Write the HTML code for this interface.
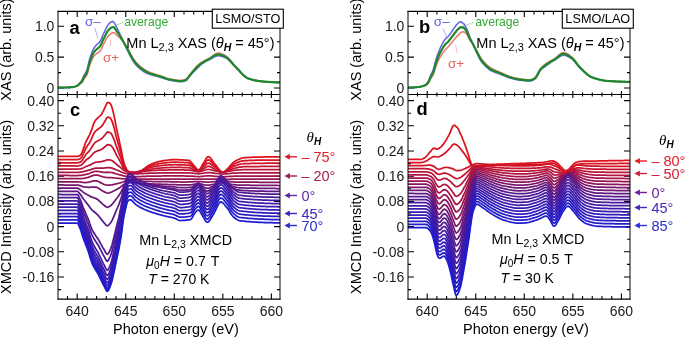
<!DOCTYPE html><html><head><meta charset="utf-8"><style>html,body{margin:0;padding:0;background:#fff;}svg{display:block;}</style></head><body>
<svg xmlns="http://www.w3.org/2000/svg" width="685" height="338" viewBox="0 0 685 338" style="will-change:transform">
<defs>
<clipPath id="clipA0"><rect x="58.0" y="11.5" width="222.0" height="83.0"/></clipPath>
<clipPath id="clipC0"><rect x="58.0" y="94.5" width="222.0" height="204.5"/></clipPath>
<clipPath id="clipA350"><rect x="408.0" y="11.5" width="222.0" height="83.0"/></clipPath>
<clipPath id="clipC350"><rect x="408.0" y="94.5" width="222.0" height="204.5"/></clipPath>
</defs>
<rect width="685" height="338" fill="#fff"/>
<g stroke="#000" stroke-width="1.1" fill="none">
<path d="M67.49 11.50v3.00M67.49 94.50v-2.00M67.49 94.50v2.00M67.49 299.00v-3.00M77.20 11.50v5.50M77.20 94.50v-3.40M77.20 94.50v3.40M77.20 299.00v-5.50M86.91 11.50v3.00M86.91 94.50v-2.00M86.91 94.50v2.00M86.91 299.00v-3.00M96.62 11.50v3.00M96.62 94.50v-2.00M96.62 94.50v2.00M96.62 299.00v-3.00M106.33 11.50v3.00M106.33 94.50v-2.00M106.33 94.50v2.00M106.33 299.00v-3.00M116.04 11.50v3.00M116.04 94.50v-2.00M116.04 94.50v2.00M116.04 299.00v-3.00M125.75 11.50v5.50M125.75 94.50v-3.40M125.75 94.50v3.40M125.75 299.00v-5.50M135.46 11.50v3.00M135.46 94.50v-2.00M135.46 94.50v2.00M135.46 299.00v-3.00M145.17 11.50v3.00M145.17 94.50v-2.00M145.17 94.50v2.00M145.17 299.00v-3.00M154.88 11.50v3.00M154.88 94.50v-2.00M154.88 94.50v2.00M154.88 299.00v-3.00M164.59 11.50v3.00M164.59 94.50v-2.00M164.59 94.50v2.00M164.59 299.00v-3.00M174.30 11.50v5.50M174.30 94.50v-3.40M174.30 94.50v3.40M174.30 299.00v-5.50M184.01 11.50v3.00M184.01 94.50v-2.00M184.01 94.50v2.00M184.01 299.00v-3.00M193.72 11.50v3.00M193.72 94.50v-2.00M193.72 94.50v2.00M193.72 299.00v-3.00M203.43 11.50v3.00M203.43 94.50v-2.00M203.43 94.50v2.00M203.43 299.00v-3.00M213.14 11.50v3.00M213.14 94.50v-2.00M213.14 94.50v2.00M213.14 299.00v-3.00M222.85 11.50v5.50M222.85 94.50v-3.40M222.85 94.50v3.40M222.85 299.00v-5.50M232.56 11.50v3.00M232.56 94.50v-2.00M232.56 94.50v2.00M232.56 299.00v-3.00M242.27 11.50v3.00M242.27 94.50v-2.00M242.27 94.50v2.00M242.27 299.00v-3.00M251.98 11.50v3.00M251.98 94.50v-2.00M251.98 94.50v2.00M251.98 299.00v-3.00M261.69 11.50v3.00M261.69 94.50v-2.00M261.69 94.50v2.00M261.69 299.00v-3.00M271.40 11.50v5.50M271.40 94.50v-3.40M271.40 94.50v3.40M271.40 299.00v-5.50M58.00 88.00h6.00M280.00 88.00h-6.00M58.00 72.58h3.00M280.00 72.58h-3.00M58.00 57.15h6.00M280.00 57.15h-6.00M58.00 41.72h3.00M280.00 41.72h-3.00M58.00 26.30h6.00M280.00 26.30h-6.00M58.00 289.60h3.00M280.00 289.60h-3.00M58.00 277.00h6.00M280.00 277.00h-6.00M58.00 264.40h3.00M280.00 264.40h-3.00M58.00 251.80h6.00M280.00 251.80h-6.00M58.00 239.20h3.00M280.00 239.20h-3.00M58.00 226.60h6.00M280.00 226.60h-6.00M58.00 214.00h3.00M280.00 214.00h-3.00M58.00 201.40h6.00M280.00 201.40h-6.00M58.00 188.80h3.00M280.00 188.80h-3.00M58.00 176.20h6.00M280.00 176.20h-6.00M58.00 163.60h3.00M280.00 163.60h-3.00M58.00 151.00h6.00M280.00 151.00h-6.00M58.00 138.40h3.00M280.00 138.40h-3.00M58.00 125.80h6.00M280.00 125.80h-6.00M58.00 113.20h3.00M280.00 113.20h-3.00M58.00 100.60h6.00M280.00 100.60h-6.00"/>
</g>
<g font-family='"Liberation Sans", sans-serif' font-size="14" fill="#1a1a1a" text-anchor="end">
<text x="54.40" y="93.00">0</text>
<text x="54.40" y="62.15">0.5</text>
<text x="54.40" y="31.30">1.0</text>
<text x="54.40" y="282.00">-0.16</text>
<text x="54.40" y="256.80">-0.08</text>
<text x="54.40" y="231.60">0</text>
<text x="54.40" y="206.40">0.08</text>
<text x="54.40" y="181.20">0.16</text>
<text x="54.40" y="156.00">0.24</text>
<text x="54.40" y="130.80">0.32</text>
<text x="54.40" y="105.60">0.40</text>
</g>
<g font-family='"Liberation Sans", sans-serif' font-size="14" fill="#1a1a1a" text-anchor="middle">
<text x="77.20" y="315.8">640</text>
<text x="125.75" y="315.8">645</text>
<text x="174.30" y="315.8">650</text>
<text x="222.85" y="315.8">655</text>
<text x="271.40" y="315.8">660</text>
</g>
<g stroke="#000" stroke-width="1.1" fill="none">
<path d="M417.49 11.50v3.00M417.49 94.50v-2.00M417.49 94.50v2.00M417.49 299.00v-3.00M427.20 11.50v5.50M427.20 94.50v-3.40M427.20 94.50v3.40M427.20 299.00v-5.50M436.91 11.50v3.00M436.91 94.50v-2.00M436.91 94.50v2.00M436.91 299.00v-3.00M446.62 11.50v3.00M446.62 94.50v-2.00M446.62 94.50v2.00M446.62 299.00v-3.00M456.33 11.50v3.00M456.33 94.50v-2.00M456.33 94.50v2.00M456.33 299.00v-3.00M466.04 11.50v3.00M466.04 94.50v-2.00M466.04 94.50v2.00M466.04 299.00v-3.00M475.75 11.50v5.50M475.75 94.50v-3.40M475.75 94.50v3.40M475.75 299.00v-5.50M485.46 11.50v3.00M485.46 94.50v-2.00M485.46 94.50v2.00M485.46 299.00v-3.00M495.17 11.50v3.00M495.17 94.50v-2.00M495.17 94.50v2.00M495.17 299.00v-3.00M504.88 11.50v3.00M504.88 94.50v-2.00M504.88 94.50v2.00M504.88 299.00v-3.00M514.59 11.50v3.00M514.59 94.50v-2.00M514.59 94.50v2.00M514.59 299.00v-3.00M524.30 11.50v5.50M524.30 94.50v-3.40M524.30 94.50v3.40M524.30 299.00v-5.50M534.01 11.50v3.00M534.01 94.50v-2.00M534.01 94.50v2.00M534.01 299.00v-3.00M543.72 11.50v3.00M543.72 94.50v-2.00M543.72 94.50v2.00M543.72 299.00v-3.00M553.43 11.50v3.00M553.43 94.50v-2.00M553.43 94.50v2.00M553.43 299.00v-3.00M563.14 11.50v3.00M563.14 94.50v-2.00M563.14 94.50v2.00M563.14 299.00v-3.00M572.85 11.50v5.50M572.85 94.50v-3.40M572.85 94.50v3.40M572.85 299.00v-5.50M582.56 11.50v3.00M582.56 94.50v-2.00M582.56 94.50v2.00M582.56 299.00v-3.00M592.27 11.50v3.00M592.27 94.50v-2.00M592.27 94.50v2.00M592.27 299.00v-3.00M601.98 11.50v3.00M601.98 94.50v-2.00M601.98 94.50v2.00M601.98 299.00v-3.00M611.69 11.50v3.00M611.69 94.50v-2.00M611.69 94.50v2.00M611.69 299.00v-3.00M621.40 11.50v5.50M621.40 94.50v-3.40M621.40 94.50v3.40M621.40 299.00v-5.50M408.00 88.00h6.00M630.00 88.00h-6.00M408.00 72.58h3.00M630.00 72.58h-3.00M408.00 57.15h6.00M630.00 57.15h-6.00M408.00 41.72h3.00M630.00 41.72h-3.00M408.00 26.30h6.00M630.00 26.30h-6.00M408.00 289.60h3.00M630.00 289.60h-3.00M408.00 277.00h6.00M630.00 277.00h-6.00M408.00 264.40h3.00M630.00 264.40h-3.00M408.00 251.80h6.00M630.00 251.80h-6.00M408.00 239.20h3.00M630.00 239.20h-3.00M408.00 226.60h6.00M630.00 226.60h-6.00M408.00 214.00h3.00M630.00 214.00h-3.00M408.00 201.40h6.00M630.00 201.40h-6.00M408.00 188.80h3.00M630.00 188.80h-3.00M408.00 176.20h6.00M630.00 176.20h-6.00M408.00 163.60h3.00M630.00 163.60h-3.00M408.00 151.00h6.00M630.00 151.00h-6.00M408.00 138.40h3.00M630.00 138.40h-3.00M408.00 125.80h6.00M630.00 125.80h-6.00M408.00 113.20h3.00M630.00 113.20h-3.00M408.00 100.60h6.00M630.00 100.60h-6.00"/>
</g>
<g font-family='"Liberation Sans", sans-serif' font-size="14" fill="#1a1a1a" text-anchor="end">
<text x="404.40" y="93.00">0</text>
<text x="404.40" y="62.15">0.5</text>
<text x="404.40" y="31.30">1.0</text>
<text x="404.40" y="282.00">-0.16</text>
<text x="404.40" y="256.80">-0.08</text>
<text x="404.40" y="231.60">0</text>
<text x="404.40" y="206.40">0.08</text>
<text x="404.40" y="181.20">0.16</text>
<text x="404.40" y="156.00">0.24</text>
<text x="404.40" y="130.80">0.32</text>
<text x="404.40" y="105.60">0.40</text>
</g>
<g font-family='"Liberation Sans", sans-serif' font-size="14" fill="#1a1a1a" text-anchor="middle">
<text x="427.20" y="315.8">640</text>
<text x="475.75" y="315.8">645</text>
<text x="524.30" y="315.8">650</text>
<text x="572.85" y="315.8">655</text>
<text x="621.40" y="315.8">660</text>
</g>
<g fill="none" stroke-linejoin="round" clip-path="url(#clipA0)">
<path d="M57.8 87.6 58.8 87.6 59.7 87.6 60.7 87.6 61.7 87.6 62.6 87.6 63.6 87.6 64.6 87.5 65.5 87.5 66.5 87.5 67.5 87.4 68.5 87.4 69.4 87.4 70.4 87.3 71.4 87.2 72.3 87.2 73.3 87.0 74.3 86.8 75.3 86.5 76.2 86.1 77.2 85.7 78.2 85.2 79.1 84.5 80.1 83.9 81.1 83.2 82.1 82.4 83.0 80.8 84.0 78.7 85.0 77.7 85.9 76.6 86.9 75.1 87.9 71.8 88.9 67.9 89.8 64.8 90.8 62.3 91.8 60.2 92.7 58.2 93.7 56.4 94.7 55.3 95.6 54.5 96.6 53.7 97.6 53.0 98.6 52.4 99.5 51.6 100.5 50.5 101.5 48.6 102.4 46.3 103.4 44.4 104.4 42.5 105.4 40.7 106.3 38.9 107.3 37.2 108.3 36.1 109.2 35.1 110.2 34.2 111.2 33.5 112.2 32.9 113.1 32.5 114.1 32.7 115.1 33.4 116.0 34.4 117.0 35.3 118.0 36.0 119.0 36.9 119.9 37.9 120.9 39.0 121.9 40.1 122.8 41.3 123.8 42.5 124.8 43.9 125.8 45.4 126.7 47.0 127.7 48.6 128.7 50.3 129.6 52.1 130.6 53.9 131.6 55.6 132.5 57.3 133.5 58.9 134.5 60.3 135.5 61.6 136.4 62.7 137.4 63.6 138.4 64.6 139.3 65.5 140.3 66.4 141.3 67.1 142.3 67.9 143.2 68.6 144.2 69.3 145.2 69.9 146.1 70.5 147.1 71.0 148.1 71.5 149.1 71.9 150.0 72.4 151.0 72.8 152.0 73.1 152.9 73.5 153.9 73.8 154.9 74.1 155.9 74.4 156.8 74.7 157.8 75.0 158.8 75.2 159.7 75.5 160.7 75.9 161.7 76.2 162.6 76.6 163.6 76.9 164.6 77.3 165.6 77.7 166.5 78.0 167.5 78.3 168.5 78.6 169.4 78.9 170.4 79.1 171.4 79.2 172.4 79.4 173.3 79.6 174.3 79.8 175.3 79.9 176.2 80.1 177.2 80.2 178.2 80.3 179.2 80.4 180.1 80.4 181.1 80.4 182.1 80.3 183.0 80.2 184.0 79.9 185.0 79.6 186.0 79.2 186.9 78.5 187.9 77.3 188.9 76.0 189.8 74.6 190.8 73.4 191.8 72.2 192.7 70.9 193.7 69.7 194.7 68.5 195.7 67.4 196.6 66.4 197.6 65.4 198.6 64.5 199.5 63.7 200.5 63.0 201.5 62.4 202.5 61.8 203.4 61.3 204.4 60.8 205.4 60.3 206.3 59.8 207.3 59.3 208.3 58.8 209.3 58.2 210.2 57.6 211.2 56.9 212.2 56.1 213.1 55.4 214.1 54.7 215.1 54.1 216.1 53.6 217.0 53.3 218.0 53.1 219.0 53.1 219.9 53.3 220.9 53.6 221.9 54.0 222.9 54.4 223.8 54.9 224.8 55.4 225.8 56.0 226.7 56.6 227.7 57.4 228.7 58.4 229.6 59.4 230.6 60.5 231.6 61.7 232.6 62.9 233.5 64.1 234.5 65.3 235.5 66.4 236.4 67.4 237.4 68.4 238.4 69.5 239.4 70.6 240.3 71.7 241.3 72.8 242.3 73.8 243.2 74.8 244.2 75.7 245.2 76.5 246.2 77.2 247.1 77.8 248.1 78.2 249.1 78.6 250.0 78.9 251.0 79.2 252.0 79.5 253.0 79.7 253.9 80.0 254.9 80.2 255.9 80.4 256.8 80.6 257.8 80.8 258.8 80.9 259.7 81.1 260.7 81.2 261.7 81.3 262.7 81.4 263.6 81.5 264.6 81.6 265.6 81.7 266.5 81.8 267.5 81.8 268.5 81.9 269.5 82.0 270.4 82.1 271.4 82.1 272.4 82.2 273.3 82.2 274.3 82.3 275.3 82.3 276.3 82.4 277.2 82.4 278.2 82.4 279.2 82.4 280.1 82.4" stroke="#ec7a76" stroke-width="1.6"/>
<path d="M57.8 87.6 58.8 87.6 59.7 87.6 60.7 87.6 61.7 87.6 62.6 87.6 63.6 87.6 64.6 87.5 65.5 87.5 66.5 87.5 67.5 87.4 68.5 87.4 69.4 87.4 70.4 87.3 71.4 87.2 72.3 87.2 73.3 87.0 74.3 86.8 75.3 86.5 76.2 86.1 77.2 85.7 78.2 85.0 79.1 83.9 80.1 82.6 81.1 81.3 82.1 79.9 83.0 77.8 84.0 75.3 85.0 73.7 85.9 72.2 86.9 70.2 87.9 66.4 88.9 62.0 89.8 58.5 90.8 55.6 91.8 53.0 92.7 50.6 93.7 48.5 94.7 47.0 95.6 45.9 96.6 44.8 97.6 43.9 98.6 43.0 99.5 42.1 100.5 40.8 101.5 38.7 102.4 36.2 103.4 34.0 104.4 31.9 105.4 29.8 106.3 27.8 107.3 26.0 108.3 24.6 109.2 23.5 110.2 22.5 111.2 21.8 112.2 21.4 113.1 21.6 114.1 22.6 115.1 24.2 116.0 26.1 117.0 28.1 118.0 30.1 119.0 32.1 119.9 34.1 120.9 36.2 121.9 38.3 122.8 40.4 123.8 42.5 124.8 44.6 125.8 46.7 126.7 48.7 127.7 50.7 128.7 52.7 129.6 54.7 130.6 56.6 131.6 58.3 132.5 60.0 133.5 61.6 134.5 63.0 135.5 64.3 136.4 65.4 137.4 66.4 138.4 67.3 139.3 68.2 140.3 69.1 141.3 69.9 142.3 70.6 143.2 71.2 144.2 71.8 145.2 72.4 146.1 72.9 147.1 73.3 148.1 73.7 149.1 74.1 150.0 74.4 151.0 74.7 152.0 75.0 152.9 75.3 153.9 75.6 154.9 75.8 155.9 76.1 156.8 76.3 157.8 76.6 158.8 76.8 159.7 77.1 160.7 77.4 161.7 77.7 162.6 78.0 163.6 78.3 164.6 78.7 165.6 79.0 166.5 79.3 167.5 79.6 168.5 79.9 169.4 80.1 170.4 80.3 171.4 80.5 172.4 80.7 173.3 80.8 174.3 81.0 175.3 81.2 176.2 81.3 177.2 81.4 178.2 81.5 179.2 81.6 180.1 81.6 181.1 81.6 182.1 81.6 183.0 81.4 184.0 81.2 185.0 80.8 186.0 80.5 186.9 79.8 187.9 78.6 188.9 77.2 189.8 75.9 190.8 74.9 191.8 73.8 192.7 72.8 193.7 71.7 194.7 70.8 195.7 69.8 196.6 68.9 197.6 67.9 198.6 66.9 199.5 65.9 200.5 65.0 201.5 64.2 202.5 63.5 203.4 62.8 204.4 62.2 205.4 61.6 206.3 61.1 207.3 60.6 208.3 60.1 209.3 59.7 210.2 59.2 211.2 58.7 212.2 58.1 213.1 57.6 214.1 57.0 215.1 56.6 216.1 56.2 217.0 55.9 218.0 55.8 219.0 55.8 219.9 55.9 220.9 56.1 221.9 56.4 222.9 56.7 223.8 57.1 224.8 57.5 225.8 57.9 226.7 58.5 227.7 59.1 228.7 60.0 229.6 60.9 230.6 61.9 231.6 63.0 232.6 64.1 233.5 65.2 234.5 66.2 235.5 67.2 236.4 68.1 237.4 69.1 238.4 70.1 239.4 71.1 240.3 72.1 241.3 73.2 242.3 74.2 243.2 75.1 244.2 76.0 245.2 76.8 246.2 77.5 247.1 78.1 248.1 78.5 249.1 78.8 250.0 79.1 251.0 79.4 252.0 79.7 253.0 79.9 253.9 80.2 254.9 80.4 255.9 80.6 256.8 80.8 257.8 80.9 258.8 81.1 259.7 81.2 260.7 81.3 261.7 81.4 262.7 81.5 263.6 81.6 264.6 81.7 265.6 81.7 266.5 81.8 267.5 81.9 268.5 82.0 269.5 82.0 270.4 82.1 271.4 82.1 272.4 82.2 273.3 82.2 274.3 82.3 275.3 82.3 276.3 82.4 277.2 82.4 278.2 82.4 279.2 82.4 280.1 82.4" stroke="#6a6ae6" stroke-width="1.6"/>
<path d="M57.8 87.6 58.8 87.6 59.7 87.6 60.7 87.6 61.7 87.6 62.6 87.6 63.6 87.6 64.6 87.5 65.5 87.5 66.5 87.5 67.5 87.4 68.5 87.4 69.4 87.4 70.4 87.3 71.4 87.2 72.3 87.2 73.3 87.0 74.3 86.8 75.3 86.5 76.2 86.1 77.2 85.7 78.2 85.1 79.1 84.2 80.1 83.2 81.1 82.3 82.1 81.1 83.0 79.3 84.0 77.0 85.0 75.7 85.9 74.4 86.9 72.7 87.9 69.1 88.9 65.0 89.8 61.7 90.8 59.0 91.8 56.6 92.7 54.4 93.7 52.4 94.7 51.2 95.6 50.2 96.6 49.3 97.6 48.5 98.6 47.7 99.5 46.8 100.5 45.6 101.5 43.6 102.4 41.3 103.4 39.2 104.4 37.2 105.4 35.3 106.3 33.4 107.3 31.6 108.3 30.4 109.2 29.3 110.2 28.4 111.2 27.6 112.2 27.2 113.1 27.1 114.1 27.6 115.1 28.8 116.0 30.2 117.0 31.7 118.0 33.0 119.0 34.5 119.9 36.0 120.9 37.6 121.9 39.2 122.8 40.8 123.8 42.5 124.8 44.3 125.8 46.1 126.7 47.8 127.7 49.7 128.7 51.5 129.6 53.4 130.6 55.2 131.6 57.0 132.5 58.6 133.5 60.2 134.5 61.7 135.5 62.9 136.4 64.0 137.4 65.0 138.4 66.0 139.3 66.9 140.3 67.7 141.3 68.5 142.3 69.2 143.2 69.9 144.2 70.5 145.2 71.1 146.1 71.7 147.1 72.2 148.1 72.6 149.1 73.0 150.0 73.4 151.0 73.8 152.0 74.1 152.9 74.4 153.9 74.7 154.9 75.0 155.9 75.2 156.8 75.5 157.8 75.8 158.8 76.0 159.7 76.3 160.7 76.6 161.7 76.9 162.6 77.3 163.6 77.6 164.6 78.0 165.6 78.3 166.5 78.7 167.5 79.0 168.5 79.3 169.4 79.5 170.4 79.7 171.4 79.9 172.4 80.0 173.3 80.2 174.3 80.4 175.3 80.5 176.2 80.7 177.2 80.8 178.2 80.9 179.2 81.0 180.1 81.0 181.1 81.0 182.1 81.0 183.0 80.8 184.0 80.5 185.0 80.2 186.0 79.9 186.9 79.1 187.9 77.9 188.9 76.6 189.8 75.3 190.8 74.1 191.8 73.0 192.7 71.8 193.7 70.7 194.7 69.6 195.7 68.6 196.6 67.6 197.6 66.6 198.6 65.7 199.5 64.8 200.5 64.0 201.5 63.3 202.5 62.7 203.4 62.1 204.4 61.5 205.4 61.0 206.3 60.4 207.3 59.9 208.3 59.4 209.3 58.9 210.2 58.4 211.2 57.8 212.2 57.1 213.1 56.5 214.1 55.9 215.1 55.3 216.1 54.9 217.0 54.6 218.0 54.4 219.0 54.5 219.9 54.6 220.9 54.9 221.9 55.2 222.9 55.6 223.8 56.0 224.8 56.5 225.8 57.0 226.7 57.5 227.7 58.3 228.7 59.2 229.6 60.2 230.6 61.2 231.6 62.4 232.6 63.5 233.5 64.7 234.5 65.8 235.5 66.8 236.4 67.7 237.4 68.7 238.4 69.8 239.4 70.8 240.3 71.9 241.3 73.0 242.3 74.0 243.2 75.0 244.2 75.9 245.2 76.7 246.2 77.4 247.1 78.0 248.1 78.4 249.1 78.7 250.0 79.0 251.0 79.3 252.0 79.6 253.0 79.8 253.9 80.1 254.9 80.3 255.9 80.5 256.8 80.7 257.8 80.8 258.8 81.0 259.7 81.1 260.7 81.3 261.7 81.4 262.7 81.5 263.6 81.5 264.6 81.6 265.6 81.7 266.5 81.8 267.5 81.9 268.5 81.9 269.5 82.0 270.4 82.1 271.4 82.1 272.4 82.2 273.3 82.2 274.3 82.3 275.3 82.3 276.3 82.4 277.2 82.4 278.2 82.4 279.2 82.4 280.1 82.4" stroke="#1c8a28" stroke-width="2.2"/>
</g>
<g fill="none" stroke-linejoin="round" clip-path="url(#clipA350)">
<path d="M407.8 87.6 408.8 87.6 409.7 87.6 410.7 87.6 411.7 87.5 412.6 87.5 413.6 87.4 414.6 87.4 415.5 87.3 416.5 87.2 417.5 87.1 418.5 87.0 419.4 86.9 420.4 86.7 421.4 86.5 422.3 86.3 423.3 86.0 424.3 85.7 425.3 85.4 426.2 85.0 427.2 84.3 428.2 83.4 429.1 82.0 430.1 79.8 431.1 78.0 432.1 76.8 433.0 75.3 434.0 72.8 435.0 69.5 435.9 66.5 436.9 63.8 437.9 61.4 438.9 59.3 439.8 57.5 440.8 56.0 441.8 54.5 442.7 53.0 443.7 51.6 444.7 50.4 445.6 49.3 446.6 48.4 447.6 47.5 448.6 46.4 449.5 45.2 450.5 44.0 451.5 42.9 452.4 41.7 453.4 40.6 454.4 39.4 455.4 38.2 456.3 37.1 457.3 36.0 458.3 35.1 459.2 34.1 460.2 32.9 461.2 32.3 462.2 32.0 463.1 31.9 464.1 32.0 465.1 32.6 466.0 33.6 467.0 34.8 468.0 36.4 469.0 38.4 469.9 40.2 470.9 41.5 471.9 42.6 472.8 43.8 473.8 45.4 474.8 47.1 475.8 49.0 476.7 50.7 477.7 52.4 478.7 54.1 479.6 56.0 480.6 57.7 481.6 59.1 482.5 60.3 483.5 61.4 484.5 62.5 485.5 63.5 486.4 64.5 487.4 65.4 488.4 66.2 489.3 67.0 490.3 67.7 491.3 68.3 492.3 68.8 493.2 69.3 494.2 69.8 495.2 70.2 496.1 70.6 497.1 71.1 498.1 71.5 499.1 71.9 500.0 72.3 501.0 72.7 502.0 73.1 502.9 73.6 503.9 74.0 504.9 74.5 505.9 74.9 506.8 75.3 507.8 75.7 508.8 76.1 509.7 76.4 510.7 76.7 511.7 77.0 512.6 77.3 513.6 77.6 514.6 77.8 515.6 78.1 516.5 78.3 517.5 78.5 518.5 78.7 519.4 78.8 520.4 79.0 521.4 79.1 522.4 79.2 523.3 79.3 524.3 79.5 525.3 79.6 526.2 79.6 527.2 79.7 528.2 79.8 529.2 79.8 530.1 79.8 531.1 79.6 532.1 79.3 533.0 78.8 534.0 78.2 535.0 77.6 536.0 76.6 536.9 75.1 537.9 73.3 538.9 71.5 539.8 69.8 540.8 68.4 541.8 67.3 542.7 66.3 543.7 65.4 544.7 64.6 545.7 63.9 546.6 63.2 547.6 62.6 548.6 62.1 549.5 61.5 550.5 61.0 551.5 60.5 552.5 60.0 553.4 59.5 554.4 58.9 555.4 58.2 556.3 57.5 557.3 56.6 558.3 55.7 559.3 54.8 560.2 54.0 561.2 53.3 562.2 52.7 563.1 52.5 564.1 52.5 565.1 52.7 566.1 53.1 567.0 53.6 568.0 54.2 569.0 54.9 569.9 55.6 570.9 56.3 571.9 57.1 572.9 58.0 573.8 59.0 574.8 60.3 575.8 61.6 576.7 63.0 577.7 64.3 578.7 65.6 579.6 66.7 580.6 67.7 581.6 68.7 582.6 69.7 583.5 70.7 584.5 71.7 585.5 72.6 586.4 73.5 587.4 74.3 588.4 75.1 589.4 75.8 590.3 76.4 591.3 76.9 592.3 77.3 593.2 77.6 594.2 77.9 595.2 78.3 596.2 78.6 597.1 78.9 598.1 79.1 599.1 79.4 600.0 79.7 601.0 79.9 602.0 80.1 603.0 80.3 603.9 80.5 604.9 80.6 605.9 80.7 606.8 80.8 607.8 80.9 608.8 81.0 609.7 81.1 610.7 81.1 611.7 81.2 612.7 81.3 613.6 81.3 614.6 81.4 615.6 81.4 616.5 81.5 617.5 81.5 618.5 81.5 619.5 81.6 620.4 81.6 621.4 81.7 622.4 81.7 623.3 81.7 624.3 81.7 625.3 81.8 626.3 81.8 627.2 81.8 628.2 81.8 629.2 81.8 630.1 81.8" stroke="#ec7a76" stroke-width="1.6"/>
<path d="M407.8 87.6 408.8 87.6 409.7 87.6 410.7 87.6 411.7 87.5 412.6 87.5 413.6 87.4 414.6 87.4 415.5 87.3 416.5 87.2 417.5 87.1 418.5 87.0 419.4 86.9 420.4 86.7 421.4 86.5 422.3 86.3 423.3 86.0 424.3 85.5 425.3 85.0 426.2 84.1 427.2 82.9 428.2 81.5 429.1 79.5 430.1 76.8 431.1 74.4 432.1 72.5 433.0 70.3 434.0 67.3 435.0 63.4 435.9 59.9 436.9 56.7 437.9 53.8 438.9 51.3 439.8 49.0 440.8 46.9 441.8 44.9 442.7 43.0 443.7 41.3 444.7 39.9 445.6 38.8 446.6 37.9 447.6 37.0 448.6 36.0 449.5 34.8 450.5 33.4 451.5 32.0 452.4 30.5 453.4 29.0 454.4 27.7 455.4 26.3 456.3 25.1 457.3 24.0 458.3 23.0 459.2 22.2 460.2 21.7 461.2 21.9 462.2 22.5 463.1 23.3 464.1 24.1 465.1 25.6 466.0 27.4 467.0 29.4 468.0 31.8 469.0 34.7 469.9 37.4 470.9 39.7 471.9 41.7 472.8 43.8 473.8 46.1 474.8 48.4 475.8 50.6 476.7 52.7 477.7 54.7 478.7 56.6 479.6 58.6 480.6 60.4 481.6 61.8 482.5 63.0 483.5 64.1 484.5 65.2 485.5 66.1 486.4 67.1 487.4 67.9 488.4 68.8 489.3 69.5 490.3 70.2 491.3 70.7 492.3 71.2 493.2 71.6 494.2 72.0 495.2 72.4 496.1 72.8 497.1 73.1 498.1 73.5 499.1 73.8 500.0 74.1 501.0 74.5 502.0 74.9 502.9 75.3 503.9 75.7 504.9 76.1 505.9 76.5 506.8 76.9 507.8 77.3 508.8 77.6 509.7 77.9 510.7 78.2 511.7 78.4 512.6 78.7 513.6 78.9 514.6 79.2 515.6 79.4 516.5 79.6 517.5 79.8 518.5 80.0 519.4 80.1 520.4 80.2 521.4 80.4 522.4 80.5 523.3 80.6 524.3 80.7 525.3 80.8 526.2 80.9 527.2 80.9 528.2 81.0 529.2 81.0 530.1 81.0 531.1 80.8 532.1 80.5 533.0 80.0 534.0 79.5 535.0 78.9 536.0 77.9 536.9 76.3 537.9 74.6 538.9 72.7 539.8 71.1 540.8 69.8 541.8 69.0 542.7 68.2 543.7 67.5 544.7 66.8 545.7 66.1 546.6 65.4 547.6 64.7 548.6 64.0 549.5 63.3 550.5 62.6 551.5 61.9 552.5 61.3 553.4 60.7 554.4 60.2 555.4 59.6 556.3 59.0 557.3 58.4 558.3 57.7 559.3 57.0 560.2 56.4 561.2 55.8 562.2 55.4 563.1 55.2 564.1 55.2 565.1 55.4 566.1 55.6 567.0 56.0 568.0 56.5 569.0 57.1 569.9 57.7 570.9 58.3 571.9 58.9 572.9 59.7 573.8 60.7 574.8 61.8 575.8 63.0 576.7 64.3 577.7 65.5 578.7 66.6 579.6 67.6 580.6 68.5 581.6 69.4 582.6 70.4 583.5 71.3 584.5 72.2 585.5 73.1 586.4 73.9 587.4 74.7 588.4 75.4 589.4 76.1 590.3 76.7 591.3 77.2 592.3 77.5 593.2 77.9 594.2 78.2 595.2 78.5 596.2 78.8 597.1 79.1 598.1 79.4 599.1 79.6 600.0 79.8 601.0 80.1 602.0 80.2 603.0 80.4 603.9 80.6 604.9 80.7 605.9 80.9 606.8 81.0 607.8 81.0 608.8 81.1 609.7 81.2 610.7 81.2 611.7 81.3 612.7 81.3 613.6 81.4 614.6 81.4 615.6 81.5 616.5 81.5 617.5 81.5 618.5 81.6 619.5 81.6 620.4 81.6 621.4 81.7 622.4 81.7 623.3 81.7 624.3 81.8 625.3 81.8 626.3 81.8 627.2 81.8 628.2 81.8 629.2 81.8 630.1 81.8" stroke="#6a6ae6" stroke-width="1.6"/>
<path d="M407.8 87.6 408.8 87.6 409.7 87.6 410.7 87.6 411.7 87.5 412.6 87.5 413.6 87.4 414.6 87.4 415.5 87.3 416.5 87.2 417.5 87.1 418.5 87.0 419.4 86.9 420.4 86.7 421.4 86.5 422.3 86.3 423.3 86.0 424.3 85.6 425.3 85.2 426.2 84.5 427.2 83.6 428.2 82.5 429.1 80.8 430.1 78.3 431.1 76.2 432.1 74.6 433.0 72.8 434.0 70.0 435.0 66.4 435.9 63.2 436.9 60.2 437.9 57.6 438.9 55.3 439.8 53.2 440.8 51.4 441.8 49.7 442.7 48.0 443.7 46.5 444.7 45.1 445.6 44.0 446.6 43.2 447.6 42.3 448.6 41.2 449.5 40.0 450.5 38.7 451.5 37.5 452.4 36.1 453.4 34.8 454.4 33.5 455.4 32.3 456.3 31.1 457.3 30.0 458.3 29.0 459.2 28.1 460.2 27.3 461.2 27.1 462.2 27.3 463.1 27.6 464.1 28.1 465.1 29.1 466.0 30.5 467.0 32.1 468.0 34.1 469.0 36.5 469.9 38.8 470.9 40.6 471.9 42.2 472.8 43.8 473.8 45.7 474.8 47.8 475.8 49.8 476.7 51.7 477.7 53.5 478.7 55.4 479.6 57.3 480.6 59.1 481.6 60.5 482.5 61.7 483.5 62.8 484.5 63.8 485.5 64.8 486.4 65.8 487.4 66.7 488.4 67.5 489.3 68.3 490.3 68.9 491.3 69.5 492.3 70.0 493.2 70.5 494.2 70.9 495.2 71.3 496.1 71.7 497.1 72.1 498.1 72.5 499.1 72.8 500.0 73.2 501.0 73.6 502.0 74.0 502.9 74.4 503.9 74.9 504.9 75.3 505.9 75.7 506.8 76.1 507.8 76.5 508.8 76.9 509.7 77.2 510.7 77.5 511.7 77.7 512.6 78.0 513.6 78.3 514.6 78.5 515.6 78.7 516.5 78.9 517.5 79.1 518.5 79.3 519.4 79.5 520.4 79.6 521.4 79.7 522.4 79.8 523.3 80.0 524.3 80.1 525.3 80.2 526.2 80.3 527.2 80.3 528.2 80.4 529.2 80.4 530.1 80.4 531.1 80.2 532.1 79.9 533.0 79.4 534.0 78.9 535.0 78.2 536.0 77.2 536.9 75.7 537.9 73.9 538.9 72.1 539.8 70.4 540.8 69.1 541.8 68.1 542.7 67.3 543.7 66.5 544.7 65.7 545.7 65.0 546.6 64.3 547.6 63.7 548.6 63.0 549.5 62.4 550.5 61.8 551.5 61.2 552.5 60.7 553.4 60.1 554.4 59.5 555.4 58.9 556.3 58.3 557.3 57.5 558.3 56.7 559.3 55.9 560.2 55.2 561.2 54.5 562.2 54.1 563.1 53.8 564.1 53.8 565.1 54.0 566.1 54.4 567.0 54.8 568.0 55.3 569.0 56.0 569.9 56.6 570.9 57.3 571.9 58.0 572.9 58.8 573.8 59.9 574.8 61.0 575.8 62.3 576.7 63.6 577.7 64.9 578.7 66.1 579.6 67.1 580.6 68.1 581.6 69.1 582.6 70.0 583.5 71.0 584.5 71.9 585.5 72.8 586.4 73.7 587.4 74.5 588.4 75.3 589.4 75.9 590.3 76.5 591.3 77.0 592.3 77.4 593.2 77.7 594.2 78.1 595.2 78.4 596.2 78.7 597.1 79.0 598.1 79.3 599.1 79.5 600.0 79.7 601.0 80.0 602.0 80.2 603.0 80.4 603.9 80.5 604.9 80.7 605.9 80.8 606.8 80.9 607.8 81.0 608.8 81.1 609.7 81.1 610.7 81.2 611.7 81.2 612.7 81.3 613.6 81.3 614.6 81.4 615.6 81.4 616.5 81.5 617.5 81.5 618.5 81.6 619.5 81.6 620.4 81.6 621.4 81.7 622.4 81.7 623.3 81.7 624.3 81.7 625.3 81.8 626.3 81.8 627.2 81.8 628.2 81.8 629.2 81.8 630.1 81.8" stroke="#1c8a28" stroke-width="2.2"/>
</g>
<g fill="none" stroke-width="1.75" stroke-linejoin="round" clip-path="url(#clipC0)">
<path d="M57.8 156.4 58.8 156.4 59.7 156.4 60.7 156.4 61.7 156.4 62.6 156.4 63.6 156.4 64.6 156.4 65.5 156.4 66.5 156.4 67.5 156.4 68.5 156.4 69.4 156.4 70.4 156.4 71.4 156.4 72.3 156.4 73.3 156.4 74.3 156.4 75.3 156.4 76.2 156.4 77.2 156.4 78.2 156.3 79.1 155.9 80.1 155.4 81.1 154.3 82.1 152.4 83.0 149.9 84.0 147.1 85.0 144.4 85.9 141.8 86.9 139.8 87.9 138.0 88.9 136.2 89.8 134.3 90.8 131.9 91.8 129.2 92.7 126.4 93.7 123.7 94.7 121.6 95.6 120.1 96.6 119.0 97.6 118.1 98.6 117.1 99.5 116.3 100.5 115.4 101.5 114.3 102.4 112.7 103.4 110.8 104.4 108.7 105.4 106.7 106.3 104.5 107.3 102.6 108.3 102.5 109.2 102.8 110.2 103.5 111.2 105.2 112.2 108.2 113.1 111.6 114.1 115.9 115.1 120.9 116.0 126.0 117.0 130.6 118.0 135.1 119.0 139.5 119.9 143.9 120.9 148.5 121.9 153.6 122.8 158.4 123.8 162.4 124.8 165.3 125.8 167.7 126.7 169.7 127.7 171.0 128.7 171.8 129.6 172.4 130.6 173.0 131.6 173.3 132.5 173.5 133.5 173.4 134.5 173.2 135.5 173.0 136.4 172.6 137.4 172.3 138.4 171.8 139.3 171.4 140.3 171.0 141.3 170.5 142.3 169.9 143.2 169.3 144.2 168.6 145.2 167.9 146.1 167.1 147.1 166.4 148.1 165.8 149.1 165.2 150.0 164.7 151.0 164.3 152.0 163.8 152.9 163.4 153.9 163.1 154.9 162.7 155.9 162.4 156.8 162.1 157.8 161.8 158.8 161.6 159.7 161.4 160.7 161.2 161.7 161.1 162.6 160.9 163.6 160.7 164.6 160.6 165.6 160.4 166.5 160.3 167.5 160.2 168.5 160.0 169.4 159.9 170.4 159.9 171.4 159.8 172.4 159.7 173.3 159.7 174.3 159.7 175.3 159.7 176.2 159.7 177.2 159.7 178.2 159.7 179.2 159.8 180.1 159.8 181.1 159.8 182.1 159.9 183.0 159.9 184.0 160.0 185.0 160.1 186.0 160.1 186.9 160.2 187.9 160.3 188.9 160.4 189.8 160.8 190.8 161.8 191.8 162.9 192.7 164.2 193.7 165.3 194.7 166.4 195.7 167.7 196.6 168.9 197.6 169.7 198.6 170.1 199.5 169.6 200.5 168.3 201.5 166.6 202.5 164.7 203.4 163.2 204.4 161.6 205.4 159.9 206.3 158.3 207.3 157.1 208.3 156.7 209.3 157.0 210.2 157.7 211.2 158.9 212.2 160.2 213.1 161.7 214.1 163.1 215.1 164.3 216.1 165.4 217.0 166.7 218.0 168.0 219.0 169.3 219.9 170.5 220.9 171.5 221.9 172.1 222.9 172.3 223.8 172.1 224.8 171.5 225.8 170.6 226.7 169.6 227.7 168.5 228.7 167.5 229.6 166.5 230.6 165.4 231.6 164.3 232.6 163.2 233.5 162.3 234.5 161.6 235.5 161.0 236.4 160.5 237.4 160.0 238.4 159.5 239.4 159.1 240.3 158.7 241.3 158.3 242.3 158.0 243.2 157.8 244.2 157.6 245.2 157.5 246.2 157.5 247.1 157.5 248.1 157.4 249.1 157.4 250.0 157.3 251.0 157.3 252.0 157.3 253.0 157.2 253.9 157.2 254.9 157.2 255.9 157.1 256.8 157.1 257.8 157.1 258.8 157.0 259.7 157.0 260.7 157.0 261.7 157.0 262.7 157.0 263.6 156.9 264.6 156.9 265.6 156.9 266.5 156.9 267.5 156.9 268.5 156.9 269.5 156.9 270.4 156.8 271.4 156.8 272.4 156.8 273.3 156.8 274.3 156.8 275.3 156.8 276.3 156.8 277.2 156.8 278.2 156.8 279.2 156.8 280.1 156.8" stroke="#de121c"/>
<path d="M57.8 159.6 58.8 159.6 59.7 159.6 60.7 159.6 61.7 159.6 62.6 159.6 63.6 159.6 64.6 159.6 65.5 159.6 66.5 159.6 67.5 159.6 68.5 159.6 69.4 159.6 70.4 159.6 71.4 159.6 72.3 159.6 73.3 159.6 74.3 159.6 75.3 159.6 76.2 159.6 77.2 159.6 78.2 159.5 79.1 159.2 80.1 158.8 81.1 157.9 82.1 156.4 83.0 154.5 84.0 152.3 85.0 150.1 85.9 148.2 86.9 146.5 87.9 145.1 88.9 143.7 89.8 142.2 90.8 140.3 91.8 138.2 92.7 136.0 93.7 133.9 94.7 132.2 95.6 131.1 96.6 130.2 97.6 129.5 98.6 128.7 99.5 128.1 100.5 127.4 101.5 126.5 102.4 125.3 103.4 123.8 104.4 122.1 105.4 120.6 106.3 118.8 107.3 117.3 108.3 117.2 109.2 117.5 110.2 118.0 111.2 119.4 112.2 121.7 113.1 124.4 114.1 127.8 115.1 131.7 116.0 135.7 117.0 139.4 118.0 142.9 119.0 146.3 119.9 149.8 120.9 153.4 121.9 157.4 122.8 161.2 123.8 164.3 124.8 166.6 125.8 168.5 126.7 170.1 127.7 171.1 128.7 171.7 129.6 172.2 130.6 172.6 131.6 172.9 132.5 173.0 133.5 173.0 134.5 172.8 135.5 172.6 136.4 172.4 137.4 172.1 138.4 171.7 139.3 171.4 140.3 171.1 141.3 170.7 142.3 170.3 143.2 169.7 144.2 169.2 145.2 168.6 146.1 168.0 147.1 167.5 148.1 167.0 149.1 166.5 150.0 166.1 151.0 165.8 152.0 165.5 152.9 165.2 153.9 164.9 154.9 164.6 155.9 164.3 156.8 164.1 157.8 163.9 158.8 163.7 159.7 163.5 160.7 163.4 161.7 163.3 162.6 163.1 163.6 163.0 164.6 162.9 165.6 162.8 166.5 162.7 167.5 162.6 168.5 162.5 169.4 162.4 170.4 162.3 171.4 162.3 172.4 162.2 173.3 162.2 174.3 162.2 175.3 162.2 176.2 162.2 177.2 162.2 178.2 162.3 179.2 162.3 180.1 162.3 181.1 162.3 182.1 162.4 183.0 162.4 184.0 162.5 185.0 162.5 186.0 162.6 186.9 162.6 187.9 162.7 188.9 162.8 189.8 163.1 190.8 163.8 191.8 164.8 192.7 165.8 193.7 166.6 194.7 167.5 195.7 168.5 196.6 169.4 197.6 170.1 198.6 170.4 199.5 170.0 200.5 169.0 201.5 167.6 202.5 166.2 203.4 165.0 204.4 163.7 205.4 162.4 206.3 161.1 207.3 160.2 208.3 159.9 209.3 160.1 210.2 160.7 211.2 161.6 212.2 162.7 213.1 163.8 214.1 164.9 215.1 165.8 216.1 166.7 217.0 167.7 218.0 168.8 219.0 169.8 219.9 170.7 220.9 171.5 221.9 172.0 222.9 172.2 223.8 172.0 224.8 171.5 225.8 170.8 226.7 170.0 227.7 169.2 228.7 168.4 229.6 167.6 230.6 166.8 231.6 165.9 232.6 165.0 233.5 164.3 234.5 163.7 235.5 163.3 236.4 162.9 237.4 162.5 238.4 162.1 239.4 161.8 240.3 161.4 241.3 161.2 242.3 160.9 243.2 160.8 244.2 160.6 245.2 160.6 246.2 160.5 247.1 160.5 248.1 160.5 249.1 160.4 250.0 160.4 251.0 160.4 252.0 160.3 253.0 160.3 253.9 160.3 254.9 160.3 255.9 160.2 256.8 160.2 257.8 160.2 258.8 160.2 259.7 160.2 260.7 160.1 261.7 160.1 262.7 160.1 263.6 160.1 264.6 160.1 265.6 160.1 266.5 160.1 267.5 160.1 268.5 160.0 269.5 160.0 270.4 160.0 271.4 160.0 272.4 160.0 273.3 160.0 274.3 160.0 275.3 160.0 276.3 160.0 277.2 160.0 278.2 160.0 279.2 160.0 280.1 160.0" stroke="#d81221"/>
<path d="M57.8 162.7 58.8 162.7 59.7 162.7 60.7 162.7 61.7 162.7 62.6 162.8 63.6 162.8 64.6 162.8 65.5 162.8 66.5 162.8 67.5 162.8 68.5 162.8 69.4 162.8 70.4 162.8 71.4 162.8 72.3 162.8 73.3 162.8 74.3 162.8 75.3 162.8 76.2 162.8 77.2 162.8 78.2 162.7 79.1 162.5 80.1 162.2 81.1 161.6 82.1 160.5 83.0 159.1 84.0 157.5 85.0 155.9 85.9 154.5 86.9 153.3 87.9 152.3 88.9 151.3 89.8 150.2 90.8 148.8 91.8 147.3 92.7 145.7 93.7 144.2 94.7 143.0 95.6 142.1 96.6 141.5 97.6 141.0 98.6 140.4 99.5 140.0 100.5 139.4 101.5 138.8 102.4 137.9 103.4 136.8 104.4 135.6 105.4 134.5 106.3 133.2 107.3 132.2 108.3 132.1 109.2 132.3 110.2 132.7 111.2 133.6 112.2 135.3 113.1 137.3 114.1 139.7 115.1 142.6 116.0 145.5 117.0 148.1 118.0 150.7 119.0 153.2 119.9 155.7 120.9 158.3 121.9 161.2 122.8 164.0 123.8 166.2 124.8 167.9 125.8 169.3 126.7 170.4 127.7 171.1 128.7 171.6 129.6 171.9 130.6 172.3 131.6 172.5 132.5 172.5 133.5 172.5 134.5 172.4 135.5 172.3 136.4 172.1 137.4 171.9 138.4 171.6 139.3 171.4 140.3 171.1 141.3 170.9 142.3 170.5 143.2 170.2 144.2 169.8 145.2 169.4 146.1 168.9 147.1 168.5 148.1 168.2 149.1 167.8 150.0 167.5 151.0 167.3 152.0 167.1 152.9 166.9 153.9 166.6 154.9 166.4 155.9 166.3 156.8 166.1 157.8 165.9 158.8 165.8 159.7 165.7 160.7 165.6 161.7 165.5 162.6 165.4 163.6 165.3 164.6 165.2 165.6 165.1 166.5 165.1 167.5 165.0 168.5 164.9 169.4 164.9 170.4 164.8 171.4 164.8 172.4 164.8 173.3 164.7 174.3 164.7 175.3 164.7 176.2 164.7 177.2 164.8 178.2 164.8 179.2 164.8 180.1 164.8 181.1 164.8 182.1 164.9 183.0 164.9 184.0 164.9 185.0 165.0 186.0 165.0 186.9 165.1 187.9 165.1 188.9 165.2 189.8 165.4 190.8 165.9 191.8 166.6 192.7 167.3 193.7 167.9 194.7 168.6 195.7 169.3 196.6 170.0 197.6 170.5 198.6 170.7 199.5 170.4 200.5 169.7 201.5 168.7 202.5 167.6 203.4 166.7 204.4 165.9 205.4 164.9 206.3 164.0 207.3 163.3 208.3 163.1 209.3 163.2 210.2 163.7 211.2 164.3 212.2 165.1 213.1 165.9 214.1 166.7 215.1 167.4 216.1 168.0 217.0 168.8 218.0 169.5 219.0 170.3 219.9 170.9 220.9 171.5 221.9 171.8 222.9 172.0 223.8 171.9 224.8 171.5 225.8 171.0 226.7 170.4 227.7 169.8 228.7 169.3 229.6 168.7 230.6 168.1 231.6 167.4 232.6 166.8 233.5 166.3 234.5 165.9 235.5 165.6 236.4 165.3 237.4 165.0 238.4 164.7 239.4 164.4 240.3 164.2 241.3 164.0 242.3 163.9 243.2 163.7 244.2 163.6 245.2 163.6 246.2 163.6 247.1 163.5 248.1 163.5 249.1 163.5 250.0 163.5 251.0 163.4 252.0 163.4 253.0 163.4 253.9 163.4 254.9 163.4 255.9 163.4 256.8 163.3 257.8 163.3 258.8 163.3 259.7 163.3 260.7 163.3 261.7 163.3 262.7 163.3 263.6 163.3 264.6 163.3 265.6 163.2 266.5 163.2 267.5 163.2 268.5 163.2 269.5 163.2 270.4 163.2 271.4 163.2 272.4 163.2 273.3 163.2 274.3 163.2 275.3 163.2 276.3 163.2 277.2 163.2 278.2 163.2 279.2 163.2 280.1 163.2" stroke="#cf1328"/>
<path d="M57.8 165.9 58.8 165.9 59.7 165.9 60.7 165.9 61.7 165.9 62.6 165.9 63.6 165.9 64.6 165.9 65.5 165.9 66.5 165.9 67.5 165.9 68.5 165.9 69.4 165.9 70.4 165.9 71.4 165.9 72.3 165.9 73.3 165.9 74.3 165.9 75.3 165.9 76.2 166.0 77.2 166.0 78.2 165.9 79.1 165.7 80.1 165.5 81.1 165.1 82.1 164.4 83.0 163.4 84.0 162.3 85.0 161.2 85.9 160.2 86.9 159.4 87.9 158.7 88.9 158.0 89.8 157.2 90.8 156.3 91.8 155.2 92.7 154.1 93.7 153.1 94.7 152.3 95.6 151.7 96.6 151.3 97.6 150.9 98.6 150.5 99.5 150.2 100.5 149.8 101.5 149.4 102.4 148.8 103.4 148.0 104.4 147.2 105.4 146.4 106.3 145.5 107.3 144.8 108.3 144.7 109.2 144.9 110.2 145.2 111.2 145.8 112.2 147.0 113.1 148.3 114.1 150.0 115.1 152.0 116.0 154.0 117.0 155.9 118.0 157.6 119.0 159.3 119.9 161.1 120.9 162.9 121.9 164.9 122.8 166.8 123.8 168.4 124.8 169.5 125.8 170.5 126.7 171.3 127.7 171.8 128.7 172.1 129.6 172.3 130.6 172.5 131.6 172.7 132.5 172.7 133.5 172.7 134.5 172.7 135.5 172.6 136.4 172.4 137.4 172.3 138.4 172.1 139.3 171.9 140.3 171.8 141.3 171.6 142.3 171.4 143.2 171.1 144.2 170.8 145.2 170.6 146.1 170.3 147.1 170.0 148.1 169.7 149.1 169.5 150.0 169.3 151.0 169.1 152.0 169.0 152.9 168.8 153.9 168.7 154.9 168.5 155.9 168.4 156.8 168.3 157.8 168.2 158.8 168.1 159.7 168.0 160.7 168.0 161.7 167.9 162.6 167.8 163.6 167.8 164.6 167.7 165.6 167.7 166.5 167.6 167.5 167.6 168.5 167.5 169.4 167.5 170.4 167.4 171.4 167.4 172.4 167.4 173.3 167.4 174.3 167.4 175.3 167.4 176.2 167.4 177.2 167.4 178.2 167.4 179.2 167.4 180.1 167.4 181.1 167.4 182.1 167.5 183.0 167.5 184.0 167.5 185.0 167.5 186.0 167.6 186.9 167.6 187.9 167.6 188.9 167.7 189.8 167.9 190.8 168.2 191.8 168.7 192.7 169.2 193.7 169.6 194.7 170.1 195.7 170.6 196.6 171.0 197.6 171.4 198.6 171.5 199.5 171.3 200.5 170.8 201.5 170.1 202.5 169.4 203.4 168.8 204.4 168.2 205.4 167.5 206.3 166.9 207.3 166.4 208.3 166.2 209.3 166.4 210.2 166.7 211.2 167.1 212.2 167.7 213.1 168.2 214.1 168.8 215.1 169.2 216.1 169.7 217.0 170.2 218.0 170.7 219.0 171.2 219.9 171.7 220.9 172.1 221.9 172.3 222.9 172.4 223.8 172.3 224.8 172.1 225.8 171.7 226.7 171.3 227.7 170.9 228.7 170.5 229.6 170.2 230.6 169.7 231.6 169.3 232.6 168.9 233.5 168.5 234.5 168.2 235.5 168.0 236.4 167.8 237.4 167.6 238.4 167.4 239.4 167.2 240.3 167.1 241.3 166.9 242.3 166.8 243.2 166.7 244.2 166.7 245.2 166.6 246.2 166.6 247.1 166.6 248.1 166.6 249.1 166.6 250.0 166.6 251.0 166.5 252.0 166.5 253.0 166.5 253.9 166.5 254.9 166.5 255.9 166.5 256.8 166.5 257.8 166.5 258.8 166.5 259.7 166.5 260.7 166.4 261.7 166.4 262.7 166.4 263.6 166.4 264.6 166.4 265.6 166.4 266.5 166.4 267.5 166.4 268.5 166.4 269.5 166.4 270.4 166.4 271.4 166.4 272.4 166.4 273.3 166.4 274.3 166.4 275.3 166.4 276.3 166.4 277.2 166.4 278.2 166.4 279.2 166.4 280.1 166.4" stroke="#c51330"/>
<path d="M57.8 169.1 58.8 169.1 59.7 169.1 60.7 169.1 61.7 169.1 62.6 169.1 63.6 169.1 64.6 169.1 65.5 169.1 66.5 169.1 67.5 169.1 68.5 169.1 69.4 169.1 70.4 169.1 71.4 169.1 72.3 169.1 73.3 169.1 74.3 169.1 75.3 169.1 76.2 169.1 77.2 169.1 78.2 169.1 79.1 169.0 80.1 168.9 81.1 168.8 82.1 168.4 83.0 168.0 84.0 167.5 85.0 167.0 85.9 166.5 86.9 166.2 87.9 165.8 88.9 165.4 89.8 165.1 90.8 164.6 91.8 164.1 92.7 163.5 93.7 163.0 94.7 162.6 95.6 162.3 96.6 162.2 97.6 162.0 98.6 161.9 99.5 161.8 100.5 161.7 101.5 161.6 102.4 161.4 103.4 161.1 104.4 160.8 105.4 160.5 106.3 160.1 107.3 159.8 108.3 159.8 109.2 159.9 110.2 160.0 111.2 160.3 112.2 160.8 113.1 161.4 114.1 162.2 115.1 163.0 116.0 163.9 117.0 164.7 118.0 165.5 119.0 166.3 119.9 167.0 120.9 167.8 121.9 168.7 122.8 169.6 123.8 170.3 124.8 170.8 125.8 171.2 126.7 171.5 127.7 171.8 128.7 171.9 129.6 172.0 130.6 172.1 131.6 172.2 132.5 172.2 133.5 172.2 134.5 172.2 135.5 172.1 136.4 172.1 137.4 172.0 138.4 171.9 139.3 171.9 140.3 171.8 141.3 171.7 142.3 171.6 143.2 171.5 144.2 171.4 145.2 171.2 146.1 171.1 147.1 171.0 148.1 170.9 149.1 170.8 150.0 170.7 151.0 170.6 152.0 170.6 152.9 170.5 153.9 170.4 154.9 170.4 155.9 170.3 156.8 170.3 157.8 170.2 158.8 170.2 159.7 170.2 160.7 170.1 161.7 170.1 162.6 170.1 163.6 170.0 164.6 170.0 165.6 170.0 166.5 170.0 167.5 170.0 168.5 169.9 169.4 169.9 170.4 169.9 171.4 169.9 172.4 169.9 173.3 169.9 174.3 169.9 175.3 169.9 176.2 169.9 177.2 169.9 178.2 169.9 179.2 169.9 180.1 169.9 181.1 169.9 182.1 169.9 183.0 169.9 184.0 170.0 185.0 170.0 186.0 170.0 186.9 170.0 187.9 170.0 188.9 170.0 189.8 170.1 190.8 170.3 191.8 170.5 192.7 170.7 193.7 170.9 194.7 171.1 195.7 171.3 196.6 171.5 197.6 171.7 198.6 171.7 199.5 171.7 200.5 171.4 201.5 171.1 202.5 170.8 203.4 170.5 204.4 170.3 205.4 170.0 206.3 169.7 207.3 169.5 208.3 169.4 209.3 169.5 210.2 169.6 211.2 169.8 212.2 170.1 213.1 170.3 214.1 170.6 215.1 170.8 216.1 171.0 217.0 171.2 218.0 171.4 219.0 171.7 219.9 171.9 220.9 172.0 221.9 172.1 222.9 172.2 223.8 172.1 224.8 172.0 225.8 171.9 226.7 171.7 227.7 171.5 228.7 171.4 229.6 171.2 230.6 171.0 231.6 170.8 232.6 170.6 233.5 170.5 234.5 170.3 235.5 170.2 236.4 170.2 237.4 170.1 238.4 170.0 239.4 169.9 240.3 169.8 241.3 169.8 242.3 169.7 243.2 169.7 244.2 169.7 245.2 169.7 246.2 169.7 247.1 169.6 248.1 169.6 249.1 169.6 250.0 169.6 251.0 169.6 252.0 169.6 253.0 169.6 253.9 169.6 254.9 169.6 255.9 169.6 256.8 169.6 257.8 169.6 258.8 169.6 259.7 169.6 260.7 169.6 261.7 169.6 262.7 169.6 263.6 169.6 264.6 169.6 265.6 169.6 266.5 169.6 267.5 169.6 268.5 169.6 269.5 169.6 270.4 169.6 271.4 169.6 272.4 169.6 273.3 169.6 274.3 169.6 275.3 169.6 276.3 169.6 277.2 169.6 278.2 169.6 279.2 169.6 280.1 169.6" stroke="#ba1439"/>
<path d="M57.8 172.2 58.8 172.3 59.7 172.3 60.7 172.3 61.7 172.3 62.6 172.3 63.6 172.3 64.6 172.3 65.5 172.3 66.5 172.3 67.5 172.3 68.5 172.3 69.4 172.3 70.4 172.3 71.4 172.3 72.3 172.3 73.3 172.3 74.3 172.3 75.3 172.3 76.2 172.3 77.2 172.3 78.2 172.3 79.1 172.3 80.1 172.2 81.1 172.1 82.1 171.9 83.0 171.7 84.0 171.5 85.0 171.2 85.9 170.9 86.9 170.7 87.9 170.4 88.9 170.2 89.8 169.9 90.8 169.6 91.8 169.2 92.7 168.9 93.7 168.6 94.7 168.3 95.6 168.2 96.6 168.1 97.6 168.1 98.6 168.1 99.5 168.1 100.5 168.2 101.5 168.2 102.4 168.2 103.4 168.1 104.4 168.0 105.4 167.9 106.3 167.8 107.3 167.6 108.3 167.6 109.2 167.7 110.2 167.8 111.2 167.9 112.2 168.2 113.1 168.5 114.1 168.9 115.1 169.3 116.0 169.7 117.0 170.1 118.0 170.5 119.0 170.9 119.9 171.3 120.9 171.7 121.9 172.2 122.8 172.6 123.8 172.9 124.8 173.2 125.8 173.4 126.7 173.6 127.7 173.7 128.7 173.7 129.6 173.8 130.6 173.9 131.6 173.9 132.5 173.9 133.5 173.9 134.5 173.9 135.5 173.9 136.4 173.8 137.4 173.8 138.4 173.8 139.3 173.7 140.3 173.7 141.3 173.7 142.3 173.6 143.2 173.6 144.2 173.5 145.2 173.4 146.1 173.4 147.1 173.3 148.1 173.3 149.1 173.2 150.0 173.2 151.0 173.1 152.0 173.1 152.9 173.1 153.9 173.1 154.9 173.0 155.9 173.0 156.8 173.0 157.8 173.0 158.8 172.9 159.7 172.9 160.7 172.9 161.7 172.9 162.6 172.9 163.6 172.9 164.6 172.9 165.6 172.8 166.5 172.8 167.5 172.8 168.5 172.8 169.4 172.8 170.4 172.8 171.4 172.8 172.4 172.8 173.3 172.8 174.3 172.8 175.3 172.8 176.2 172.8 177.2 172.8 178.2 172.8 179.2 172.8 180.1 172.8 181.1 172.8 182.1 172.8 183.0 172.8 184.0 172.9 185.0 172.9 186.0 172.9 186.9 172.9 187.9 172.9 188.9 172.9 189.8 172.9 190.8 173.0 191.8 173.1 192.7 173.2 193.7 173.3 194.7 173.4 195.7 173.5 196.6 173.7 197.6 173.7 198.6 173.8 199.5 173.7 200.5 173.6 201.5 173.5 202.5 173.3 203.4 173.2 204.4 173.0 205.4 172.9 206.3 172.8 207.3 172.7 208.3 172.6 209.3 172.6 210.2 172.7 211.2 172.8 212.2 172.9 213.1 173.1 214.1 173.2 215.1 173.3 216.1 173.4 217.0 173.5 218.0 173.6 219.0 173.7 219.9 173.8 220.9 173.9 221.9 174.0 222.9 174.0 223.8 174.0 224.8 173.9 225.8 173.9 226.7 173.8 227.7 173.7 228.7 173.6 229.6 173.5 230.6 173.4 231.6 173.3 232.6 173.2 233.5 173.2 234.5 173.1 235.5 173.1 236.4 173.0 237.4 173.0 238.4 172.9 239.4 172.9 240.3 172.9 241.3 172.8 242.3 172.8 243.2 172.8 244.2 172.8 245.2 172.8 246.2 172.8 247.1 172.8 248.1 172.8 249.1 172.8 250.0 172.8 251.0 172.8 252.0 172.8 253.0 172.8 253.9 172.8 254.9 172.8 255.9 172.8 256.8 172.8 257.8 172.8 258.8 172.8 259.7 172.8 260.7 172.8 261.7 172.8 262.7 172.8 263.6 172.8 264.6 172.8 265.6 172.8 266.5 172.8 267.5 172.8 268.5 172.8 269.5 172.8 270.4 172.8 271.4 172.8 272.4 172.8 273.3 172.8 274.3 172.8 275.3 172.8 276.3 172.8 277.2 172.8 278.2 172.8 279.2 172.8 280.1 172.8" stroke="#ae1442"/>
<path d="M57.8 175.4 58.8 175.4 59.7 175.4 60.7 175.4 61.7 175.4 62.6 175.4 63.6 175.4 64.6 175.4 65.5 175.4 66.5 175.4 67.5 175.4 68.5 175.4 69.4 175.5 70.4 175.5 71.4 175.5 72.3 175.5 73.3 175.5 74.3 175.5 75.3 175.5 76.2 175.5 77.2 175.5 78.2 175.5 79.1 175.4 80.1 175.4 81.1 175.3 82.1 175.2 83.0 175.0 84.0 174.8 85.0 174.6 85.9 174.4 86.9 174.1 87.9 173.9 88.9 173.6 89.8 173.2 90.8 172.8 91.8 172.4 92.7 172.1 93.7 171.7 94.7 171.5 95.6 171.4 96.6 171.3 97.6 171.4 98.6 171.5 99.5 171.7 100.5 171.9 101.5 172.1 102.4 172.2 103.4 172.3 104.4 172.3 105.4 172.3 106.3 172.3 107.3 172.2 108.3 172.3 109.2 172.3 110.2 172.4 111.2 172.5 112.2 172.7 113.1 172.9 114.1 173.2 115.1 173.5 116.0 173.8 117.0 174.0 118.0 174.3 119.0 174.6 119.9 174.8 120.9 175.1 121.9 175.4 122.8 175.7 123.8 175.9 124.8 176.1 125.8 176.3 126.7 176.4 127.7 176.5 128.7 176.5 129.6 176.5 130.6 176.6 131.6 176.6 132.5 176.6 133.5 176.6 134.5 176.6 135.5 176.6 136.4 176.6 137.4 176.6 138.4 176.5 139.3 176.5 140.3 176.5 141.3 176.5 142.3 176.4 143.2 176.4 144.2 176.4 145.2 176.3 146.1 176.3 147.1 176.2 148.1 176.2 149.1 176.2 150.0 176.1 151.0 176.1 152.0 176.1 152.9 176.1 153.9 176.1 154.9 176.0 155.9 176.0 156.8 176.0 157.8 176.0 158.8 176.0 159.7 176.0 160.7 176.0 161.7 176.0 162.6 175.9 163.6 175.9 164.6 175.9 165.6 175.9 166.5 175.9 167.5 175.9 168.5 175.9 169.4 175.9 170.4 175.9 171.4 175.9 172.4 175.9 173.3 175.9 174.3 175.9 175.3 175.9 176.2 175.9 177.2 175.9 178.2 175.9 179.2 175.9 180.1 175.9 181.1 175.9 182.1 175.9 183.0 175.9 184.0 175.9 185.0 176.0 186.0 176.0 186.9 176.0 187.9 176.0 188.9 176.0 189.8 176.0 190.8 176.1 191.8 176.1 192.7 176.2 193.7 176.3 194.7 176.4 195.7 176.4 196.6 176.5 197.6 176.6 198.6 176.6 199.5 176.6 200.5 176.5 201.5 176.4 202.5 176.3 203.4 176.2 204.4 176.1 205.4 176.0 206.3 175.9 207.3 175.8 208.3 175.8 209.3 175.8 210.2 175.9 211.2 175.9 212.2 176.0 213.1 176.1 214.1 176.2 215.1 176.3 216.1 176.3 217.0 176.4 218.0 176.5 219.0 176.6 219.9 176.7 220.9 176.7 221.9 176.8 222.9 176.8 223.8 176.8 224.8 176.7 225.8 176.7 226.7 176.6 227.7 176.6 228.7 176.5 229.6 176.4 230.6 176.4 231.6 176.3 232.6 176.3 233.5 176.2 234.5 176.2 235.5 176.1 236.4 176.1 237.4 176.1 238.4 176.1 239.4 176.0 240.3 176.0 241.3 176.0 242.3 176.0 243.2 176.0 244.2 176.0 245.2 176.0 246.2 176.0 247.1 176.0 248.1 176.0 249.1 176.0 250.0 176.0 251.0 176.0 252.0 176.0 253.0 176.0 253.9 176.0 254.9 176.0 255.9 176.0 256.8 176.0 257.8 176.0 258.8 176.0 259.7 176.0 260.7 176.0 261.7 176.0 262.7 176.0 263.6 176.0 264.6 176.0 265.6 176.0 266.5 176.0 267.5 176.0 268.5 176.0 269.5 176.0 270.4 176.0 271.4 176.0 272.4 176.0 273.3 176.0 274.3 176.0 275.3 176.0 276.3 176.0 277.2 176.0 278.2 176.0 279.2 176.0 280.1 176.0" stroke="#a1154c"/>
<path d="M57.8 178.6 58.8 178.6 59.7 178.6 60.7 178.6 61.7 178.6 62.6 178.6 63.6 178.6 64.6 178.6 65.5 178.6 66.5 178.6 67.5 178.6 68.5 178.6 69.4 178.6 70.4 178.6 71.4 178.6 72.3 178.6 73.3 178.6 74.3 178.6 75.3 178.6 76.2 178.6 77.2 178.6 78.2 178.6 79.1 178.6 80.1 178.6 81.1 178.6 82.1 178.5 83.0 178.4 84.0 178.3 85.0 178.2 85.9 178.0 86.9 177.7 87.9 177.5 88.9 177.1 89.8 176.8 90.8 176.4 91.8 175.9 92.7 175.6 93.7 175.3 94.7 175.0 95.6 175.0 96.6 175.0 97.6 175.1 98.6 175.4 99.5 175.7 100.5 176.1 101.5 176.4 102.4 176.7 103.4 177.0 104.4 177.2 105.4 177.3 106.3 177.4 107.3 177.5 108.3 177.5 109.2 177.6 110.2 177.6 111.2 177.7 112.2 177.7 113.1 177.8 114.1 177.9 115.1 178.0 116.0 178.1 117.0 178.2 118.0 178.3 119.0 178.4 119.9 178.5 120.9 178.6 121.9 178.7 122.8 178.8 123.8 178.9 124.8 179.0 125.8 179.0 126.7 179.0 127.7 179.1 128.7 179.1 129.6 179.1 130.6 179.1 131.6 179.1 132.5 179.1 133.5 179.1 134.5 179.1 135.5 179.1 136.4 179.1 137.4 179.1 138.4 179.1 139.3 179.1 140.3 179.1 141.3 179.1 142.3 179.1 143.2 179.1 144.2 179.1 145.2 179.1 146.1 179.0 147.1 179.0 148.1 179.0 149.1 179.0 150.0 179.0 151.0 179.0 152.0 179.0 152.9 179.0 153.9 179.0 154.9 179.0 155.9 179.0 156.8 179.0 157.8 179.0 158.8 179.0 159.7 179.0 160.7 179.0 161.7 179.0 162.6 179.0 163.6 179.0 164.6 179.0 165.6 179.0 166.5 179.0 167.5 179.0 168.5 179.0 169.4 179.0 170.4 179.0 171.4 179.0 172.4 179.0 173.3 179.0 174.3 179.0 175.3 179.0 176.2 179.0 177.2 179.0 178.2 179.0 179.2 179.0 180.1 179.0 181.1 179.0 182.1 179.0 183.0 179.0 184.0 179.0 185.0 179.0 186.0 179.0 186.9 179.0 187.9 179.0 188.9 179.0 189.8 179.0 190.8 179.1 191.8 179.1 192.7 179.1 193.7 179.1 194.7 179.2 195.7 179.2 196.6 179.2 197.6 179.2 198.6 179.2 199.5 179.2 200.5 179.2 201.5 179.2 202.5 179.1 203.4 179.1 204.4 179.1 205.4 179.1 206.3 179.0 207.3 179.0 208.3 179.0 209.3 179.0 210.2 179.0 211.2 179.1 212.2 179.1 213.1 179.1 214.1 179.1 215.1 179.2 216.1 179.2 217.0 179.2 218.0 179.3 219.0 179.3 219.9 179.3 220.9 179.3 221.9 179.4 222.9 179.4 223.8 179.4 224.8 179.3 225.8 179.3 226.7 179.3 227.7 179.3 228.7 179.3 229.6 179.3 230.6 179.2 231.6 179.2 232.6 179.2 233.5 179.2 234.5 179.2 235.5 179.2 236.4 179.2 237.4 179.1 238.4 179.1 239.4 179.1 240.3 179.1 241.3 179.1 242.3 179.1 243.2 179.1 244.2 179.1 245.2 179.1 246.2 179.1 247.1 179.1 248.1 179.1 249.1 179.1 250.0 179.1 251.0 179.1 252.0 179.1 253.0 179.1 253.9 179.1 254.9 179.1 255.9 179.1 256.8 179.1 257.8 179.1 258.8 179.1 259.7 179.1 260.7 179.1 261.7 179.2 262.7 179.2 263.6 179.2 264.6 179.2 265.6 179.2 266.5 179.2 267.5 179.2 268.5 179.2 269.5 179.2 270.4 179.2 271.4 179.2 272.4 179.2 273.3 179.2 274.3 179.2 275.3 179.2 276.3 179.2 277.2 179.2 278.2 179.2 279.2 179.2 280.1 179.2" stroke="#941657"/>
<path d="M57.8 181.8 58.8 181.8 59.7 181.8 60.7 181.8 61.7 181.8 62.6 181.8 63.6 181.8 64.6 181.8 65.5 181.8 66.5 181.8 67.5 181.8 68.5 181.8 69.4 181.8 70.4 181.8 71.4 181.8 72.3 181.8 73.3 181.8 74.3 181.8 75.3 181.8 76.2 181.8 77.2 181.8 78.2 181.9 79.1 182.0 80.1 182.1 81.1 182.2 82.1 182.3 83.0 182.4 84.0 182.5 85.0 182.5 85.9 182.5 86.9 182.4 87.9 182.3 88.9 182.1 89.8 181.9 90.8 181.6 91.8 181.3 92.7 181.1 93.7 180.9 94.7 180.8 95.6 180.8 96.6 180.9 97.6 181.2 98.6 181.6 99.5 182.1 100.5 182.6 101.5 183.1 102.4 183.6 103.4 184.1 104.4 184.5 105.4 184.8 106.3 185.0 107.3 185.2 108.3 185.2 109.2 185.2 110.2 185.1 111.2 185.0 112.2 184.8 113.1 184.6 114.1 184.4 115.1 184.2 116.0 183.9 117.0 183.7 118.0 183.5 119.0 183.2 119.9 183.0 120.9 182.7 121.9 182.3 122.8 182.0 123.8 181.6 124.8 181.4 125.8 181.2 126.7 181.0 127.7 180.8 128.7 180.8 129.6 180.8 130.6 180.8 131.6 180.8 132.5 180.8 133.5 180.9 134.5 181.0 135.5 181.0 136.4 181.0 137.4 181.1 138.4 181.1 139.3 181.1 140.3 181.2 141.3 181.2 142.3 181.2 143.2 181.3 144.2 181.3 145.2 181.3 146.1 181.3 147.1 181.4 148.1 181.4 149.1 181.4 150.0 181.4 151.0 181.4 152.0 181.5 152.9 181.5 153.9 181.5 154.9 181.5 155.9 181.5 156.8 181.5 157.8 181.6 158.8 181.6 159.7 181.6 160.7 181.6 161.7 181.6 162.6 181.7 163.6 181.7 164.6 181.7 165.6 181.7 166.5 181.7 167.5 181.7 168.5 181.7 169.4 181.7 170.4 181.8 171.4 181.8 172.4 181.8 173.3 181.8 174.3 181.8 175.3 181.8 176.2 181.9 177.2 181.9 178.2 181.9 179.2 181.9 180.1 182.0 181.1 182.0 182.1 182.0 183.0 182.0 184.0 182.0 185.0 182.0 186.0 182.0 186.9 182.0 187.9 181.9 188.9 181.9 189.8 181.9 190.8 181.9 191.8 181.9 192.7 181.8 193.7 181.7 194.7 181.6 195.7 181.6 196.6 181.5 197.6 181.5 198.6 181.5 199.5 181.5 200.5 181.6 201.5 181.7 202.5 181.8 203.4 181.9 204.4 181.9 205.4 182.0 206.3 182.1 207.3 182.1 208.3 182.1 209.3 182.1 210.2 182.0 211.2 181.9 212.2 181.8 213.1 181.8 214.1 181.7 215.1 181.6 216.1 181.5 217.0 181.4 218.0 181.3 219.0 181.2 219.9 181.1 220.9 181.1 221.9 181.1 222.9 181.2 223.8 181.2 224.8 181.3 225.8 181.3 226.7 181.4 227.7 181.5 228.7 181.5 229.6 181.6 230.6 181.7 231.6 181.8 232.6 181.9 233.5 181.9 234.5 182.0 235.5 182.0 236.4 182.0 237.4 182.1 238.4 182.1 239.4 182.1 240.3 182.1 241.3 182.1 242.3 182.1 243.2 182.2 244.2 182.2 245.2 182.2 246.2 182.2 247.1 182.2 248.1 182.2 249.1 182.2 250.0 182.2 251.0 182.2 252.0 182.2 253.0 182.2 253.9 182.2 254.9 182.2 255.9 182.2 256.8 182.2 257.8 182.2 258.8 182.3 259.7 182.3 260.7 182.3 261.7 182.3 262.7 182.3 263.6 182.3 264.6 182.3 265.6 182.3 266.5 182.3 267.5 182.3 268.5 182.3 269.5 182.3 270.4 182.3 271.4 182.3 272.4 182.3 273.3 182.3 274.3 182.3 275.3 182.3 276.3 182.3 277.2 182.3 278.2 182.3 279.2 182.3 280.1 182.3" stroke="#861662"/>
<path d="M57.8 184.9 58.8 184.9 59.7 184.9 60.7 184.9 61.7 184.9 62.6 184.9 63.6 184.9 64.6 185.0 65.5 185.0 66.5 185.0 67.5 185.0 68.5 185.0 69.4 185.0 70.4 185.0 71.4 185.0 72.3 185.0 73.3 185.0 74.3 185.0 75.3 185.0 76.2 185.0 77.2 185.0 78.2 185.1 79.1 185.3 80.1 185.6 81.1 185.9 82.1 186.3 83.0 186.6 84.0 186.8 85.0 187.0 85.9 187.1 86.9 187.2 87.9 187.3 88.9 187.3 89.8 187.3 90.8 187.2 91.8 187.2 92.7 187.0 93.7 187.0 94.7 187.0 95.6 187.1 96.6 187.4 97.6 187.7 98.6 188.3 99.5 188.9 100.5 189.5 101.5 190.2 102.4 190.8 103.4 191.4 104.4 191.9 105.4 192.4 106.3 192.8 107.3 193.0 108.3 193.0 109.2 192.8 110.2 192.5 111.2 192.2 112.2 191.8 113.1 191.3 114.1 190.8 115.1 190.3 116.0 189.7 117.0 189.2 118.0 188.6 119.0 188.1 119.9 187.5 120.9 186.8 121.9 186.0 122.8 185.2 123.8 184.4 124.8 183.8 125.8 183.3 126.7 182.9 127.7 182.5 128.7 182.4 129.6 182.4 130.6 182.4 131.6 182.4 132.5 182.5 133.5 182.6 134.5 182.8 135.5 182.9 136.4 183.0 137.4 183.1 138.4 183.1 139.3 183.2 140.3 183.3 141.3 183.3 142.3 183.4 143.2 183.5 144.2 183.5 145.2 183.6 146.1 183.6 147.1 183.7 148.1 183.7 149.1 183.8 150.0 183.8 151.0 183.8 152.0 183.9 152.9 183.9 153.9 184.0 154.9 184.0 155.9 184.0 156.8 184.1 157.8 184.1 158.8 184.2 159.7 184.2 160.7 184.2 161.7 184.3 162.6 184.3 163.6 184.3 164.6 184.4 165.6 184.4 166.5 184.4 167.5 184.4 168.5 184.5 169.4 184.5 170.4 184.5 171.4 184.5 172.4 184.6 173.3 184.6 174.3 184.6 175.3 184.7 176.2 184.7 177.2 184.8 178.2 184.9 179.2 184.9 180.1 184.9 181.1 184.9 182.1 184.9 183.0 184.9 184.0 184.9 185.0 184.9 186.0 184.9 186.9 184.9 187.9 184.9 188.9 184.9 189.8 184.9 190.8 184.8 191.8 184.7 192.7 184.5 193.7 184.3 194.7 184.1 195.7 184.0 196.6 183.9 197.6 183.8 198.6 183.7 199.5 183.8 200.5 184.0 201.5 184.2 202.5 184.4 203.4 184.6 204.4 184.8 205.4 185.0 206.3 185.2 207.3 185.2 208.3 185.2 209.3 185.1 210.2 184.9 211.2 184.7 212.2 184.5 213.1 184.3 214.1 184.2 215.1 183.9 216.1 183.7 217.0 183.4 218.0 183.2 219.0 183.0 219.9 182.9 220.9 182.8 221.9 182.9 222.9 182.9 223.8 183.1 224.8 183.2 225.8 183.4 226.7 183.5 227.7 183.6 228.7 183.8 229.6 184.0 230.6 184.2 231.6 184.4 232.6 184.5 233.5 184.6 234.5 184.7 235.5 184.8 236.4 184.9 237.4 185.0 238.4 185.1 239.4 185.1 240.3 185.1 241.3 185.1 242.3 185.1 243.2 185.2 244.2 185.2 245.2 185.2 246.2 185.2 247.1 185.2 248.1 185.2 249.1 185.2 250.0 185.2 251.0 185.3 252.0 185.3 253.0 185.3 253.9 185.3 254.9 185.3 255.9 185.3 256.8 185.3 257.8 185.3 258.8 185.3 259.7 185.3 260.7 185.4 261.7 185.4 262.7 185.4 263.6 185.4 264.6 185.4 265.6 185.4 266.5 185.4 267.5 185.4 268.5 185.4 269.5 185.4 270.4 185.4 271.4 185.4 272.4 185.4 273.3 185.4 274.3 185.4 275.3 185.4 276.3 185.4 277.2 185.4 278.2 185.5 279.2 185.5 280.1 185.5" stroke="#77176e"/>
<path d="M57.8 188.1 58.8 188.1 59.7 188.1 60.7 188.1 61.7 188.1 62.6 188.1 63.6 188.1 64.6 188.1 65.5 188.1 66.5 188.1 67.5 188.1 68.5 188.1 69.4 188.1 70.4 188.1 71.4 188.1 72.3 188.1 73.3 188.1 74.3 188.2 75.3 188.2 76.2 188.2 77.2 188.2 78.2 188.4 79.1 189.0 80.1 189.7 81.1 190.4 82.1 191.3 83.0 192.1 84.0 192.8 85.0 193.4 85.9 194.0 86.9 194.5 87.9 195.0 88.9 195.6 89.8 196.1 90.8 196.6 91.8 197.1 92.7 197.4 93.7 197.7 94.7 198.0 95.6 198.4 96.6 198.9 97.6 199.5 98.6 200.3 99.5 201.2 100.5 202.1 101.5 203.0 102.4 203.9 103.4 204.8 104.4 205.5 105.4 206.3 106.3 207.0 107.3 207.3 108.3 207.1 109.2 206.6 110.2 206.0 111.2 205.2 112.2 204.2 113.1 203.1 114.1 201.8 115.1 200.5 116.0 199.2 117.0 198.0 118.0 196.7 119.0 195.3 119.9 193.9 120.9 192.3 121.9 190.5 122.8 188.4 123.8 186.5 124.8 185.1 125.8 183.9 126.7 182.9 127.7 182.1 128.7 181.8 129.6 181.7 130.6 181.7 131.6 181.8 132.5 182.1 133.5 182.4 134.5 182.7 135.5 183.0 136.4 183.2 137.4 183.3 138.4 183.5 139.3 183.7 140.3 183.8 141.3 184.0 142.3 184.1 143.2 184.3 144.2 184.4 145.2 184.5 146.1 184.7 147.1 184.8 148.1 184.9 149.1 185.0 150.0 185.1 151.0 185.2 152.0 185.3 152.9 185.3 153.9 185.4 154.9 185.5 155.9 185.6 156.8 185.7 157.8 185.8 158.8 185.9 159.7 185.9 160.7 186.0 161.7 186.1 162.6 186.2 163.6 186.3 164.6 186.3 165.6 186.4 166.5 186.4 167.5 186.5 168.5 186.6 169.4 186.6 170.4 186.7 171.4 186.7 172.4 186.8 173.3 186.9 174.3 186.9 175.3 187.0 176.2 187.2 177.2 187.3 178.2 187.5 179.2 187.6 180.1 187.6 181.1 187.6 182.1 187.6 183.0 187.6 184.0 187.6 185.0 187.6 186.0 187.5 186.9 187.5 187.9 187.5 188.9 187.4 189.8 187.4 190.8 187.3 191.8 187.0 192.7 186.6 193.7 186.1 194.7 185.6 195.7 185.3 196.6 185.0 197.6 184.8 198.6 184.7 199.5 184.9 200.5 185.3 201.5 185.9 202.5 186.3 203.4 186.8 204.4 187.3 205.4 187.7 206.3 188.1 207.3 188.2 208.3 188.1 209.3 187.8 210.2 187.4 211.2 187.0 212.2 186.5 213.1 186.1 214.1 185.6 215.1 185.1 216.1 184.5 217.0 183.9 218.0 183.3 219.0 182.9 219.9 182.6 220.9 182.5 221.9 182.5 222.9 182.7 223.8 183.0 224.8 183.3 225.8 183.7 226.7 184.0 227.7 184.4 228.7 184.8 229.6 185.2 230.6 185.7 231.6 186.1 232.6 186.5 233.5 186.7 234.5 187.0 235.5 187.2 236.4 187.4 237.4 187.5 238.4 187.7 239.4 187.8 240.3 187.8 241.3 187.8 242.3 187.9 243.2 187.9 244.2 187.9 245.2 188.0 246.2 188.0 247.1 188.0 248.1 188.0 249.1 188.1 250.0 188.1 251.0 188.1 252.0 188.1 253.0 188.2 253.9 188.2 254.9 188.2 255.9 188.2 256.8 188.2 257.8 188.3 258.8 188.3 259.7 188.3 260.7 188.3 261.7 188.3 262.7 188.3 263.6 188.3 264.6 188.4 265.6 188.4 266.5 188.4 267.5 188.4 268.5 188.4 269.5 188.4 270.4 188.4 271.4 188.4 272.4 188.4 273.3 188.4 274.3 188.4 275.3 188.4 276.3 188.5 277.2 188.5 278.2 188.5 279.2 188.5 280.1 188.5" stroke="#68187a"/>
<path d="M57.8 191.3 58.8 191.3 59.7 191.3 60.7 191.3 61.7 191.3 62.6 191.3 63.6 191.3 64.6 191.3 65.5 191.3 66.5 191.3 67.5 191.3 68.5 191.3 69.4 191.3 70.4 191.3 71.4 191.3 72.3 191.3 73.3 191.3 74.3 191.3 75.3 191.3 76.2 191.3 77.2 191.3 78.2 191.8 79.1 192.9 80.1 194.1 81.1 195.4 82.1 197.0 83.0 198.5 84.0 199.8 85.0 201.0 85.9 202.2 86.9 203.4 87.9 204.5 88.9 205.9 89.8 207.2 90.8 208.6 91.8 209.8 92.7 210.7 93.7 211.5 94.7 212.3 95.6 213.0 96.6 213.9 97.6 214.8 98.6 215.9 99.5 217.1 100.5 218.3 101.5 219.6 102.4 220.9 103.4 222.0 104.4 223.1 105.4 224.3 106.3 225.3 107.3 225.8 108.3 225.5 109.2 224.5 110.2 223.3 111.2 221.9 112.2 220.1 113.1 218.1 114.1 215.8 115.1 213.4 116.0 211.1 117.0 208.9 118.0 206.5 119.0 204.1 119.9 201.5 120.9 198.7 121.9 195.4 122.8 191.6 123.8 188.2 124.8 185.8 125.8 183.6 126.7 181.8 127.7 180.4 128.7 179.8 129.6 179.7 130.6 179.6 131.6 179.8 132.5 180.2 133.5 180.8 134.5 181.4 135.5 181.9 136.4 182.2 137.4 182.5 138.4 182.9 139.3 183.1 140.3 183.4 141.3 183.7 142.3 184.0 143.2 184.2 144.2 184.4 145.2 184.7 146.1 184.9 147.1 185.1 148.1 185.3 149.1 185.4 150.0 185.6 151.0 185.8 152.0 185.9 152.9 186.1 153.9 186.3 154.9 186.4 155.9 186.6 156.8 186.7 157.8 186.9 158.8 187.0 159.7 187.2 160.7 187.3 161.7 187.4 162.6 187.6 163.6 187.7 164.6 187.8 165.6 187.9 166.5 188.0 167.5 188.1 168.5 188.2 169.4 188.3 170.4 188.4 171.4 188.5 172.4 188.6 173.3 188.8 174.3 188.9 175.3 189.1 176.2 189.3 177.2 189.6 178.2 189.9 179.2 190.0 180.1 190.1 181.1 190.1 182.1 190.1 183.0 190.1 184.0 190.1 185.0 190.0 186.0 190.0 186.9 189.9 187.9 189.9 188.9 189.8 189.8 189.7 190.8 189.6 191.8 189.0 192.7 188.2 193.7 187.3 194.7 186.5 195.7 185.9 196.6 185.4 197.6 185.0 198.6 184.8 199.5 185.2 200.5 186.0 201.5 186.9 202.5 187.8 203.4 188.6 204.4 189.4 205.4 190.2 206.3 190.8 207.3 191.1 208.3 190.9 209.3 190.4 210.2 189.7 211.2 188.9 212.2 188.1 213.1 187.3 214.1 186.5 215.1 185.5 216.1 184.4 217.0 183.3 218.0 182.3 219.0 181.5 219.9 181.0 220.9 180.8 221.9 180.9 222.9 181.2 223.8 181.7 224.8 182.3 225.8 183.0 226.7 183.5 227.7 184.2 228.7 184.9 229.6 185.7 230.6 186.5 231.6 187.2 232.6 187.9 233.5 188.4 234.5 188.8 235.5 189.2 236.4 189.5 237.4 189.8 238.4 190.1 239.4 190.2 240.3 190.3 241.3 190.4 242.3 190.4 243.2 190.5 244.2 190.5 245.2 190.6 246.2 190.6 247.1 190.7 248.1 190.7 249.1 190.8 250.0 190.8 251.0 190.8 252.0 190.9 253.0 190.9 253.9 190.9 254.9 191.0 255.9 191.0 256.8 191.0 257.8 191.1 258.8 191.1 259.7 191.1 260.7 191.1 261.7 191.2 262.7 191.2 263.6 191.2 264.6 191.2 265.6 191.3 266.5 191.3 267.5 191.3 268.5 191.3 269.5 191.3 270.4 191.3 271.4 191.3 272.4 191.4 273.3 191.4 274.3 191.4 275.3 191.4 276.3 191.4 277.2 191.4 278.2 191.4 279.2 191.4 280.1 191.4" stroke="#5a1887"/>
<path d="M57.8 194.4 58.8 194.4 59.7 194.4 60.7 194.4 61.7 194.5 62.6 194.5 63.6 194.5 64.6 194.5 65.5 194.5 66.5 194.5 67.5 194.5 68.5 194.5 69.4 194.5 70.4 194.5 71.4 194.5 72.3 194.5 73.3 194.5 74.3 194.5 75.3 194.5 76.2 194.5 77.2 194.5 78.2 195.3 79.1 197.2 80.1 199.3 81.1 201.6 82.1 204.4 83.0 207.1 84.0 209.4 85.0 211.6 85.9 213.8 86.9 216.0 87.9 218.3 88.9 220.9 89.8 223.7 90.8 226.4 91.8 228.9 92.7 230.9 93.7 232.6 94.7 234.1 95.6 235.5 96.6 236.9 97.6 238.3 98.6 239.8 99.5 241.5 100.5 243.3 101.5 245.1 102.4 246.9 103.4 248.6 104.4 250.1 105.4 252.0 106.3 253.6 107.3 254.3 108.3 253.6 109.2 251.9 110.2 249.8 111.2 247.4 112.2 244.3 113.1 240.7 114.1 236.7 115.1 232.7 116.0 228.7 117.0 224.7 118.0 220.7 119.0 216.5 119.9 212.0 120.9 207.2 121.9 201.4 122.8 194.9 123.8 189.0 124.8 184.8 125.8 181.1 126.7 177.8 127.7 175.4 128.7 174.4 129.6 174.2 130.6 174.1 131.6 174.4 132.5 175.2 133.5 176.2 134.5 177.2 135.5 178.0 136.4 178.6 137.4 179.2 138.4 179.7 139.3 180.2 140.3 180.7 141.3 181.2 142.3 181.6 143.2 182.0 144.2 182.4 145.2 182.8 146.1 183.2 147.1 183.5 148.1 183.8 149.1 184.1 150.0 184.4 151.0 184.7 152.0 185.0 152.9 185.3 153.9 185.5 154.9 185.8 155.9 186.1 156.8 186.3 157.8 186.6 158.8 186.9 159.7 187.1 160.7 187.3 161.7 187.6 162.6 187.8 163.6 188.0 164.6 188.2 165.6 188.4 166.5 188.6 167.5 188.8 168.5 188.9 169.4 189.1 170.4 189.3 171.4 189.4 172.4 189.6 173.3 189.8 174.3 190.1 175.3 190.4 176.2 190.8 177.2 191.3 178.2 191.7 179.2 192.0 180.1 192.2 181.1 192.2 182.1 192.1 183.0 192.1 184.0 192.1 185.0 192.0 186.0 191.9 186.9 191.8 187.9 191.7 188.9 191.6 189.8 191.4 190.8 191.2 191.8 190.3 192.7 188.9 193.7 187.3 194.7 185.8 195.7 184.8 196.6 184.0 197.6 183.3 198.6 183.0 199.5 183.6 200.5 184.9 201.5 186.6 202.5 188.1 203.4 189.4 204.4 190.9 205.4 192.3 206.3 193.4 207.3 193.8 208.3 193.4 209.3 192.6 210.2 191.4 211.2 190.0 212.2 188.5 213.1 187.2 214.1 185.8 215.1 184.1 216.1 182.2 217.0 180.3 218.0 178.6 219.0 177.2 219.9 176.2 220.9 175.9 221.9 176.1 222.9 176.7 223.8 177.6 224.8 178.6 225.8 179.7 226.7 180.7 227.7 181.8 228.7 183.0 229.6 184.4 230.6 185.8 231.6 187.1 232.6 188.2 233.5 189.1 234.5 189.8 235.5 190.4 236.4 191.0 237.4 191.6 238.4 192.0 239.4 192.3 240.3 192.4 241.3 192.5 242.3 192.6 243.2 192.7 244.2 192.8 245.2 192.8 246.2 192.9 247.1 193.0 248.1 193.1 249.1 193.1 250.0 193.2 251.0 193.3 252.0 193.3 253.0 193.4 253.9 193.4 254.9 193.5 255.9 193.5 256.8 193.6 257.8 193.6 258.8 193.7 259.7 193.7 260.7 193.8 261.7 193.8 262.7 193.8 263.6 193.9 264.6 193.9 265.6 193.9 266.5 194.0 267.5 194.0 268.5 194.0 269.5 194.0 270.4 194.1 271.4 194.1 272.4 194.1 273.3 194.1 274.3 194.1 275.3 194.1 276.3 194.2 277.2 194.2 278.2 194.2 279.2 194.2 280.1 194.2" stroke="#521990"/>
<path d="M57.8 197.6 58.8 197.6 59.7 197.6 60.7 197.6 61.7 197.6 62.6 197.6 63.6 197.6 64.6 197.6 65.5 197.6 66.5 197.6 67.5 197.6 68.5 197.6 69.4 197.7 70.4 197.7 71.4 197.7 72.3 197.7 73.3 197.7 74.3 197.7 75.3 197.7 76.2 197.7 77.2 197.7 78.2 198.5 79.1 200.5 80.1 202.8 81.1 205.3 82.1 208.2 83.0 211.0 84.0 213.5 85.0 215.9 85.9 218.2 86.9 220.5 87.9 223.0 88.9 225.8 89.8 228.7 90.8 231.6 91.8 234.3 92.7 236.4 93.7 238.2 94.7 239.8 95.6 241.3 96.6 242.7 97.6 244.2 98.6 245.9 99.5 247.7 100.5 249.6 101.5 251.5 102.4 253.4 103.4 255.2 104.4 256.9 105.4 258.8 106.3 260.5 107.3 261.3 108.3 260.5 109.2 258.7 110.2 256.5 111.2 254.0 112.2 250.6 113.1 246.8 114.1 242.6 115.1 238.3 116.0 234.0 117.0 229.8 118.0 225.5 119.0 221.0 119.9 216.3 120.9 211.2 121.9 205.0 122.8 198.1 123.8 191.8 124.8 187.4 125.8 183.4 126.7 179.9 127.7 177.4 128.7 176.3 129.6 176.0 130.6 176.0 131.6 176.3 132.5 177.1 133.5 178.2 134.5 179.3 135.5 180.1 136.4 180.7 137.4 181.3 138.4 181.9 139.3 182.5 140.3 183.0 141.3 183.5 142.3 183.9 143.2 184.4 144.2 184.8 145.2 185.2 146.1 185.6 147.1 186.0 148.1 186.3 149.1 186.6 150.0 187.0 151.0 187.3 152.0 187.6 152.9 187.9 153.9 188.1 154.9 188.4 155.9 188.7 156.8 189.0 157.8 189.3 158.8 189.5 159.7 189.8 160.7 190.1 161.7 190.3 162.6 190.5 163.6 190.8 164.6 191.0 165.6 191.2 166.5 191.4 167.5 191.6 168.5 191.8 169.4 191.9 170.4 192.1 171.4 192.3 172.4 192.5 173.3 192.7 174.3 192.9 175.3 193.3 176.2 193.8 177.2 194.3 178.2 194.7 179.2 195.1 180.1 195.2 181.1 195.2 182.1 195.2 183.0 195.1 184.0 195.1 185.0 195.0 186.0 194.9 186.9 194.8 187.9 194.7 188.9 194.5 189.8 194.4 190.8 194.1 191.8 193.2 192.7 191.7 193.7 190.0 194.7 188.4 195.7 187.3 196.6 186.4 197.6 185.7 198.6 185.4 199.5 186.0 200.5 187.5 201.5 189.3 202.5 190.8 203.4 192.3 204.4 193.9 205.4 195.4 206.3 196.4 207.3 196.9 208.3 196.5 209.3 195.6 210.2 194.4 211.2 192.9 212.2 191.3 213.1 189.9 214.1 188.4 215.1 186.6 216.1 184.6 217.0 182.6 218.0 180.8 219.0 179.3 219.9 178.2 220.9 177.9 221.9 178.1 222.9 178.7 223.8 179.7 224.8 180.7 225.8 181.9 226.7 183.0 227.7 184.1 228.7 185.5 229.6 186.9 230.6 188.4 231.6 189.8 232.6 191.0 233.5 191.9 234.5 192.6 235.5 193.3 236.4 194.0 237.4 194.5 238.4 195.0 239.4 195.3 240.3 195.4 241.3 195.5 242.3 195.6 243.2 195.7 244.2 195.8 245.2 195.9 246.2 196.0 247.1 196.1 248.1 196.1 249.1 196.2 250.0 196.3 251.0 196.3 252.0 196.4 253.0 196.5 253.9 196.5 254.9 196.6 255.9 196.6 256.8 196.7 257.8 196.7 258.8 196.8 259.7 196.8 260.7 196.9 261.7 196.9 262.7 197.0 263.6 197.0 264.6 197.0 265.6 197.1 266.5 197.1 267.5 197.1 268.5 197.1 269.5 197.2 270.4 197.2 271.4 197.2 272.4 197.2 273.3 197.2 274.3 197.3 275.3 197.3 276.3 197.3 277.2 197.3 278.2 197.3 279.2 197.3 280.1 197.3" stroke="#4b1999"/>
<path d="M57.8 200.8 58.8 200.8 59.7 200.8 60.7 200.8 61.7 200.8 62.6 200.8 63.6 200.8 64.6 200.8 65.5 200.8 66.5 200.8 67.5 200.8 68.5 200.8 69.4 200.8 70.4 200.8 71.4 200.8 72.3 200.8 73.3 200.8 74.3 200.8 75.3 200.8 76.2 200.8 77.2 200.9 78.2 201.8 79.1 204.0 80.1 206.4 81.1 209.2 82.1 212.4 83.0 215.4 84.0 218.2 85.0 220.7 85.9 223.2 86.9 225.8 87.9 228.5 88.9 231.6 89.8 234.8 90.8 238.0 91.8 240.8 92.7 243.2 93.7 245.2 94.7 246.9 95.6 248.5 96.6 250.1 97.6 251.7 98.6 253.5 99.5 255.5 100.5 257.6 101.5 259.6 102.4 261.7 103.4 263.7 104.4 265.5 105.4 267.6 106.3 269.5 107.3 270.4 108.3 269.5 109.2 267.6 110.2 265.2 111.2 262.4 112.2 258.7 113.1 254.5 114.1 249.9 115.1 245.2 116.0 240.6 117.0 236.0 118.0 231.3 119.0 226.4 119.9 221.2 120.9 215.6 121.9 208.9 122.8 201.3 123.8 194.4 124.8 189.6 125.8 185.2 126.7 181.5 127.7 178.7 128.7 177.4 129.6 177.2 130.6 177.1 131.6 177.5 132.5 178.4 133.5 179.5 134.5 180.7 135.5 181.6 136.4 182.3 137.4 183.0 138.4 183.6 139.3 184.2 140.3 184.8 141.3 185.3 142.3 185.8 143.2 186.3 144.2 186.8 145.2 187.2 146.1 187.6 147.1 188.0 148.1 188.4 149.1 188.8 150.0 189.1 151.0 189.5 152.0 189.8 152.9 190.1 153.9 190.4 154.9 190.7 155.9 191.0 156.8 191.3 157.8 191.6 158.8 191.9 159.7 192.2 160.7 192.5 161.7 192.8 162.6 193.0 163.6 193.3 164.6 193.5 165.6 193.8 166.5 194.0 167.5 194.2 168.5 194.4 169.4 194.5 170.4 194.7 171.4 194.9 172.4 195.1 173.3 195.4 174.3 195.7 175.3 196.0 176.2 196.5 177.2 197.1 178.2 197.6 179.2 198.0 180.1 198.1 181.1 198.1 182.1 198.1 183.0 198.0 184.0 198.0 185.0 197.9 186.0 197.8 186.9 197.7 187.9 197.6 188.9 197.4 189.8 197.2 190.8 196.9 191.8 195.9 192.7 194.3 193.7 192.5 194.7 190.7 195.7 189.5 196.6 188.6 197.6 187.8 198.6 187.4 199.5 188.1 200.5 189.7 201.5 191.6 202.5 193.3 203.4 194.9 204.4 196.7 205.4 198.3 206.3 199.5 207.3 199.9 208.3 199.6 209.3 198.6 210.2 197.2 211.2 195.6 212.2 193.9 213.1 192.3 214.1 190.7 215.1 188.7 216.1 186.5 217.0 184.3 218.0 182.3 219.0 180.7 219.9 179.6 220.9 179.2 221.9 179.4 222.9 180.1 223.8 181.1 224.8 182.3 225.8 183.6 226.7 184.7 227.7 186.0 228.7 187.5 229.6 189.1 230.6 190.7 231.6 192.2 232.6 193.5 233.5 194.5 234.5 195.3 235.5 196.1 236.4 196.8 237.4 197.4 238.4 197.9 239.4 198.2 240.3 198.4 241.3 198.5 242.3 198.6 243.2 198.7 244.2 198.8 245.2 198.9 246.2 199.0 247.1 199.0 248.1 199.1 249.1 199.2 250.0 199.3 251.0 199.4 252.0 199.4 253.0 199.5 253.9 199.6 254.9 199.6 255.9 199.7 256.8 199.7 257.8 199.8 258.8 199.9 259.7 199.9 260.7 199.9 261.7 200.0 262.7 200.0 263.6 200.1 264.6 200.1 265.6 200.1 266.5 200.2 267.5 200.2 268.5 200.2 269.5 200.3 270.4 200.3 271.4 200.3 272.4 200.3 273.3 200.3 274.3 200.4 275.3 200.4 276.3 200.4 277.2 200.4 278.2 200.4 279.2 200.4 280.1 200.4" stroke="#451aa0"/>
<path d="M57.8 203.9 58.8 204.0 59.7 204.0 60.7 204.0 61.7 204.0 62.6 204.0 63.6 204.0 64.6 204.0 65.5 204.0 66.5 204.0 67.5 204.0 68.5 204.0 69.4 204.0 70.4 204.0 71.4 204.0 72.3 204.0 73.3 204.0 74.3 204.0 75.3 204.0 76.2 204.0 77.2 204.0 78.2 205.0 79.1 207.2 80.1 209.7 81.1 212.5 82.1 215.8 83.0 219.0 84.0 221.8 85.0 224.4 85.9 227.0 86.9 229.6 87.9 232.4 88.9 235.5 89.8 238.8 90.8 242.1 91.8 245.0 92.7 247.5 93.7 249.5 94.7 251.3 95.6 252.9 96.6 254.5 97.6 256.2 98.6 258.1 99.5 260.1 100.5 262.2 101.5 264.3 102.4 266.5 103.4 268.5 104.4 270.4 105.4 272.5 106.3 274.5 107.3 275.3 108.3 274.5 109.2 272.5 110.2 270.0 111.2 267.1 112.2 263.4 113.1 259.1 114.1 254.4 115.1 249.5 116.0 244.8 117.0 240.1 118.0 235.3 119.0 230.2 119.9 224.9 120.9 219.1 121.9 212.2 122.8 204.5 123.8 197.4 124.8 192.4 125.8 188.0 126.7 184.1 127.7 181.3 128.7 180.0 129.6 179.8 130.6 179.7 131.6 180.0 132.5 181.0 133.5 182.2 134.5 183.4 135.5 184.3 136.4 185.0 137.4 185.7 138.4 186.3 139.3 187.0 140.3 187.5 141.3 188.1 142.3 188.6 143.2 189.1 144.2 189.6 145.2 190.0 146.1 190.5 147.1 190.9 148.1 191.3 149.1 191.6 150.0 192.0 151.0 192.3 152.0 192.7 152.9 193.0 153.9 193.3 154.9 193.6 155.9 194.0 156.8 194.3 157.8 194.6 158.8 194.9 159.7 195.2 160.7 195.5 161.7 195.7 162.6 196.0 163.6 196.3 164.6 196.5 165.6 196.8 166.5 197.0 167.5 197.2 168.5 197.4 169.4 197.6 170.4 197.7 171.4 198.0 172.4 198.2 173.3 198.4 174.3 198.7 175.3 199.1 176.2 199.6 177.2 200.2 178.2 200.7 179.2 201.1 180.1 201.2 181.1 201.2 182.1 201.2 183.0 201.1 184.0 201.1 185.0 201.0 186.0 200.9 186.9 200.8 187.9 200.6 188.9 200.5 189.8 200.3 190.8 200.0 191.8 199.0 192.7 197.3 193.7 195.4 194.7 193.7 195.7 192.4 196.6 191.4 197.6 190.6 198.6 190.2 199.5 190.9 200.5 192.6 201.5 194.6 202.5 196.3 203.4 197.9 204.4 199.7 205.4 201.4 206.3 202.6 207.3 203.1 208.3 202.7 209.3 201.7 210.2 200.3 211.2 198.6 212.2 196.9 213.1 195.3 214.1 193.6 215.1 191.5 216.1 189.3 217.0 187.1 218.0 185.0 219.0 183.3 219.9 182.2 220.9 181.8 221.9 182.1 222.9 182.8 223.8 183.8 224.8 185.0 225.8 186.3 226.7 187.5 227.7 188.8 228.7 190.3 229.6 191.9 230.6 193.6 231.6 195.1 232.6 196.5 233.5 197.5 234.5 198.3 235.5 199.1 236.4 199.8 237.4 200.5 238.4 201.0 239.4 201.3 240.3 201.5 241.3 201.6 242.3 201.7 243.2 201.8 244.2 201.9 245.2 202.0 246.2 202.1 247.1 202.2 248.1 202.3 249.1 202.3 250.0 202.4 251.0 202.5 252.0 202.6 253.0 202.6 253.9 202.7 254.9 202.8 255.9 202.8 256.8 202.9 257.8 203.0 258.8 203.0 259.7 203.1 260.7 203.1 261.7 203.1 262.7 203.2 263.6 203.2 264.6 203.3 265.6 203.3 266.5 203.3 267.5 203.4 268.5 203.4 269.5 203.4 270.4 203.4 271.4 203.5 272.4 203.5 273.3 203.5 274.3 203.5 275.3 203.5 276.3 203.6 277.2 203.6 278.2 203.6 279.2 203.6 280.1 203.6" stroke="#3e1aa8"/>
<path d="M57.8 207.1 58.8 207.1 59.7 207.1 60.7 207.1 61.7 207.1 62.6 207.1 63.6 207.1 64.6 207.1 65.5 207.2 66.5 207.2 67.5 207.2 68.5 207.2 69.4 207.2 70.4 207.2 71.4 207.2 72.3 207.2 73.3 207.2 74.3 207.2 75.3 207.2 76.2 207.2 77.2 207.2 78.2 208.2 79.1 210.4 80.1 213.0 81.1 215.8 82.1 219.1 83.0 222.3 84.0 225.1 85.0 227.8 85.9 230.4 86.9 233.1 87.9 235.9 88.9 239.1 89.8 242.4 90.8 245.7 91.8 248.7 92.7 251.1 93.7 253.2 94.7 255.0 95.6 256.6 96.6 258.3 97.6 260.0 98.6 261.9 99.5 263.9 100.5 266.0 101.5 268.2 102.4 270.3 103.4 272.4 104.4 274.3 105.4 276.5 106.3 278.5 107.3 279.3 108.3 278.5 109.2 276.4 110.2 273.9 111.2 271.0 112.2 267.2 113.1 262.9 114.1 258.1 115.1 253.2 116.0 248.4 117.0 243.7 118.0 238.8 119.0 233.7 119.9 228.3 120.9 222.5 121.9 215.5 122.8 207.7 123.8 200.5 124.8 195.5 125.8 191.0 126.7 187.1 127.7 184.2 128.7 182.9 129.6 182.7 130.6 182.6 131.6 182.9 132.5 183.9 133.5 185.1 134.5 186.3 135.5 187.3 136.4 188.0 137.4 188.7 138.4 189.3 139.3 189.9 140.3 190.5 141.3 191.1 142.3 191.6 143.2 192.1 144.2 192.6 145.2 193.1 146.1 193.5 147.1 193.9 148.1 194.3 149.1 194.7 150.0 195.0 151.0 195.4 152.0 195.7 152.9 196.1 153.9 196.4 154.9 196.7 155.9 197.0 156.8 197.3 157.8 197.7 158.8 198.0 159.7 198.3 160.7 198.5 161.7 198.8 162.6 199.1 163.6 199.4 164.6 199.6 165.6 199.9 166.5 200.1 167.5 200.3 168.5 200.5 169.4 200.7 170.4 200.9 171.4 201.1 172.4 201.3 173.3 201.5 174.3 201.8 175.3 202.2 176.2 202.7 177.2 203.3 178.2 203.8 179.2 204.2 180.1 204.4 181.1 204.4 182.1 204.3 183.0 204.3 184.0 204.2 185.0 204.1 186.0 204.0 186.9 203.9 187.9 203.8 188.9 203.6 189.8 203.4 190.8 203.2 191.8 202.1 192.7 200.4 193.7 198.5 194.7 196.7 195.7 195.4 196.6 194.5 197.6 193.6 198.6 193.3 199.5 194.0 200.5 195.6 201.5 197.6 202.5 199.4 203.4 201.1 204.4 202.9 205.4 204.5 206.3 205.8 207.3 206.3 208.3 205.9 209.3 204.9 210.2 203.4 211.2 201.7 212.2 200.0 213.1 198.4 214.1 196.7 215.1 194.6 216.1 192.3 217.0 190.1 218.0 188.0 219.0 186.3 219.9 185.1 220.9 184.7 221.9 185.0 222.9 185.7 223.8 186.8 224.8 188.0 225.8 189.3 226.7 190.5 227.7 191.8 228.7 193.3 229.6 195.0 230.6 196.7 231.6 198.2 232.6 199.6 233.5 200.6 234.5 201.4 235.5 202.2 236.4 203.0 237.4 203.6 238.4 204.1 239.4 204.5 240.3 204.6 241.3 204.7 242.3 204.9 243.2 205.0 244.2 205.1 245.2 205.2 246.2 205.3 247.1 205.3 248.1 205.4 249.1 205.5 250.0 205.6 251.0 205.7 252.0 205.7 253.0 205.8 253.9 205.9 254.9 205.9 255.9 206.0 256.8 206.1 257.8 206.1 258.8 206.2 259.7 206.2 260.7 206.3 261.7 206.3 262.7 206.4 263.6 206.4 264.6 206.4 265.6 206.5 266.5 206.5 267.5 206.6 268.5 206.6 269.5 206.6 270.4 206.6 271.4 206.7 272.4 206.7 273.3 206.7 274.3 206.7 275.3 206.7 276.3 206.7 277.2 206.7 278.2 206.8 279.2 206.8 280.1 206.8" stroke="#391aae"/>
<path d="M57.8 210.3 58.8 210.3 59.7 210.3 60.7 210.3 61.7 210.3 62.6 210.3 63.6 210.3 64.6 210.3 65.5 210.3 66.5 210.3 67.5 210.3 68.5 210.3 69.4 210.3 70.4 210.3 71.4 210.3 72.3 210.3 73.3 210.4 74.3 210.4 75.3 210.4 76.2 210.4 77.2 210.4 78.2 211.3 79.1 213.6 80.1 216.2 81.1 219.0 82.1 222.4 83.0 225.6 84.0 228.4 85.0 231.1 85.9 233.7 86.9 236.4 87.9 239.2 88.9 242.4 89.8 245.8 90.8 249.1 91.8 252.1 92.7 254.5 93.7 256.6 94.7 258.4 95.6 260.1 96.6 261.7 97.6 263.5 98.6 265.3 99.5 267.4 100.5 269.5 101.5 271.7 102.4 273.9 103.4 275.9 104.4 277.8 105.4 280.0 106.3 282.0 107.3 282.9 108.3 282.0 109.2 280.0 110.2 277.5 111.2 274.5 112.2 270.8 113.1 266.3 114.1 261.6 115.1 256.6 116.0 251.8 117.0 247.0 118.0 242.1 119.0 237.0 119.9 231.6 120.9 225.8 121.9 218.7 122.8 210.8 123.8 203.7 124.8 198.6 125.8 194.1 126.7 190.1 127.7 187.2 128.7 186.0 129.6 185.7 130.6 185.6 131.6 186.0 132.5 186.9 133.5 188.1 134.5 189.4 135.5 190.3 136.4 191.1 137.4 191.7 138.4 192.4 139.3 193.0 140.3 193.6 141.3 194.2 142.3 194.7 143.2 195.2 144.2 195.7 145.2 196.2 146.1 196.6 147.1 197.0 148.1 197.4 149.1 197.8 150.0 198.2 151.0 198.5 152.0 198.8 152.9 199.2 153.9 199.5 154.9 199.8 155.9 200.1 156.8 200.5 157.8 200.8 158.8 201.1 159.7 201.4 160.7 201.7 161.7 202.0 162.6 202.2 163.6 202.5 164.6 202.8 165.6 203.0 166.5 203.2 167.5 203.4 168.5 203.6 169.4 203.8 170.4 204.0 171.4 204.2 172.4 204.4 173.3 204.7 174.3 205.0 175.3 205.4 176.2 205.9 177.2 206.5 178.2 207.0 179.2 207.4 180.1 207.5 181.1 207.5 182.1 207.5 183.0 207.5 184.0 207.4 185.0 207.3 186.0 207.2 186.9 207.1 187.9 207.0 188.9 206.8 189.8 206.6 190.8 206.3 191.8 205.3 192.7 203.6 193.7 201.7 194.7 199.9 195.7 198.5 196.6 197.6 197.6 196.7 198.6 196.4 199.5 197.1 200.5 198.7 201.5 200.8 202.5 202.6 203.4 204.2 204.4 206.0 205.4 207.7 206.3 209.0 207.3 209.5 208.3 209.1 209.3 208.1 210.2 206.6 211.2 204.9 212.2 203.1 213.1 201.5 214.1 199.8 215.1 197.7 216.1 195.4 217.0 193.2 218.0 191.1 219.0 189.4 219.9 188.2 220.9 187.8 221.9 188.1 222.9 188.8 223.8 189.8 224.8 191.1 225.8 192.4 226.7 193.6 227.7 194.9 228.7 196.5 229.6 198.1 230.6 199.8 231.6 201.4 232.6 202.7 233.5 203.8 234.5 204.6 235.5 205.4 236.4 206.1 237.4 206.8 238.4 207.3 239.4 207.6 240.3 207.8 241.3 207.9 242.3 208.0 243.2 208.1 244.2 208.2 245.2 208.3 246.2 208.4 247.1 208.5 248.1 208.6 249.1 208.7 250.0 208.8 251.0 208.9 252.0 208.9 253.0 209.0 253.9 209.1 254.9 209.1 255.9 209.2 256.8 209.3 257.8 209.3 258.8 209.4 259.7 209.4 260.7 209.5 261.7 209.5 262.7 209.6 263.6 209.6 264.6 209.6 265.6 209.7 266.5 209.7 267.5 209.7 268.5 209.8 269.5 209.8 270.4 209.8 271.4 209.8 272.4 209.9 273.3 209.9 274.3 209.9 275.3 209.9 276.3 209.9 277.2 209.9 278.2 210.0 279.2 210.0 280.1 210.0" stroke="#331bb5"/>
<path d="M57.8 213.5 58.8 213.5 59.7 213.5 60.7 213.5 61.7 213.5 62.6 213.5 63.6 213.5 64.6 213.5 65.5 213.5 66.5 213.5 67.5 213.5 68.5 213.5 69.4 213.5 70.4 213.5 71.4 213.5 72.3 213.5 73.3 213.5 74.3 213.5 75.3 213.5 76.2 213.5 77.2 213.5 78.2 214.5 79.1 216.8 80.1 219.3 81.1 222.2 82.1 225.5 83.0 228.7 84.0 231.5 85.0 234.2 85.9 236.8 86.9 239.5 87.9 242.3 88.9 245.5 89.8 248.9 90.8 252.2 91.8 255.1 92.7 257.6 93.7 259.6 94.7 261.5 95.6 263.1 96.6 264.8 97.6 266.5 98.6 268.4 99.5 270.4 100.5 272.5 101.5 274.7 102.4 276.9 103.4 278.9 104.4 280.8 105.4 283.0 106.3 285.0 107.3 285.9 108.3 285.0 109.2 282.9 110.2 280.5 111.2 277.5 112.2 273.8 113.1 269.4 114.1 264.6 115.1 259.7 116.0 254.9 117.0 250.1 118.0 245.2 119.0 240.1 119.9 234.7 120.9 228.9 121.9 221.9 122.8 214.0 123.8 206.9 124.8 201.8 125.8 197.3 126.7 193.4 127.7 190.5 128.7 189.2 129.6 189.0 130.6 188.9 131.6 189.2 132.5 190.2 133.5 191.4 134.5 192.6 135.5 193.6 136.4 194.3 137.4 195.0 138.4 195.6 139.3 196.3 140.3 196.8 141.3 197.4 142.3 197.9 143.2 198.4 144.2 198.9 145.2 199.4 146.1 199.8 147.1 200.2 148.1 200.6 149.1 201.0 150.0 201.4 151.0 201.7 152.0 202.1 152.9 202.4 153.9 202.7 154.9 203.0 155.9 203.4 156.8 203.7 157.8 204.0 158.8 204.3 159.7 204.6 160.7 204.9 161.7 205.2 162.6 205.4 163.6 205.7 164.6 206.0 165.6 206.2 166.5 206.4 167.5 206.6 168.5 206.8 169.4 207.0 170.4 207.2 171.4 207.4 172.4 207.6 173.3 207.9 174.3 208.2 175.3 208.6 176.2 209.1 177.2 209.7 178.2 210.2 179.2 210.6 180.1 210.7 181.1 210.7 182.1 210.7 183.0 210.7 184.0 210.6 185.0 210.5 186.0 210.4 186.9 210.3 187.9 210.2 188.9 210.0 189.8 209.8 190.8 209.5 191.8 208.5 192.7 206.8 193.7 204.9 194.7 203.1 195.7 201.8 196.6 200.8 197.6 200.0 198.6 199.6 199.5 200.3 200.5 202.0 201.5 204.0 202.5 205.8 203.4 207.4 204.4 209.2 205.4 210.9 206.3 212.2 207.3 212.6 208.3 212.3 209.3 211.3 210.2 209.8 211.2 208.1 212.2 206.3 213.1 204.7 214.1 203.0 215.1 200.9 216.1 198.7 217.0 196.4 218.0 194.3 219.0 192.6 219.9 191.5 220.9 191.0 221.9 191.3 222.9 192.0 223.8 193.1 224.8 194.3 225.8 195.6 226.7 196.8 227.7 198.1 228.7 199.7 229.6 201.3 230.6 203.0 231.6 204.6 232.6 205.9 233.5 207.0 234.5 207.8 235.5 208.6 236.4 209.4 237.4 210.0 238.4 210.5 239.4 210.8 240.3 211.0 241.3 211.1 242.3 211.2 243.2 211.3 244.2 211.4 245.2 211.5 246.2 211.6 247.1 211.7 248.1 211.8 249.1 211.9 250.0 212.0 251.0 212.1 252.0 212.1 253.0 212.2 253.9 212.3 254.9 212.3 255.9 212.4 256.8 212.5 257.8 212.5 258.8 212.6 259.7 212.6 260.7 212.7 261.7 212.7 262.7 212.8 263.6 212.8 264.6 212.8 265.6 212.9 266.5 212.9 267.5 212.9 268.5 213.0 269.5 213.0 270.4 213.0 271.4 213.0 272.4 213.1 273.3 213.1 274.3 213.1 275.3 213.1 276.3 213.1 277.2 213.1 278.2 213.2 279.2 213.2 280.1 213.2" stroke="#2e1bbc"/>
<path d="M57.8 216.6 58.8 216.6 59.7 216.6 60.7 216.6 61.7 216.6 62.6 216.7 63.6 216.7 64.6 216.7 65.5 216.7 66.5 216.7 67.5 216.7 68.5 216.7 69.4 216.7 70.4 216.7 71.4 216.7 72.3 216.7 73.3 216.7 74.3 216.7 75.3 216.7 76.2 216.7 77.2 216.7 78.2 217.7 79.1 219.9 80.1 222.5 81.1 225.3 82.1 228.6 83.0 231.8 84.0 234.6 85.0 237.2 85.9 239.8 86.9 242.5 87.9 245.3 88.9 248.4 89.8 251.7 90.8 255.0 91.8 258.0 92.7 260.4 93.7 262.4 94.7 264.2 95.6 265.9 96.6 267.5 97.6 269.2 98.6 271.1 99.5 273.1 100.5 275.2 101.5 277.4 102.4 279.5 103.4 281.5 104.4 283.4 105.4 285.6 106.3 287.6 107.3 288.4 108.3 287.6 109.2 285.5 110.2 283.1 111.2 280.2 112.2 276.4 113.1 272.1 114.1 267.4 115.1 262.5 116.0 257.7 117.0 253.0 118.0 248.1 119.0 243.1 119.9 237.7 120.9 231.9 121.9 225.0 122.8 217.2 123.8 210.1 124.8 205.1 125.8 200.6 126.7 196.7 127.7 193.9 128.7 192.6 129.6 192.3 130.6 192.2 131.6 192.6 132.5 193.5 133.5 194.7 134.5 196.0 135.5 196.9 136.4 197.6 137.4 198.3 138.4 199.0 139.3 199.6 140.3 200.2 141.3 200.7 142.3 201.3 143.2 201.8 144.2 202.2 145.2 202.7 146.1 203.1 147.1 203.5 148.1 203.9 149.1 204.3 150.0 204.7 151.0 205.0 152.0 205.3 152.9 205.7 153.9 206.0 154.9 206.3 155.9 206.6 156.8 206.9 157.8 207.3 158.8 207.6 159.7 207.9 160.7 208.1 161.7 208.4 162.6 208.7 163.6 209.0 164.6 209.2 165.6 209.5 166.5 209.7 167.5 209.9 168.5 210.1 169.4 210.3 170.4 210.5 171.4 210.7 172.4 210.9 173.3 211.1 174.3 211.4 175.3 211.8 176.2 212.3 177.2 212.9 178.2 213.4 179.2 213.8 180.1 213.9 181.1 213.9 182.1 213.9 183.0 213.9 184.0 213.8 185.0 213.7 186.0 213.6 186.9 213.5 187.9 213.4 188.9 213.2 189.8 213.0 190.8 212.7 191.8 211.7 192.7 210.0 193.7 208.1 194.7 206.3 195.7 205.1 196.6 204.1 197.6 203.3 198.6 202.9 199.5 203.6 200.5 205.3 201.5 207.3 202.5 209.0 203.4 210.7 204.4 212.5 205.4 214.1 206.3 215.4 207.3 215.8 208.3 215.5 209.3 214.5 210.2 213.0 211.2 211.3 212.2 209.6 213.1 208.0 214.1 206.3 215.1 204.2 216.1 202.0 217.0 199.7 218.0 197.7 219.0 196.0 219.9 194.8 220.9 194.4 221.9 194.7 222.9 195.4 223.8 196.4 224.8 197.7 225.8 199.0 226.7 200.2 227.7 201.5 228.7 203.0 229.6 204.6 230.6 206.3 231.6 207.9 232.6 209.2 233.5 210.2 234.5 211.1 235.5 211.9 236.4 212.6 237.4 213.2 238.4 213.7 239.4 214.1 240.3 214.2 241.3 214.3 242.3 214.5 243.2 214.6 244.2 214.7 245.2 214.8 246.2 214.9 247.1 214.9 248.1 215.0 249.1 215.1 250.0 215.2 251.0 215.3 252.0 215.3 253.0 215.4 253.9 215.5 254.9 215.5 255.9 215.6 256.8 215.7 257.8 215.7 258.8 215.8 259.7 215.8 260.7 215.9 261.7 215.9 262.7 216.0 263.6 216.0 264.6 216.1 265.6 216.1 266.5 216.1 267.5 216.2 268.5 216.2 269.5 216.2 270.4 216.2 271.4 216.3 272.4 216.3 273.3 216.3 274.3 216.3 275.3 216.3 276.3 216.3 277.2 216.4 278.2 216.4 279.2 216.4 280.1 216.4" stroke="#281bc2"/>
<path d="M57.8 219.8 58.8 219.8 59.7 219.8 60.7 219.8 61.7 219.8 62.6 219.8 63.6 219.8 64.6 219.8 65.5 219.8 66.5 219.8 67.5 219.8 68.5 219.8 69.4 219.9 70.4 219.9 71.4 219.9 72.3 219.9 73.3 219.9 74.3 219.9 75.3 219.9 76.2 219.9 77.2 219.9 78.2 220.8 79.1 223.0 80.1 225.5 81.1 228.3 82.1 231.6 83.0 234.7 84.0 237.4 85.0 240.0 85.9 242.6 86.9 245.2 87.9 248.0 88.9 251.0 89.8 254.3 90.8 257.5 91.8 260.5 92.7 262.9 93.7 264.8 94.7 266.6 95.6 268.2 96.6 269.8 97.6 271.5 98.6 273.4 99.5 275.3 100.5 277.4 101.5 279.5 102.4 281.6 103.4 283.6 104.4 285.5 105.4 287.6 106.3 289.6 107.3 290.4 108.3 289.6 109.2 287.6 110.2 285.2 111.2 282.3 112.2 278.6 113.1 274.3 114.1 269.7 115.1 264.9 116.0 260.2 117.0 255.6 118.0 250.8 119.0 245.8 119.9 240.5 120.9 234.9 121.9 228.0 122.8 220.4 123.8 213.4 124.8 208.5 125.8 204.1 126.7 200.2 127.7 197.4 128.7 196.2 129.6 195.9 130.6 195.8 131.6 196.2 132.5 197.1 133.5 198.3 134.5 199.5 135.5 200.4 136.4 201.1 137.4 201.8 138.4 202.4 139.3 203.1 140.3 203.6 141.3 204.2 142.3 204.7 143.2 205.2 144.2 205.7 145.2 206.1 146.1 206.5 147.1 206.9 148.1 207.3 149.1 207.7 150.0 208.0 151.0 208.4 152.0 208.7 152.9 209.0 153.9 209.4 154.9 209.7 155.9 210.0 156.8 210.3 157.8 210.6 158.8 210.9 159.7 211.2 160.7 211.5 161.7 211.8 162.6 212.0 163.6 212.3 164.6 212.5 165.6 212.8 166.5 213.0 167.5 213.2 168.5 213.4 169.4 213.6 170.4 213.7 171.4 214.0 172.4 214.2 173.3 214.4 174.3 214.7 175.3 215.1 176.2 215.6 177.2 216.1 178.2 216.7 179.2 217.0 180.1 217.2 181.1 217.2 182.1 217.2 183.0 217.1 184.0 217.1 185.0 217.0 186.0 216.9 186.9 216.8 187.9 216.6 188.9 216.5 189.8 216.3 190.8 216.0 191.8 215.0 192.7 213.3 193.7 211.5 194.7 209.7 195.7 208.4 196.6 207.5 197.6 206.7 198.6 206.4 199.5 207.0 200.5 208.6 201.5 210.6 202.5 212.4 203.4 214.0 204.4 215.7 205.4 217.4 206.3 218.6 207.3 219.1 208.3 218.7 209.3 217.7 210.2 216.3 211.2 214.6 212.2 212.9 213.1 211.3 214.1 209.7 215.1 207.6 216.1 205.4 217.0 203.2 218.0 201.2 219.0 199.5 219.9 198.4 220.9 198.0 221.9 198.3 222.9 199.0 223.8 200.0 224.8 201.2 225.8 202.5 226.7 203.7 227.7 204.9 228.7 206.4 229.6 208.1 230.6 209.7 231.6 211.2 232.6 212.5 233.5 213.5 234.5 214.4 235.5 215.1 236.4 215.9 237.4 216.5 238.4 217.0 239.4 217.3 240.3 217.5 241.3 217.6 242.3 217.7 243.2 217.8 244.2 217.9 245.2 218.0 246.2 218.1 247.1 218.2 248.1 218.3 249.1 218.3 250.0 218.4 251.0 218.5 252.0 218.6 253.0 218.6 253.9 218.7 254.9 218.8 255.9 218.8 256.8 218.9 257.8 219.0 258.8 219.0 259.7 219.1 260.7 219.1 261.7 219.2 262.7 219.2 263.6 219.2 264.6 219.3 265.6 219.3 266.5 219.3 267.5 219.4 268.5 219.4 269.5 219.4 270.4 219.5 271.4 219.5 272.4 219.5 273.3 219.5 274.3 219.5 275.3 219.5 276.3 219.6 277.2 219.6 278.2 219.6 279.2 219.6 280.1 219.6" stroke="#231cc8"/>
<path d="M57.8 223.0 58.8 223.0 59.7 223.0 60.7 223.0 61.7 223.0 62.6 223.0 63.6 223.0 64.6 223.0 65.5 223.0 66.5 223.0 67.5 223.0 68.5 223.0 69.4 223.0 70.4 223.0 71.4 223.0 72.3 223.0 73.3 223.0 74.3 223.0 75.3 223.1 76.2 223.1 77.2 223.1 78.2 224.0 79.1 226.1 80.1 228.5 81.1 231.2 82.1 234.4 83.0 237.4 84.0 240.1 85.0 242.6 85.9 245.1 86.9 247.6 87.9 250.3 88.9 253.3 89.8 256.4 90.8 259.5 91.8 262.4 92.7 264.7 93.7 266.6 94.7 268.3 95.6 269.9 96.6 271.5 97.6 273.1 98.6 274.9 99.5 276.8 100.5 278.8 101.5 280.9 102.4 282.9 103.4 284.8 104.4 286.6 105.4 288.7 106.3 290.6 107.3 291.4 108.3 290.6 109.2 288.6 110.2 286.3 111.2 283.5 112.2 280.0 113.1 275.8 114.1 271.3 115.1 266.7 116.0 262.1 117.0 257.6 118.0 253.0 119.0 248.2 119.9 243.1 120.9 237.6 121.9 231.0 122.8 223.5 123.8 216.8 124.8 212.0 125.8 207.8 126.7 204.0 127.7 201.3 128.7 200.1 129.6 199.9 130.6 199.8 131.6 200.1 132.5 201.0 133.5 202.2 134.5 203.3 135.5 204.2 136.4 204.9 137.4 205.6 138.4 206.2 139.3 206.8 140.3 207.3 141.3 207.9 142.3 208.4 143.2 208.8 144.2 209.3 145.2 209.7 146.1 210.1 147.1 210.5 148.1 210.9 149.1 211.3 150.0 211.6 151.0 211.9 152.0 212.3 152.9 212.6 153.9 212.9 154.9 213.2 155.9 213.5 156.8 213.8 157.8 214.1 158.8 214.4 159.7 214.7 160.7 214.9 161.7 215.2 162.6 215.5 163.6 215.7 164.6 216.0 165.6 216.2 166.5 216.4 167.5 216.6 168.5 216.8 169.4 217.0 170.4 217.1 171.4 217.3 172.4 217.5 173.3 217.8 174.3 218.1 175.3 218.4 176.2 218.9 177.2 219.5 178.2 220.0 179.2 220.3 180.1 220.5 181.1 220.5 182.1 220.4 183.0 220.4 184.0 220.3 185.0 220.3 186.0 220.2 186.9 220.1 187.9 219.9 188.9 219.8 189.8 219.6 190.8 219.3 191.8 218.3 192.7 216.7 193.7 214.9 194.7 213.2 195.7 212.0 196.6 211.1 197.6 210.3 198.6 210.0 199.5 210.6 200.5 212.2 201.5 214.1 202.5 215.8 203.4 217.4 204.4 219.1 205.4 220.7 206.3 221.8 207.3 222.3 208.3 221.9 209.3 221.0 210.2 219.6 211.2 218.0 212.2 216.3 213.1 214.8 214.1 213.2 215.1 211.2 216.1 209.1 217.0 207.0 218.0 205.0 219.0 203.4 219.9 202.3 220.9 201.9 221.9 202.2 222.9 202.8 223.8 203.8 224.8 205.0 225.8 206.2 226.7 207.4 227.7 208.6 228.7 210.1 229.6 211.6 230.6 213.2 231.6 214.7 232.6 216.0 233.5 217.0 234.5 217.8 235.5 218.5 236.4 219.2 237.4 219.8 238.4 220.3 239.4 220.6 240.3 220.8 241.3 220.9 242.3 221.0 243.2 221.1 244.2 221.2 245.2 221.3 246.2 221.4 247.1 221.5 248.1 221.5 249.1 221.6 250.0 221.7 251.0 221.8 252.0 221.8 253.0 221.9 253.9 222.0 254.9 222.0 255.9 222.1 256.8 222.2 257.8 222.2 258.8 222.3 259.7 222.3 260.7 222.4 261.7 222.4 262.7 222.4 263.6 222.5 264.6 222.5 265.6 222.6 266.5 222.6 267.5 222.6 268.5 222.6 269.5 222.7 270.4 222.7 271.4 222.7 272.4 222.7 273.3 222.8 274.3 222.8 275.3 222.8 276.3 222.8 277.2 222.8 278.2 222.8 279.2 222.8 280.1 222.8" stroke="#1e1cce"/>
</g>
<g fill="none" stroke-width="1.75" stroke-linejoin="round" clip-path="url(#clipC350)">
<path d="M407.8 159.4 408.8 159.4 409.7 159.4 410.7 159.4 411.7 159.4 412.6 159.4 413.6 159.4 414.6 159.4 415.5 159.4 416.5 159.4 417.5 159.4 418.5 159.4 419.4 159.4 420.4 159.5 421.4 159.3 422.3 159.0 423.3 158.6 424.3 158.0 425.3 157.4 426.2 156.6 427.2 155.5 428.2 154.3 429.1 153.0 430.1 151.9 431.1 150.8 432.1 149.5 433.0 148.6 434.0 148.2 435.0 148.4 435.9 148.9 436.9 149.2 437.9 149.0 438.9 148.5 439.8 147.8 440.8 147.1 441.8 146.1 442.7 144.9 443.7 143.7 444.7 142.3 445.6 140.9 446.6 139.2 447.6 137.4 448.6 135.6 449.5 133.8 450.5 131.6 451.5 129.1 452.4 126.8 453.4 125.4 454.4 125.3 455.4 125.8 456.3 126.6 457.3 127.6 458.3 129.0 459.2 131.0 460.2 133.3 461.2 135.5 462.2 137.7 463.1 140.0 464.1 142.5 465.1 145.0 466.0 147.6 467.0 150.5 468.0 153.7 469.0 156.8 469.9 159.7 470.9 162.6 471.9 165.3 472.8 166.5 473.8 166.5 474.8 166.4 475.8 166.2 476.7 166.0 477.7 165.9 478.7 165.7 479.6 165.6 480.6 165.5 481.6 165.3 482.5 165.2 483.5 165.1 484.5 165.0 485.5 164.9 486.4 164.8 487.4 164.7 488.4 164.7 489.3 164.6 490.3 164.5 491.3 164.5 492.3 164.4 493.2 164.4 494.2 164.3 495.2 164.3 496.1 164.3 497.1 164.2 498.1 164.2 499.1 164.1 500.0 164.1 501.0 164.1 502.0 164.0 502.9 164.0 503.9 164.0 504.9 163.9 505.9 163.9 506.8 163.8 507.8 163.8 508.8 163.8 509.7 163.8 510.7 163.7 511.7 163.7 512.6 163.7 513.6 163.6 514.6 163.6 515.6 163.6 516.5 163.6 517.5 163.5 518.5 163.5 519.4 163.5 520.4 163.4 521.4 163.4 522.4 163.4 523.3 163.3 524.3 163.3 525.3 163.3 526.2 163.2 527.2 163.2 528.2 163.2 529.2 163.1 530.1 163.1 531.1 163.0 532.1 163.0 533.0 162.9 534.0 162.9 535.0 162.9 536.0 162.8 536.9 162.8 537.9 162.7 538.9 162.7 539.8 162.6 540.8 162.6 541.8 162.5 542.7 162.4 543.7 162.3 544.7 162.2 545.7 162.0 546.6 161.8 547.6 161.6 548.6 161.3 549.5 161.1 550.5 161.0 551.5 160.9 552.5 160.9 553.4 161.1 554.4 161.4 555.4 161.9 556.3 162.4 557.3 163.2 558.3 164.0 559.3 165.0 560.2 166.1 561.2 167.2 562.2 168.2 563.1 169.2 564.1 170.0 565.1 170.5 566.1 170.6 567.0 170.4 568.0 169.9 569.0 169.1 569.9 168.1 570.9 166.9 571.9 165.8 572.9 164.8 573.8 163.9 574.8 163.2 575.8 162.6 576.7 162.2 577.7 161.8 578.7 161.6 579.6 161.5 580.6 161.4 581.6 161.3 582.6 161.3 583.5 161.2 584.5 161.2 585.5 161.2 586.4 161.2 587.4 161.1 588.4 161.1 589.4 161.1 590.3 161.1 591.3 161.1 592.3 161.0 593.2 161.0 594.2 161.0 595.2 161.0 596.2 161.0 597.1 161.0 598.1 160.9 599.1 160.9 600.0 160.9 601.0 160.9 602.0 160.9 603.0 160.9 603.9 160.8 604.9 160.8 605.9 160.8 606.8 160.8 607.8 160.8 608.8 160.7 609.7 160.7 610.7 160.7 611.7 160.7 612.7 160.7 613.6 160.6 614.6 160.6 615.6 160.6 616.5 160.6 617.5 160.6 618.5 160.5 619.5 160.5 620.4 160.5 621.4 160.5 622.4 160.5 623.3 160.5 624.3 160.4 625.3 160.4 626.3 160.4 627.2 160.4 628.2 160.4 629.2 160.3 630.1 160.3" stroke="#de121c"/>
<path d="M407.8 162.5 408.8 162.5 409.7 162.5 410.7 162.5 411.7 162.5 412.6 162.5 413.6 162.5 414.6 162.5 415.5 162.5 416.5 162.5 417.5 162.5 418.5 162.5 419.4 162.5 420.4 162.5 421.4 162.5 422.3 162.3 423.3 162.1 424.3 161.8 425.3 161.4 426.2 161.0 427.2 160.4 428.2 159.8 429.1 159.1 430.1 158.5 431.1 157.9 432.1 157.2 433.0 156.7 434.0 156.5 435.0 156.6 435.9 156.9 436.9 157.0 437.9 156.9 438.9 156.6 439.8 156.3 440.8 155.9 441.8 155.4 442.7 154.7 443.7 154.0 444.7 153.3 445.6 152.5 446.6 151.7 447.6 150.7 448.6 149.7 449.5 148.7 450.5 147.5 451.5 146.2 452.4 144.9 453.4 144.2 454.4 144.1 455.4 144.4 456.3 144.8 457.3 145.4 458.3 146.1 459.2 147.2 460.2 148.4 461.2 149.7 462.2 150.9 463.1 152.1 464.1 153.4 465.1 154.8 466.0 156.2 467.0 157.8 468.0 159.5 469.0 161.2 469.9 162.7 470.9 164.3 471.9 165.8 472.8 166.5 473.8 166.4 474.8 166.4 475.8 166.3 476.7 166.2 477.7 166.1 478.7 166.0 479.6 166.0 480.6 165.9 481.6 165.8 482.5 165.7 483.5 165.7 484.5 165.6 485.5 165.6 486.4 165.5 487.4 165.5 488.4 165.5 489.3 165.4 490.3 165.4 491.3 165.4 492.3 165.4 493.2 165.3 494.2 165.3 495.2 165.3 496.1 165.3 497.1 165.2 498.1 165.2 499.1 165.2 500.0 165.2 501.0 165.2 502.0 165.1 502.9 165.1 503.9 165.1 504.9 165.1 505.9 165.1 506.8 165.1 507.8 165.0 508.8 165.0 509.7 165.0 510.7 165.0 511.7 165.0 512.6 165.0 513.6 165.0 514.6 164.9 515.6 164.9 516.5 164.9 517.5 164.9 518.5 164.9 519.4 164.9 520.4 164.9 521.4 164.8 522.4 164.8 523.3 164.8 524.3 164.8 525.3 164.8 526.2 164.8 527.2 164.7 528.2 164.7 529.2 164.7 530.1 164.7 531.1 164.6 532.1 164.6 533.0 164.6 534.0 164.6 535.0 164.6 536.0 164.5 536.9 164.5 537.9 164.5 538.9 164.5 539.8 164.4 540.8 164.4 541.8 164.4 542.7 164.3 543.7 164.2 544.7 164.1 545.7 164.0 546.6 163.8 547.6 163.6 548.6 163.3 549.5 163.2 550.5 163.0 551.5 163.0 552.5 163.0 553.4 163.2 554.4 163.5 555.4 164.0 556.3 164.6 557.3 165.3 558.3 166.2 559.3 167.2 560.2 168.3 561.2 169.4 562.2 170.5 563.1 171.5 564.1 172.3 565.1 172.8 566.1 172.9 567.0 172.8 568.0 172.2 569.0 171.4 569.9 170.4 570.9 169.3 571.9 168.2 572.9 167.2 573.8 166.3 574.8 165.6 575.8 165.0 576.7 164.6 577.7 164.3 578.7 164.1 579.6 164.0 580.6 163.9 581.6 163.8 582.6 163.8 583.5 163.8 584.5 163.7 585.5 163.7 586.4 163.7 587.4 163.7 588.4 163.7 589.4 163.7 590.3 163.7 591.3 163.7 592.3 163.7 593.2 163.7 594.2 163.7 595.2 163.7 596.2 163.6 597.1 163.6 598.1 163.6 599.1 163.6 600.0 163.6 601.0 163.6 602.0 163.6 603.0 163.6 603.9 163.6 604.9 163.6 605.9 163.6 606.8 163.5 607.8 163.5 608.8 163.5 609.7 163.5 610.7 163.5 611.7 163.5 612.7 163.5 613.6 163.5 614.6 163.5 615.6 163.5 616.5 163.5 617.5 163.5 618.5 163.4 619.5 163.4 620.4 163.4 621.4 163.4 622.4 163.4 623.3 163.4 624.3 163.4 625.3 163.4 626.3 163.4 627.2 163.4 628.2 163.4 629.2 163.3 630.1 163.3" stroke="#d81220"/>
<path d="M407.8 165.6 408.8 165.6 409.7 165.6 410.7 165.6 411.7 165.6 412.6 165.6 413.6 165.6 414.6 165.6 415.5 165.6 416.5 165.6 417.5 165.6 418.5 165.6 419.4 165.6 420.4 165.6 421.4 165.6 422.3 165.6 423.3 165.5 424.3 165.5 425.3 165.4 426.2 165.3 427.2 165.3 428.2 165.2 429.1 165.2 430.1 165.2 431.1 165.4 432.1 165.6 433.0 165.9 434.0 166.4 435.0 167.2 435.9 168.0 436.9 168.7 437.9 169.1 438.9 169.3 439.8 169.1 440.8 168.8 441.8 168.4 442.7 168.1 443.7 167.7 444.7 167.5 445.6 167.4 446.6 167.4 447.6 167.5 448.6 167.7 449.5 167.9 450.5 168.1 451.5 168.4 452.4 168.7 453.4 169.1 454.4 169.7 455.4 170.3 456.3 170.5 457.3 170.5 458.3 170.5 459.2 170.4 460.2 170.3 461.2 170.1 462.2 169.7 463.1 169.3 464.1 169.0 465.1 168.6 466.0 168.1 467.0 167.6 468.0 167.2 469.0 166.8 469.9 166.2 470.9 165.6 471.9 165.1 472.8 164.7 473.8 164.3 474.8 164.0 475.8 163.7 476.7 163.6 477.7 163.6 478.7 163.7 479.6 163.8 480.6 163.8 481.6 163.9 482.5 164.0 483.5 164.1 484.5 164.1 485.5 164.2 486.4 164.3 487.4 164.4 488.4 164.5 489.3 164.6 490.3 164.6 491.3 164.7 492.3 164.8 493.2 164.8 494.2 164.9 495.2 165.0 496.1 165.1 497.1 165.1 498.1 165.2 499.1 165.3 500.0 165.3 501.0 165.4 502.0 165.4 502.9 165.5 503.9 165.5 504.9 165.5 505.9 165.6 506.8 165.6 507.8 165.6 508.8 165.7 509.7 165.7 510.7 165.7 511.7 165.8 512.6 165.8 513.6 165.8 514.6 165.8 515.6 165.9 516.5 165.9 517.5 165.9 518.5 165.9 519.4 165.9 520.4 165.9 521.4 165.9 522.4 165.9 523.3 165.9 524.3 165.8 525.3 165.8 526.2 165.8 527.2 165.8 528.2 165.8 529.2 165.8 530.1 165.7 531.1 165.7 532.1 165.6 533.0 165.6 534.0 165.5 535.0 165.5 536.0 165.5 536.9 165.4 537.9 165.4 538.9 165.3 539.8 165.2 540.8 165.1 541.8 165.0 542.7 164.9 543.7 164.7 544.7 164.6 545.7 164.4 546.6 164.2 547.6 164.2 548.6 164.2 549.5 164.2 550.5 164.3 551.5 164.6 552.5 165.0 553.4 165.5 554.4 165.8 555.4 166.2 556.3 166.5 557.3 167.0 558.3 167.6 559.3 168.3 560.2 169.0 561.2 169.8 562.2 170.6 563.1 171.3 564.1 171.9 565.1 172.1 566.1 172.1 567.0 171.8 568.0 171.2 569.0 170.5 569.9 169.6 570.9 168.7 571.9 167.8 572.9 167.0 573.8 166.3 574.8 165.8 575.8 165.4 576.7 165.2 577.7 165.2 578.7 165.2 579.6 165.2 580.6 165.3 581.6 165.4 582.6 165.5 583.5 165.6 584.5 165.7 585.5 165.8 586.4 165.8 587.4 165.9 588.4 165.9 589.4 166.0 590.3 166.0 591.3 166.1 592.3 166.1 593.2 166.1 594.2 166.2 595.2 166.2 596.2 166.2 597.1 166.2 598.1 166.2 599.1 166.2 600.0 166.3 601.0 166.3 602.0 166.3 603.0 166.3 603.9 166.3 604.9 166.3 605.9 166.3 606.8 166.3 607.8 166.3 608.8 166.3 609.7 166.3 610.7 166.3 611.7 166.3 612.7 166.3 613.6 166.3 614.6 166.3 615.6 166.3 616.5 166.3 617.5 166.3 618.5 166.3 619.5 166.3 620.4 166.3 621.4 166.3 622.4 166.3 623.3 166.3 624.3 166.3 625.3 166.4 626.3 166.4 627.2 166.4 628.2 166.4 629.2 166.4 630.1 166.4" stroke="#d01327"/>
<path d="M407.8 168.7 408.8 168.7 409.7 168.7 410.7 168.7 411.7 168.7 412.6 168.7 413.6 168.7 414.6 168.7 415.5 168.7 416.5 168.7 417.5 168.7 418.5 168.7 419.4 168.7 420.4 168.7 421.4 168.7 422.3 168.7 423.3 168.7 424.3 168.7 425.3 168.7 426.2 168.8 427.2 168.8 428.2 168.9 429.1 169.1 430.1 169.3 431.1 169.6 432.1 169.9 433.0 170.5 434.0 171.1 435.0 172.0 435.9 172.8 436.9 173.6 437.9 174.1 438.9 174.3 439.8 174.3 440.8 174.0 441.8 173.7 442.7 173.4 443.7 173.2 444.7 173.1 445.6 173.2 446.6 173.5 447.6 173.8 448.6 174.2 449.5 174.7 450.5 175.3 451.5 175.9 452.4 176.6 453.4 177.2 454.4 177.8 455.4 178.5 456.3 178.6 457.3 178.5 458.3 178.3 459.2 178.0 460.2 177.6 461.2 177.0 462.2 176.3 463.1 175.5 464.1 174.8 465.1 174.0 466.0 173.1 467.0 172.2 468.0 171.3 469.0 170.4 469.9 169.4 470.9 168.3 471.9 167.4 472.8 166.7 473.8 166.3 474.8 165.9 475.8 165.7 476.7 165.6 477.7 165.6 478.7 165.7 479.6 165.8 480.6 165.9 481.6 166.0 482.5 166.1 483.5 166.2 484.5 166.3 485.5 166.4 486.4 166.5 487.4 166.6 488.4 166.7 489.3 166.8 490.3 166.9 491.3 167.0 492.3 167.1 493.2 167.2 494.2 167.2 495.2 167.3 496.1 167.4 497.1 167.5 498.1 167.6 499.1 167.6 500.0 167.7 501.0 167.8 502.0 167.9 502.9 167.9 503.9 168.0 504.9 168.0 505.9 168.1 506.8 168.1 507.8 168.1 508.8 168.2 509.7 168.2 510.7 168.3 511.7 168.3 512.6 168.3 513.6 168.4 514.6 168.4 515.6 168.4 516.5 168.4 517.5 168.4 518.5 168.4 519.4 168.4 520.4 168.4 521.4 168.4 522.4 168.4 523.3 168.4 524.3 168.4 525.3 168.4 526.2 168.4 527.2 168.4 528.2 168.4 529.2 168.4 530.1 168.3 531.1 168.3 532.1 168.2 533.0 168.2 534.0 168.1 535.0 168.1 536.0 168.1 536.9 168.0 537.9 167.9 538.9 167.9 539.8 167.8 540.8 167.7 541.8 167.6 542.7 167.4 543.7 167.3 544.7 167.1 545.7 166.9 546.6 166.8 547.6 166.8 548.6 166.8 549.5 166.9 550.5 167.1 551.5 167.5 552.5 167.9 553.4 168.3 554.4 168.7 555.4 169.0 556.3 169.3 557.3 169.7 558.3 170.2 559.3 170.8 560.2 171.4 561.2 172.1 562.2 172.8 563.1 173.4 564.1 173.9 565.1 174.1 566.1 174.0 567.0 173.7 568.0 173.1 569.0 172.4 569.9 171.7 570.9 170.8 571.9 170.1 572.9 169.3 573.8 168.7 574.8 168.3 575.8 168.0 576.7 167.8 577.7 167.8 578.7 167.8 579.6 167.9 580.6 168.0 581.6 168.1 582.6 168.3 583.5 168.4 584.5 168.5 585.5 168.6 586.4 168.7 587.4 168.7 588.4 168.8 589.4 168.9 590.3 168.9 591.3 169.0 592.3 169.0 593.2 169.1 594.2 169.1 595.2 169.1 596.2 169.1 597.1 169.2 598.1 169.2 599.1 169.2 600.0 169.2 601.0 169.2 602.0 169.2 603.0 169.2 603.9 169.2 604.9 169.2 605.9 169.2 606.8 169.3 607.8 169.3 608.8 169.3 609.7 169.3 610.7 169.3 611.7 169.3 612.7 169.3 613.6 169.3 614.6 169.3 615.6 169.3 616.5 169.3 617.5 169.3 618.5 169.3 619.5 169.3 620.4 169.3 621.4 169.3 622.4 169.4 623.3 169.4 624.3 169.4 625.3 169.4 626.3 169.4 627.2 169.4 628.2 169.4 629.2 169.4 630.1 169.4" stroke="#c7132e"/>
<path d="M407.8 171.8 408.8 171.8 409.7 171.8 410.7 171.8 411.7 171.8 412.6 171.8 413.6 171.8 414.6 171.8 415.5 171.8 416.5 171.8 417.5 171.8 418.5 171.8 419.4 171.8 420.4 171.8 421.4 171.8 422.3 171.8 423.3 171.8 424.3 171.8 425.3 171.8 426.2 171.8 427.2 172.0 428.2 172.1 429.1 172.3 430.1 172.6 431.1 173.0 432.1 173.6 433.0 174.4 434.0 175.4 435.0 176.7 435.9 177.9 436.9 179.1 437.9 179.9 438.9 180.2 439.8 180.1 440.8 179.8 441.8 179.3 442.7 178.8 443.7 178.5 444.7 178.4 445.6 178.6 446.6 178.9 447.6 179.4 448.6 180.1 449.5 180.8 450.5 181.6 451.5 182.6 452.4 183.6 453.4 184.5 454.4 185.5 455.4 186.4 456.3 186.7 457.3 186.5 458.3 186.2 459.2 185.7 460.2 185.1 461.2 184.2 462.2 183.1 463.1 182.0 464.1 180.8 465.1 179.6 466.0 178.3 467.0 177.0 468.0 175.6 469.0 174.2 469.9 172.7 470.9 171.1 471.9 169.7 472.8 168.7 473.8 168.1 474.8 167.5 475.8 167.1 476.7 166.9 477.7 167.0 478.7 167.1 479.6 167.2 480.6 167.4 481.6 167.5 482.5 167.7 483.5 167.8 484.5 168.0 485.5 168.1 486.4 168.3 487.4 168.5 488.4 168.6 489.3 168.8 490.3 168.9 491.3 169.1 492.3 169.2 493.2 169.3 494.2 169.4 495.2 169.6 496.1 169.7 497.1 169.8 498.1 169.9 499.1 170.0 500.0 170.1 501.0 170.2 502.0 170.3 502.9 170.4 503.9 170.5 504.9 170.6 505.9 170.6 506.8 170.7 507.8 170.8 508.8 170.8 509.7 170.9 510.7 170.9 511.7 171.0 512.6 171.0 513.6 171.1 514.6 171.1 515.6 171.2 516.5 171.2 517.5 171.2 518.5 171.2 519.4 171.2 520.4 171.2 521.4 171.2 522.4 171.2 523.3 171.2 524.3 171.2 525.3 171.2 526.2 171.2 527.2 171.1 528.2 171.1 529.2 171.1 530.1 171.0 531.1 170.9 532.1 170.9 533.0 170.8 534.0 170.7 535.0 170.7 536.0 170.6 536.9 170.5 537.9 170.4 538.9 170.3 539.8 170.2 540.8 170.0 541.8 169.9 542.7 169.7 543.7 169.5 544.7 169.3 545.7 169.1 546.6 169.0 547.6 169.0 548.6 169.2 549.5 169.4 550.5 169.8 551.5 170.3 552.5 170.9 553.4 171.5 554.4 171.9 555.4 172.0 556.3 172.2 557.3 172.3 558.3 172.6 559.3 173.0 560.2 173.4 561.2 173.8 562.2 174.2 563.1 174.6 564.1 174.9 565.1 174.9 566.1 174.7 567.0 174.3 568.0 173.7 569.0 173.1 569.9 172.5 570.9 171.8 571.9 171.2 572.9 170.6 573.8 170.2 574.8 169.9 575.8 169.7 576.7 169.7 577.7 169.8 578.7 170.0 579.6 170.2 580.6 170.4 581.6 170.6 582.6 170.8 583.5 171.0 584.5 171.1 585.5 171.3 586.4 171.4 587.4 171.5 588.4 171.6 589.4 171.7 590.3 171.8 591.3 171.9 592.3 171.9 593.2 172.0 594.2 172.0 595.2 172.1 596.2 172.1 597.1 172.1 598.1 172.2 599.1 172.2 600.0 172.2 601.0 172.2 602.0 172.2 603.0 172.2 603.9 172.2 604.9 172.2 605.9 172.3 606.8 172.3 607.8 172.3 608.8 172.3 609.7 172.3 610.7 172.3 611.7 172.3 612.7 172.3 613.6 172.3 614.6 172.3 615.6 172.3 616.5 172.3 617.5 172.3 618.5 172.4 619.5 172.4 620.4 172.4 621.4 172.4 622.4 172.4 623.3 172.4 624.3 172.4 625.3 172.4 626.3 172.4 627.2 172.4 628.2 172.4 629.2 172.4 630.1 172.4" stroke="#bc1437"/>
<path d="M407.8 174.9 408.8 174.9 409.7 174.9 410.7 174.9 411.7 174.9 412.6 174.9 413.6 174.9 414.6 174.9 415.5 174.9 416.5 174.9 417.5 174.9 418.5 174.9 419.4 174.9 420.4 174.9 421.4 174.9 422.3 174.9 423.3 174.9 424.3 174.9 425.3 174.9 426.2 174.9 427.2 175.1 428.2 175.3 429.1 175.7 430.1 176.1 431.1 176.7 432.1 177.5 433.0 178.6 434.0 180.1 435.0 181.9 435.9 183.7 436.9 185.3 437.9 186.5 438.9 186.9 439.8 186.8 440.8 186.3 441.8 185.6 442.7 185.0 443.7 184.5 444.7 184.4 445.6 184.6 446.6 185.1 447.6 185.8 448.6 186.8 449.5 187.8 450.5 189.0 451.5 190.4 452.4 191.8 453.4 193.1 454.4 194.6 455.4 195.9 456.3 196.3 457.3 196.0 458.3 195.5 459.2 194.8 460.2 193.9 461.2 192.7 462.2 191.1 463.1 189.5 464.1 187.8 465.1 186.1 466.0 184.2 467.0 182.2 468.0 180.2 469.0 178.2 469.9 176.1 470.9 173.8 471.9 171.8 472.8 170.4 473.8 169.4 474.8 168.6 475.8 168.0 476.7 167.8 477.7 167.9 478.7 168.0 479.6 168.2 480.6 168.5 481.6 168.7 482.5 168.9 483.5 169.1 484.5 169.3 485.5 169.5 486.4 169.8 487.4 170.0 488.4 170.2 489.3 170.4 490.3 170.6 491.3 170.8 492.3 171.0 493.2 171.2 494.2 171.4 495.2 171.6 496.1 171.7 497.1 171.9 498.1 172.1 499.1 172.2 500.0 172.4 501.0 172.5 502.0 172.7 502.9 172.8 503.9 172.9 504.9 173.0 505.9 173.1 506.8 173.2 507.8 173.3 508.8 173.3 509.7 173.4 510.7 173.5 511.7 173.6 512.6 173.7 513.6 173.7 514.6 173.8 515.6 173.8 516.5 173.8 517.5 173.9 518.5 173.9 519.4 173.9 520.4 173.9 521.4 173.9 522.4 173.9 523.3 173.8 524.3 173.8 525.3 173.8 526.2 173.8 527.2 173.8 528.2 173.7 529.2 173.6 530.1 173.6 531.1 173.5 532.1 173.4 533.0 173.3 534.0 173.2 535.0 173.1 536.0 173.0 536.9 172.8 537.9 172.7 538.9 172.5 539.8 172.3 540.8 172.1 541.8 171.9 542.7 171.7 543.7 171.4 544.7 171.2 545.7 170.9 546.6 170.8 547.6 171.0 548.6 171.4 549.5 171.7 550.5 172.3 551.5 173.1 552.5 174.0 553.4 174.7 554.4 175.0 555.4 175.1 556.3 175.0 557.3 174.9 558.3 174.9 559.3 175.0 560.2 175.0 561.2 175.1 562.2 175.2 563.1 175.3 564.1 175.4 565.1 175.2 566.1 174.8 567.0 174.3 568.0 173.7 569.0 173.2 569.9 172.7 570.9 172.2 571.9 171.8 572.9 171.5 573.8 171.2 574.8 171.1 575.8 171.1 576.7 171.3 577.7 171.6 578.7 171.9 579.6 172.3 580.6 172.6 581.6 172.9 582.6 173.2 583.5 173.4 584.5 173.7 585.5 173.9 586.4 174.1 587.4 174.2 588.4 174.4 589.4 174.5 590.3 174.6 591.3 174.7 592.3 174.8 593.2 174.9 594.2 175.0 595.2 175.0 596.2 175.1 597.1 175.1 598.1 175.1 599.1 175.1 600.0 175.2 601.0 175.2 602.0 175.2 603.0 175.2 603.9 175.2 604.9 175.2 605.9 175.2 606.8 175.3 607.8 175.3 608.8 175.3 609.7 175.3 610.7 175.3 611.7 175.3 612.7 175.3 613.6 175.3 614.6 175.3 615.6 175.3 616.5 175.4 617.5 175.4 618.5 175.4 619.5 175.4 620.4 175.4 621.4 175.4 622.4 175.4 623.3 175.4 624.3 175.4 625.3 175.4 626.3 175.4 627.2 175.4 628.2 175.4 629.2 175.4 630.1 175.4" stroke="#b11440"/>
<path d="M407.8 178.0 408.8 178.0 409.7 178.0 410.7 178.0 411.7 178.0 412.6 178.0 413.6 178.0 414.6 178.0 415.5 178.0 416.5 178.0 417.5 178.0 418.5 178.0 419.4 178.0 420.4 178.0 421.4 178.0 422.3 178.0 423.3 178.0 424.3 178.0 425.3 178.0 426.2 178.0 427.2 178.2 428.2 178.5 429.1 178.9 430.1 179.4 431.1 180.2 432.1 181.2 433.0 182.6 434.0 184.4 435.0 186.6 435.9 188.9 436.9 190.9 437.9 192.3 438.9 192.9 439.8 192.8 440.8 192.1 441.8 191.2 442.7 190.4 443.7 189.9 444.7 189.7 445.6 190.0 446.6 190.6 447.6 191.5 448.6 192.7 449.5 193.9 450.5 195.4 451.5 197.1 452.4 198.9 453.4 200.5 454.4 202.3 455.4 204.0 456.3 204.5 457.3 204.2 458.3 203.5 459.2 202.7 460.2 201.5 461.2 200.0 462.2 198.1 463.1 196.0 464.1 194.0 465.1 191.8 466.0 189.5 467.0 187.0 468.0 184.5 469.0 182.1 469.9 179.4 470.9 176.6 471.9 174.1 472.8 172.3 473.8 171.1 474.8 170.1 475.8 169.4 476.7 169.1 477.7 169.2 478.7 169.4 479.6 169.7 480.6 169.9 481.6 170.2 482.5 170.5 483.5 170.7 484.5 171.0 485.5 171.3 486.4 171.6 487.4 171.8 488.4 172.1 489.3 172.4 490.3 172.6 491.3 172.9 492.3 173.1 493.2 173.3 494.2 173.6 495.2 173.8 496.1 174.0 497.1 174.2 498.1 174.4 499.1 174.6 500.0 174.8 501.0 175.0 502.0 175.1 502.9 175.3 503.9 175.4 504.9 175.5 505.9 175.7 506.8 175.8 507.8 175.9 508.8 176.0 509.7 176.1 510.7 176.2 511.7 176.3 512.6 176.4 513.6 176.4 514.6 176.5 515.6 176.6 516.5 176.6 517.5 176.6 518.5 176.6 519.4 176.6 520.4 176.6 521.4 176.6 522.4 176.6 523.3 176.6 524.3 176.6 525.3 176.5 526.2 176.5 527.2 176.5 528.2 176.4 529.2 176.3 530.1 176.2 531.1 176.1 532.1 176.0 533.0 175.9 534.0 175.7 535.0 175.6 536.0 175.5 536.9 175.3 537.9 175.2 538.9 175.0 539.8 174.7 540.8 174.5 541.8 174.2 542.7 173.9 543.7 173.6 544.7 173.3 545.7 173.1 546.6 173.0 547.6 173.3 548.6 173.8 549.5 174.4 550.5 175.1 551.5 176.1 552.5 177.1 553.4 177.9 554.4 178.2 555.4 178.1 556.3 177.8 557.3 177.3 558.3 177.0 559.3 176.8 560.2 176.5 561.2 176.1 562.2 175.8 563.1 175.7 564.1 175.4 565.1 175.0 566.1 174.4 567.0 173.8 568.0 173.3 569.0 173.0 569.9 172.7 570.9 172.5 571.9 172.4 572.9 172.4 573.8 172.4 574.8 172.5 575.8 172.7 576.7 173.1 577.7 173.6 578.7 174.1 579.6 174.5 580.6 174.9 581.6 175.3 582.6 175.7 583.5 176.0 584.5 176.3 585.5 176.6 586.4 176.8 587.4 177.0 588.4 177.2 589.4 177.3 590.3 177.5 591.3 177.6 592.3 177.7 593.2 177.8 594.2 177.9 595.2 178.0 596.2 178.1 597.1 178.1 598.1 178.1 599.1 178.1 600.0 178.1 601.0 178.2 602.0 178.2 603.0 178.2 603.9 178.2 604.9 178.2 605.9 178.3 606.8 178.3 607.8 178.3 608.8 178.3 609.7 178.3 610.7 178.3 611.7 178.3 612.7 178.3 613.6 178.4 614.6 178.4 615.6 178.4 616.5 178.4 617.5 178.4 618.5 178.4 619.5 178.4 620.4 178.4 621.4 178.4 622.4 178.4 623.3 178.4 624.3 178.4 625.3 178.5 626.3 178.5 627.2 178.5 628.2 178.5 629.2 178.5 630.1 178.5" stroke="#a51549"/>
<path d="M407.8 181.1 408.8 181.1 409.7 181.1 410.7 181.1 411.7 181.1 412.6 181.1 413.6 181.1 414.6 181.1 415.5 181.1 416.5 181.1 417.5 181.1 418.5 181.1 419.4 181.1 420.4 181.1 421.4 181.1 422.3 181.1 423.3 181.1 424.3 181.1 425.3 181.1 426.2 181.1 427.2 181.4 428.2 181.7 429.1 182.2 430.1 182.7 431.1 183.6 432.1 184.8 433.0 186.5 434.0 188.6 435.0 191.1 435.9 193.8 436.9 196.1 437.9 197.8 438.9 198.5 439.8 198.3 440.8 197.5 441.8 196.5 442.7 195.6 443.7 195.0 444.7 194.8 445.6 195.0 446.6 195.8 447.6 196.9 448.6 198.2 449.5 199.7 450.5 201.4 451.5 203.4 452.4 205.5 453.4 207.4 454.4 209.4 455.4 211.4 456.3 212.0 457.3 211.6 458.3 210.8 459.2 209.8 460.2 208.5 461.2 206.7 462.2 204.5 463.1 202.1 464.1 199.7 465.1 197.2 466.0 194.5 467.0 191.6 468.0 188.7 469.0 185.8 469.9 182.7 470.9 179.4 471.9 176.4 472.8 174.4 473.8 173.0 474.8 171.9 475.8 171.0 476.7 170.7 477.7 170.8 478.7 171.0 479.6 171.3 480.6 171.7 481.6 172.0 482.5 172.2 483.5 172.5 484.5 172.9 485.5 173.2 486.4 173.5 487.4 173.9 488.4 174.2 489.3 174.5 490.3 174.8 491.3 175.1 492.3 175.3 493.2 175.6 494.2 175.9 495.2 176.1 496.1 176.4 497.1 176.6 498.1 176.9 499.1 177.1 500.0 177.3 501.0 177.5 502.0 177.7 502.9 177.9 503.9 178.0 504.9 178.2 505.9 178.3 506.8 178.4 507.8 178.6 508.8 178.7 509.7 178.8 510.7 178.9 511.7 179.0 512.6 179.1 513.6 179.2 514.6 179.3 515.6 179.3 516.5 179.4 517.5 179.4 518.5 179.4 519.4 179.4 520.4 179.4 521.4 179.4 522.4 179.4 523.3 179.4 524.3 179.4 525.3 179.3 526.2 179.3 527.2 179.2 528.2 179.2 529.2 179.1 530.1 179.0 531.1 178.8 532.1 178.7 533.0 178.5 534.0 178.4 535.0 178.2 536.0 178.1 536.9 177.9 537.9 177.7 538.9 177.5 539.8 177.2 540.8 176.9 541.8 176.6 542.7 176.3 543.7 176.0 544.7 175.6 545.7 175.4 546.6 175.4 547.6 175.7 548.6 176.4 549.5 177.1 550.5 177.9 551.5 179.1 552.5 180.3 553.4 181.2 554.4 181.5 555.4 181.2 556.3 180.6 557.3 179.9 558.3 179.3 559.3 178.7 560.2 178.0 561.2 177.3 562.2 176.7 563.1 176.2 564.1 175.7 565.1 175.0 566.1 174.3 567.0 173.7 568.0 173.2 569.0 173.1 569.9 173.0 570.9 173.1 571.9 173.3 572.9 173.5 573.8 173.7 574.8 174.0 575.8 174.5 576.7 175.1 577.7 175.7 578.7 176.3 579.6 176.9 580.6 177.4 581.6 177.8 582.6 178.3 583.5 178.7 584.5 179.0 585.5 179.4 586.4 179.6 587.4 179.8 588.4 180.0 589.4 180.2 590.3 180.4 591.3 180.5 592.3 180.6 593.2 180.8 594.2 180.9 595.2 181.0 596.2 181.0 597.1 181.1 598.1 181.1 599.1 181.1 600.0 181.1 601.0 181.2 602.0 181.2 603.0 181.2 603.9 181.2 604.9 181.2 605.9 181.3 606.8 181.3 607.8 181.3 608.8 181.3 609.7 181.3 610.7 181.3 611.7 181.3 612.7 181.4 613.6 181.4 614.6 181.4 615.6 181.4 616.5 181.4 617.5 181.4 618.5 181.4 619.5 181.4 620.4 181.4 621.4 181.5 622.4 181.5 623.3 181.5 624.3 181.5 625.3 181.5 626.3 181.5 627.2 181.5 628.2 181.5 629.2 181.5 630.1 181.5" stroke="#981554"/>
<path d="M407.8 184.2 408.8 184.2 409.7 184.2 410.7 184.2 411.7 184.2 412.6 184.2 413.6 184.2 414.6 184.2 415.5 184.2 416.5 184.2 417.5 184.2 418.5 184.2 419.4 184.2 420.4 184.2 421.4 184.2 422.3 184.2 423.3 184.2 424.3 184.2 425.3 184.2 426.2 184.2 427.2 184.5 428.2 184.9 429.1 185.4 430.1 186.0 431.1 187.0 432.1 188.4 433.0 190.3 434.0 192.7 435.0 195.6 435.9 198.6 436.9 201.2 437.9 203.1 438.9 203.9 439.8 203.7 440.8 202.8 441.8 201.7 442.7 200.6 443.7 199.9 444.7 199.7 445.6 200.0 446.6 200.8 447.6 202.1 448.6 203.6 449.5 205.2 450.5 207.2 451.5 209.5 452.4 211.8 453.4 214.0 454.4 216.4 455.4 218.5 456.3 219.2 457.3 218.8 458.3 217.9 459.2 216.8 460.2 215.3 461.2 213.2 462.2 210.7 463.1 208.0 464.1 205.3 465.1 202.4 466.0 199.3 467.0 196.1 468.0 192.8 469.0 189.5 469.9 186.0 470.9 182.2 471.9 178.9 472.8 176.6 473.8 175.0 474.8 173.7 475.8 172.7 476.7 172.4 477.7 172.5 478.7 172.7 479.6 173.1 480.6 173.4 481.6 173.8 482.5 174.1 483.5 174.5 484.5 174.8 485.5 175.2 486.4 175.6 487.4 175.9 488.4 176.3 489.3 176.7 490.3 177.0 491.3 177.3 492.3 177.6 493.2 177.9 494.2 178.2 495.2 178.5 496.1 178.8 497.1 179.1 498.1 179.3 499.1 179.6 500.0 179.8 501.0 180.1 502.0 180.3 502.9 180.5 503.9 180.7 504.9 180.8 505.9 181.0 506.8 181.1 507.8 181.3 508.8 181.4 509.7 181.5 510.7 181.7 511.7 181.8 512.6 181.9 513.6 182.0 514.6 182.1 515.6 182.2 516.5 182.2 517.5 182.2 518.5 182.2 519.4 182.2 520.4 182.2 521.4 182.2 522.4 182.2 523.3 182.2 524.3 182.2 525.3 182.1 526.2 182.1 527.2 182.0 528.2 181.9 529.2 181.8 530.1 181.7 531.1 181.5 532.1 181.4 533.0 181.2 534.0 181.0 535.0 180.9 536.0 180.7 536.9 180.5 537.9 180.3 538.9 180.0 539.8 179.7 540.8 179.3 541.8 179.0 542.7 178.7 543.7 178.3 544.7 178.0 545.7 177.7 546.6 177.7 547.6 178.2 548.6 179.0 549.5 179.8 550.5 180.8 551.5 182.2 552.5 183.5 553.4 184.4 554.4 184.7 555.4 184.2 556.3 183.4 557.3 182.4 558.3 181.6 559.3 180.7 560.2 179.6 561.2 178.6 562.2 177.6 563.1 176.8 564.1 176.0 565.1 175.1 566.1 174.3 567.0 173.6 568.0 173.2 569.0 173.2 569.9 173.4 570.9 173.7 571.9 174.2 572.9 174.7 573.8 175.1 574.8 175.7 575.8 176.3 576.7 177.1 577.7 177.8 578.7 178.6 579.6 179.3 580.6 179.9 581.6 180.4 582.6 180.9 583.5 181.3 584.5 181.7 585.5 182.1 586.4 182.4 587.4 182.7 588.4 182.9 589.4 183.1 590.3 183.2 591.3 183.4 592.3 183.6 593.2 183.7 594.2 183.8 595.2 183.9 596.2 184.0 597.1 184.1 598.1 184.1 599.1 184.1 600.0 184.1 601.0 184.2 602.0 184.2 603.0 184.2 603.9 184.2 604.9 184.3 605.9 184.3 606.8 184.3 607.8 184.3 608.8 184.3 609.7 184.3 610.7 184.4 611.7 184.4 612.7 184.4 613.6 184.4 614.6 184.4 615.6 184.4 616.5 184.4 617.5 184.4 618.5 184.4 619.5 184.5 620.4 184.5 621.4 184.5 622.4 184.5 623.3 184.5 624.3 184.5 625.3 184.5 626.3 184.5 627.2 184.5 628.2 184.5 629.2 184.5 630.1 184.5" stroke="#8b165e"/>
<path d="M407.8 187.3 408.8 187.3 409.7 187.3 410.7 187.3 411.7 187.3 412.6 187.3 413.6 187.3 414.6 187.3 415.5 187.3 416.5 187.3 417.5 187.3 418.5 187.3 419.4 187.3 420.4 187.3 421.4 187.3 422.3 187.3 423.3 187.3 424.3 187.3 425.3 187.3 426.2 187.3 427.2 187.6 428.2 188.1 429.1 188.6 430.1 189.3 431.1 190.4 432.1 192.0 433.0 194.0 434.0 196.7 435.0 199.9 435.9 203.3 436.9 206.2 437.9 208.3 438.9 209.2 439.8 209.0 440.8 208.0 441.8 206.7 442.7 205.6 443.7 204.8 444.7 204.5 445.6 204.8 446.6 205.8 447.6 207.2 448.6 208.8 449.5 210.7 450.5 212.9 451.5 215.4 452.4 218.0 453.4 220.4 454.4 223.0 455.4 225.5 456.3 226.2 457.3 225.7 458.3 224.7 459.2 223.5 460.2 221.9 461.2 219.5 462.2 216.8 463.1 213.7 464.1 210.7 465.1 207.5 466.0 204.1 467.0 200.5 468.0 196.8 469.0 193.2 469.9 189.3 470.9 185.1 471.9 181.4 472.8 178.8 473.8 177.1 474.8 175.6 475.8 174.5 476.7 174.1 477.7 174.2 478.7 174.5 479.6 174.9 480.6 175.3 481.6 175.7 482.5 176.0 483.5 176.4 484.5 176.8 485.5 177.2 486.4 177.7 487.4 178.1 488.4 178.5 489.3 178.9 490.3 179.2 491.3 179.6 492.3 179.9 493.2 180.2 494.2 180.6 495.2 180.9 496.1 181.2 497.1 181.5 498.1 181.8 499.1 182.1 500.0 182.4 501.0 182.7 502.0 182.9 502.9 183.1 503.9 183.3 504.9 183.5 505.9 183.7 506.8 183.8 507.8 184.0 508.8 184.1 509.7 184.3 510.7 184.4 511.7 184.6 512.6 184.7 513.6 184.8 514.6 184.9 515.6 185.0 516.5 185.0 517.5 185.1 518.5 185.1 519.4 185.1 520.4 185.1 521.4 185.0 522.4 185.0 523.3 185.0 524.3 185.0 525.3 184.9 526.2 184.9 527.2 184.8 528.2 184.7 529.2 184.6 530.1 184.5 531.1 184.3 532.1 184.1 533.0 183.9 534.0 183.7 535.0 183.5 536.0 183.3 536.9 183.1 537.9 182.9 538.9 182.6 539.8 182.2 540.8 181.8 541.8 181.5 542.7 181.1 543.7 180.7 544.7 180.3 545.7 180.1 546.6 180.1 547.6 180.7 548.6 181.6 549.5 182.5 550.5 183.7 551.5 185.2 552.5 186.7 553.4 187.7 554.4 187.9 555.4 187.3 556.3 186.3 557.3 185.0 558.3 183.9 559.3 182.7 560.2 181.3 561.2 179.9 562.2 178.5 563.1 177.4 564.1 176.4 565.1 175.4 566.1 174.4 567.0 173.6 568.0 173.3 569.0 173.5 569.9 173.9 570.9 174.5 571.9 175.2 572.9 175.9 573.8 176.6 574.8 177.4 575.8 178.2 576.7 179.1 577.7 180.0 578.7 180.9 579.6 181.7 580.6 182.4 581.6 183.0 582.6 183.5 583.5 184.0 584.5 184.5 585.5 184.9 586.4 185.2 587.4 185.5 588.4 185.7 589.4 185.9 590.3 186.2 591.3 186.3 592.3 186.5 593.2 186.7 594.2 186.8 595.2 186.9 596.2 187.0 597.1 187.1 598.1 187.1 599.1 187.1 600.0 187.1 601.0 187.2 602.0 187.2 603.0 187.2 603.9 187.2 604.9 187.3 605.9 187.3 606.8 187.3 607.8 187.3 608.8 187.3 609.7 187.4 610.7 187.4 611.7 187.4 612.7 187.4 613.6 187.4 614.6 187.4 615.6 187.4 616.5 187.5 617.5 187.5 618.5 187.5 619.5 187.5 620.4 187.5 621.4 187.5 622.4 187.5 623.3 187.5 624.3 187.5 625.3 187.5 626.3 187.5 627.2 187.6 628.2 187.6 629.2 187.6 630.1 187.6" stroke="#7d1769"/>
<path d="M407.8 190.4 408.8 190.4 409.7 190.4 410.7 190.4 411.7 190.4 412.6 190.4 413.6 190.4 414.6 190.4 415.5 190.4 416.5 190.4 417.5 190.4 418.5 190.4 419.4 190.4 420.4 190.4 421.4 190.4 422.3 190.4 423.3 190.4 424.3 190.4 425.3 190.4 426.2 190.4 427.2 190.7 428.2 191.2 429.1 191.8 430.1 192.6 431.1 193.8 432.1 195.5 433.0 197.8 434.0 200.7 435.0 204.2 435.9 207.9 436.9 211.1 437.9 213.4 438.9 214.3 439.8 214.1 440.8 213.0 441.8 211.6 442.7 210.4 443.7 209.5 444.7 209.2 445.6 209.6 446.6 210.6 447.6 212.1 448.6 213.9 449.5 216.0 450.5 218.4 451.5 221.1 452.4 224.0 453.4 226.6 454.4 229.5 455.4 232.1 456.3 233.0 457.3 232.5 458.3 231.4 459.2 230.0 460.2 228.2 461.2 225.7 462.2 222.6 463.1 219.3 464.1 216.0 465.1 212.5 466.0 208.8 467.0 204.8 468.0 200.8 469.0 196.8 469.9 192.5 470.9 187.9 471.9 183.9 472.8 181.0 473.8 179.2 474.8 177.5 475.8 176.4 476.7 175.9 477.7 176.1 478.7 176.4 479.6 176.8 480.6 177.2 481.6 177.6 482.5 178.0 483.5 178.5 484.5 178.9 485.5 179.3 486.4 179.8 487.4 180.3 488.4 180.7 489.3 181.1 490.3 181.5 491.3 181.9 492.3 182.3 493.2 182.6 494.2 183.0 495.2 183.4 496.1 183.7 497.1 184.1 498.1 184.4 499.1 184.7 500.0 185.0 501.0 185.3 502.0 185.6 502.9 185.8 503.9 186.0 504.9 186.2 505.9 186.4 506.8 186.5 507.8 186.7 508.8 186.9 509.7 187.1 510.7 187.2 511.7 187.4 512.6 187.5 513.6 187.6 514.6 187.7 515.6 187.8 516.5 187.9 517.5 187.9 518.5 187.9 519.4 187.9 520.4 187.9 521.4 187.9 522.4 187.9 523.3 187.8 524.3 187.8 525.3 187.8 526.2 187.7 527.2 187.6 528.2 187.5 529.2 187.4 530.1 187.2 531.1 187.0 532.1 186.8 533.0 186.6 534.0 186.4 535.0 186.2 536.0 186.0 536.9 185.8 537.9 185.5 538.9 185.2 539.8 184.8 540.8 184.4 541.8 184.0 542.7 183.6 543.7 183.2 544.7 182.8 545.7 182.5 546.6 182.6 547.6 183.2 548.6 184.2 549.5 185.3 550.5 186.6 551.5 188.2 552.5 189.8 553.4 190.9 554.4 191.0 555.4 190.3 556.3 189.1 557.3 187.7 558.3 186.3 559.3 184.9 560.2 183.2 561.2 181.5 562.2 179.9 563.1 178.6 564.1 177.4 565.1 176.1 566.1 175.0 567.0 174.3 568.0 174.0 569.0 174.2 569.9 174.8 570.9 175.6 571.9 176.5 572.9 177.5 573.8 178.3 574.8 179.2 575.8 180.2 576.7 181.3 577.7 182.3 578.7 183.3 579.6 184.2 580.6 184.9 581.6 185.6 582.6 186.2 583.5 186.7 584.5 187.2 585.5 187.7 586.4 188.1 587.4 188.4 588.4 188.6 589.4 188.8 590.3 189.1 591.3 189.3 592.3 189.5 593.2 189.6 594.2 189.8 595.2 189.9 596.2 190.0 597.1 190.1 598.1 190.1 599.1 190.1 600.0 190.1 601.0 190.2 602.0 190.2 603.0 190.2 603.9 190.3 604.9 190.3 605.9 190.3 606.8 190.3 607.8 190.3 608.8 190.4 609.7 190.4 610.7 190.4 611.7 190.4 612.7 190.4 613.6 190.4 614.6 190.4 615.6 190.5 616.5 190.5 617.5 190.5 618.5 190.5 619.5 190.5 620.4 190.5 621.4 190.5 622.4 190.5 623.3 190.6 624.3 190.6 625.3 190.6 626.3 190.6 627.2 190.6 628.2 190.6 629.2 190.6 630.1 190.6" stroke="#6f1774"/>
<path d="M407.8 193.4 408.8 193.4 409.7 193.4 410.7 193.4 411.7 193.4 412.6 193.4 413.6 193.4 414.6 193.5 415.5 193.5 416.5 193.5 417.5 193.5 418.5 193.5 419.4 193.5 420.4 193.5 421.4 193.5 422.3 193.5 423.3 193.5 424.3 193.5 425.3 193.5 426.2 193.5 427.2 193.8 428.2 194.4 429.1 195.0 430.1 195.9 431.1 197.1 432.1 198.9 433.0 201.3 434.0 204.3 435.0 208.0 435.9 211.8 436.9 215.2 437.9 217.6 438.9 218.6 439.8 218.4 440.8 217.4 441.8 216.0 442.7 214.8 443.7 214.0 444.7 213.7 445.6 214.2 446.6 215.3 447.6 216.9 448.6 218.9 449.5 221.1 450.5 223.7 451.5 226.7 452.4 229.8 453.4 232.6 454.4 235.7 455.4 238.6 456.3 239.5 457.3 238.9 458.3 237.8 459.2 236.3 460.2 234.4 461.2 231.6 462.2 228.3 463.1 224.7 464.1 221.1 465.1 217.4 466.0 213.3 467.0 209.0 468.0 204.7 469.0 200.4 469.9 195.8 470.9 190.8 471.9 186.4 472.8 183.4 473.8 181.3 474.8 179.6 475.8 178.3 476.7 177.8 477.7 178.0 478.7 178.3 479.6 178.7 480.6 179.2 481.6 179.7 482.5 180.1 483.5 180.6 484.5 181.0 485.5 181.5 486.4 182.0 487.4 182.5 488.4 183.0 489.3 183.5 490.3 183.9 491.3 184.3 492.3 184.7 493.2 185.1 494.2 185.5 495.2 185.9 496.1 186.2 497.1 186.6 498.1 187.0 499.1 187.3 500.0 187.6 501.0 187.9 502.0 188.2 502.9 188.5 503.9 188.7 504.9 188.9 505.9 189.1 506.8 189.3 507.8 189.5 508.8 189.7 509.7 189.8 510.7 190.0 511.7 190.2 512.6 190.3 513.6 190.4 514.6 190.6 515.6 190.6 516.5 190.7 517.5 190.8 518.5 190.8 519.4 190.8 520.4 190.8 521.4 190.7 522.4 190.7 523.3 190.7 524.3 190.6 525.3 190.6 526.2 190.5 527.2 190.5 528.2 190.4 529.2 190.2 530.1 190.0 531.1 189.8 532.1 189.6 533.0 189.4 534.0 189.1 535.0 188.9 536.0 188.7 536.9 188.4 537.9 188.2 538.9 187.8 539.8 187.4 540.8 186.9 541.8 186.5 542.7 186.1 543.7 185.6 544.7 185.2 545.7 184.9 546.6 185.0 547.6 185.7 548.6 186.8 549.5 188.0 550.5 189.4 551.5 191.2 552.5 192.9 553.4 194.0 554.4 194.2 555.4 193.4 556.3 192.0 557.3 190.4 558.3 188.9 559.3 187.3 560.2 185.4 561.2 183.5 562.2 181.7 563.1 180.2 564.1 178.9 565.1 177.5 566.1 176.3 567.0 175.5 568.0 175.2 569.0 175.5 569.9 176.2 570.9 177.1 571.9 178.2 572.9 179.2 573.8 180.2 574.8 181.2 575.8 182.4 576.7 183.5 577.7 184.7 578.7 185.7 579.6 186.7 580.6 187.5 581.6 188.2 582.6 188.9 583.5 189.5 584.5 190.0 585.5 190.5 586.4 190.9 587.4 191.2 588.4 191.5 589.4 191.7 590.3 192.0 591.3 192.2 592.3 192.4 593.2 192.6 594.2 192.8 595.2 192.9 596.2 193.0 597.1 193.0 598.1 193.1 599.1 193.1 600.0 193.2 601.0 193.2 602.0 193.2 603.0 193.2 603.9 193.3 604.9 193.3 605.9 193.3 606.8 193.3 607.8 193.4 608.8 193.4 609.7 193.4 610.7 193.4 611.7 193.4 612.7 193.4 613.6 193.5 614.6 193.5 615.6 193.5 616.5 193.5 617.5 193.5 618.5 193.5 619.5 193.5 620.4 193.6 621.4 193.6 622.4 193.6 623.3 193.6 624.3 193.6 625.3 193.6 626.3 193.6 627.2 193.6 628.2 193.6 629.2 193.6 630.1 193.6" stroke="#601880"/>
<path d="M407.8 196.5 408.8 196.5 409.7 196.5 410.7 196.5 411.7 196.5 412.6 196.5 413.6 196.5 414.6 196.5 415.5 196.5 416.5 196.5 417.5 196.5 418.5 196.5 419.4 196.5 420.4 196.5 421.4 196.5 422.3 196.5 423.3 196.5 424.3 196.5 425.3 196.6 426.2 196.6 427.2 196.9 428.2 197.5 429.1 198.2 430.1 199.1 431.1 200.4 432.1 202.3 433.0 204.7 434.0 207.8 435.0 211.6 435.9 215.5 436.9 219.0 437.9 221.4 438.9 222.5 439.8 222.4 440.8 221.5 441.8 220.2 442.7 219.0 443.7 218.2 444.7 218.1 445.6 218.6 446.6 219.9 447.6 221.7 448.6 223.8 449.5 226.1 450.5 228.9 451.5 232.1 452.4 235.4 453.4 238.4 454.4 241.8 455.4 244.8 456.3 245.8 457.3 245.2 458.3 243.9 459.2 242.4 460.2 240.3 461.2 237.3 462.2 233.8 463.1 230.0 464.1 226.1 465.1 222.1 466.0 217.8 467.0 213.2 468.0 208.5 469.0 204.0 469.9 199.0 470.9 193.7 471.9 189.0 472.8 185.7 473.8 183.6 474.8 181.7 475.8 180.3 476.7 179.8 477.7 180.0 478.7 180.3 479.6 180.8 480.6 181.3 481.6 181.8 482.5 182.3 483.5 182.7 484.5 183.2 485.5 183.8 486.4 184.3 487.4 184.8 488.4 185.3 489.3 185.8 490.3 186.3 491.3 186.7 492.3 187.1 493.2 187.6 494.2 188.0 495.2 188.4 496.1 188.8 497.1 189.2 498.1 189.6 499.1 189.9 500.0 190.3 501.0 190.6 502.0 190.9 502.9 191.2 503.9 191.4 504.9 191.7 505.9 191.9 506.8 192.1 507.8 192.3 508.8 192.5 509.7 192.7 510.7 192.8 511.7 193.0 512.6 193.2 513.6 193.3 514.6 193.4 515.6 193.5 516.5 193.6 517.5 193.6 518.5 193.6 519.4 193.6 520.4 193.6 521.4 193.6 522.4 193.6 523.3 193.5 524.3 193.5 525.3 193.5 526.2 193.4 527.2 193.3 528.2 193.2 529.2 193.0 530.1 192.8 531.1 192.6 532.1 192.4 533.0 192.1 534.0 191.9 535.0 191.7 536.0 191.4 536.9 191.1 537.9 190.8 538.9 190.4 539.8 190.0 540.8 189.5 541.8 189.1 542.7 188.6 543.7 188.1 544.7 187.7 545.7 187.4 546.6 187.5 547.6 188.2 548.6 189.4 549.5 190.6 550.5 192.1 551.5 194.1 552.5 195.9 553.4 197.1 554.4 197.3 555.4 196.4 556.3 195.0 557.3 193.3 558.3 191.6 559.3 189.9 560.2 187.9 561.2 185.8 562.2 183.9 563.1 182.3 564.1 180.9 565.1 179.4 566.1 178.1 567.0 177.3 568.0 177.0 569.0 177.3 569.9 178.0 570.9 179.0 571.9 180.1 572.9 181.3 573.8 182.4 574.8 183.4 575.8 184.6 576.7 185.9 577.7 187.1 578.7 188.2 579.6 189.3 580.6 190.1 581.6 190.9 582.6 191.6 583.5 192.2 584.5 192.8 585.5 193.3 586.4 193.8 587.4 194.1 588.4 194.4 589.4 194.7 590.3 194.9 591.3 195.2 592.3 195.4 593.2 195.6 594.2 195.8 595.2 195.9 596.2 196.0 597.1 196.1 598.1 196.1 599.1 196.1 600.0 196.2 601.0 196.2 602.0 196.2 603.0 196.3 603.9 196.3 604.9 196.3 605.9 196.3 606.8 196.4 607.8 196.4 608.8 196.4 609.7 196.4 610.7 196.4 611.7 196.5 612.7 196.5 613.6 196.5 614.6 196.5 615.6 196.5 616.5 196.5 617.5 196.5 618.5 196.6 619.5 196.6 620.4 196.6 621.4 196.6 622.4 196.6 623.3 196.6 624.3 196.6 625.3 196.6 626.3 196.6 627.2 196.6 628.2 196.7 629.2 196.7 630.1 196.7" stroke="#56198b"/>
<path d="M407.8 199.6 408.8 199.6 409.7 199.6 410.7 199.6 411.7 199.6 412.6 199.6 413.6 199.6 414.6 199.6 415.5 199.6 416.5 199.6 417.5 199.6 418.5 199.6 419.4 199.6 420.4 199.6 421.4 199.6 422.3 199.6 423.3 199.6 424.3 199.6 425.3 199.6 426.2 199.7 427.2 200.1 428.2 200.7 429.1 201.4 430.1 202.3 431.1 203.7 432.1 205.6 433.0 208.1 434.0 211.3 435.0 215.1 435.9 219.1 436.9 222.6 437.9 225.1 438.9 226.3 439.8 226.3 440.8 225.4 441.8 224.2 442.7 223.1 443.7 222.4 444.7 222.4 445.6 223.0 446.6 224.4 447.6 226.2 448.6 228.5 449.5 231.0 450.5 234.0 451.5 237.3 452.4 240.8 453.4 244.0 454.4 247.6 455.4 250.8 456.3 251.9 457.3 251.2 458.3 249.8 459.2 248.2 460.2 246.0 461.2 242.9 462.2 239.1 463.1 235.1 464.1 231.0 465.1 226.8 466.0 222.1 467.0 217.3 468.0 212.3 469.0 207.5 469.9 202.2 470.9 196.6 471.9 191.6 472.8 188.2 473.8 185.9 474.8 183.8 475.8 182.4 476.7 181.9 477.7 182.0 478.7 182.4 479.6 182.9 480.6 183.5 481.6 184.0 482.5 184.5 483.5 185.0 484.5 185.5 485.5 186.1 486.4 186.6 487.4 187.2 488.4 187.7 489.3 188.3 490.3 188.7 491.3 189.2 492.3 189.7 493.2 190.1 494.2 190.5 495.2 191.0 496.1 191.4 497.1 191.8 498.1 192.2 499.1 192.6 500.0 193.0 501.0 193.3 502.0 193.6 502.9 193.9 503.9 194.2 504.9 194.4 505.9 194.7 506.8 194.9 507.8 195.1 508.8 195.3 509.7 195.5 510.7 195.7 511.7 195.9 512.6 196.0 513.6 196.2 514.6 196.3 515.6 196.4 516.5 196.5 517.5 196.5 518.5 196.5 519.4 196.5 520.4 196.5 521.4 196.5 522.4 196.5 523.3 196.4 524.3 196.4 525.3 196.3 526.2 196.3 527.2 196.2 528.2 196.1 529.2 195.9 530.1 195.7 531.1 195.4 532.1 195.2 533.0 194.9 534.0 194.7 535.0 194.4 536.0 194.2 536.9 193.9 537.9 193.6 538.9 193.2 539.8 192.7 540.8 192.2 541.8 191.8 542.7 191.3 543.7 190.8 544.7 190.4 545.7 190.1 546.6 190.2 547.6 190.9 548.6 192.1 549.5 193.4 550.5 194.9 551.5 196.9 552.5 198.7 553.4 200.0 554.4 200.1 555.4 199.3 556.3 197.8 557.3 196.1 558.3 194.4 559.3 192.7 560.2 190.6 561.2 188.6 562.2 186.6 563.1 185.0 564.1 183.6 565.1 182.1 566.1 180.8 567.0 179.9 568.0 179.6 569.0 179.9 569.9 180.7 570.9 181.7 571.9 182.8 572.9 184.0 573.8 185.1 574.8 186.2 575.8 187.4 576.7 188.6 577.7 189.9 578.7 191.1 579.6 192.1 580.6 193.0 581.6 193.7 582.6 194.5 583.5 195.1 584.5 195.7 585.5 196.3 586.4 196.7 587.4 197.1 588.4 197.3 589.4 197.6 590.3 197.9 591.3 198.1 592.3 198.4 593.2 198.6 594.2 198.7 595.2 198.9 596.2 199.0 597.1 199.1 598.1 199.1 599.1 199.1 600.0 199.2 601.0 199.2 602.0 199.2 603.0 199.3 603.9 199.3 604.9 199.3 605.9 199.4 606.8 199.4 607.8 199.4 608.8 199.4 609.7 199.4 610.7 199.5 611.7 199.5 612.7 199.5 613.6 199.5 614.6 199.5 615.6 199.5 616.5 199.6 617.5 199.6 618.5 199.6 619.5 199.6 620.4 199.6 621.4 199.6 622.4 199.6 623.3 199.6 624.3 199.7 625.3 199.7 626.3 199.7 627.2 199.7 628.2 199.7 629.2 199.7 630.1 199.7" stroke="#4f1994"/>
<path d="M407.8 202.7 408.8 202.7 409.7 202.7 410.7 202.7 411.7 202.7 412.6 202.7 413.6 202.7 414.6 202.7 415.5 202.7 416.5 202.7 417.5 202.7 418.5 202.7 419.4 202.7 420.4 202.7 421.4 202.7 422.3 202.7 423.3 202.7 424.3 202.7 425.3 202.7 426.2 202.8 427.2 203.2 428.2 203.8 429.1 204.5 430.1 205.5 431.1 206.9 432.1 208.9 433.0 211.4 434.0 214.7 435.0 218.6 435.9 222.6 436.9 226.3 437.9 228.8 438.9 230.1 439.8 230.1 440.8 229.3 441.8 228.2 442.7 227.2 443.7 226.6 444.7 226.5 445.6 227.3 446.6 228.7 447.6 230.7 448.6 233.1 449.5 235.7 450.5 238.8 451.5 242.4 452.4 246.0 453.4 249.4 454.4 253.1 455.4 256.6 456.3 257.7 457.3 257.0 458.3 255.5 459.2 253.8 460.2 251.5 461.2 248.2 462.2 244.3 463.1 240.0 464.1 235.7 465.1 231.3 466.0 226.4 467.0 221.3 468.0 216.1 469.0 211.0 469.9 205.4 470.9 199.5 471.9 194.3 472.8 190.6 473.8 188.2 474.8 186.1 475.8 184.6 476.7 184.0 477.7 184.2 478.7 184.6 479.6 185.1 480.6 185.7 481.6 186.2 482.5 186.7 483.5 187.3 484.5 187.8 485.5 188.4 486.4 189.0 487.4 189.6 488.4 190.2 489.3 190.7 490.3 191.3 491.3 191.7 492.3 192.2 493.2 192.7 494.2 193.1 495.2 193.6 496.1 194.0 497.1 194.5 498.1 194.9 499.1 195.3 500.0 195.7 501.0 196.1 502.0 196.4 502.9 196.7 503.9 197.0 504.9 197.2 505.9 197.5 506.8 197.7 507.8 197.9 508.8 198.1 509.7 198.3 510.7 198.5 511.7 198.7 512.6 198.9 513.6 199.0 514.6 199.2 515.6 199.3 516.5 199.4 517.5 199.4 518.5 199.4 519.4 199.4 520.4 199.4 521.4 199.4 522.4 199.3 523.3 199.3 524.3 199.3 525.3 199.2 526.2 199.2 527.2 199.1 528.2 198.9 529.2 198.7 530.1 198.5 531.1 198.3 532.1 198.0 533.0 197.7 534.0 197.5 535.0 197.2 536.0 197.0 536.9 196.7 537.9 196.4 538.9 196.0 539.8 195.5 540.8 195.0 541.8 194.6 542.7 194.1 543.7 193.6 544.7 193.2 545.7 192.9 546.6 192.9 547.6 193.7 548.6 194.9 549.5 196.1 550.5 197.7 551.5 199.7 552.5 201.5 553.4 202.8 554.4 202.9 555.4 202.1 556.3 200.6 557.3 198.9 558.3 197.2 559.3 195.5 560.2 193.5 561.2 191.4 562.2 189.5 563.1 187.9 564.1 186.4 565.1 184.9 566.1 183.6 567.0 182.8 568.0 182.5 569.0 182.8 569.9 183.6 570.9 184.6 571.9 185.7 572.9 186.9 573.8 188.0 574.8 189.1 575.8 190.3 576.7 191.6 577.7 192.8 578.7 194.0 579.6 195.1 580.6 196.0 581.6 196.7 582.6 197.4 583.5 198.1 584.5 198.7 585.5 199.2 586.4 199.7 587.4 200.0 588.4 200.3 589.4 200.6 590.3 200.9 591.3 201.1 592.3 201.4 593.2 201.6 594.2 201.7 595.2 201.9 596.2 202.0 597.1 202.1 598.1 202.1 599.1 202.1 600.0 202.2 601.0 202.2 602.0 202.3 603.0 202.3 603.9 202.3 604.9 202.3 605.9 202.4 606.8 202.4 607.8 202.4 608.8 202.4 609.7 202.5 610.7 202.5 611.7 202.5 612.7 202.5 613.6 202.5 614.6 202.5 615.6 202.6 616.5 202.6 617.5 202.6 618.5 202.6 619.5 202.6 620.4 202.6 621.4 202.7 622.4 202.7 623.3 202.7 624.3 202.7 625.3 202.7 626.3 202.7 627.2 202.7 628.2 202.7 629.2 202.7 630.1 202.7" stroke="#49199c"/>
<path d="M407.8 205.8 408.8 205.8 409.7 205.8 410.7 205.8 411.7 205.8 412.6 205.8 413.6 205.8 414.6 205.8 415.5 205.8 416.5 205.8 417.5 205.8 418.5 205.8 419.4 205.8 420.4 205.8 421.4 205.8 422.3 205.8 423.3 205.8 424.3 205.8 425.3 205.8 426.2 205.9 427.2 206.3 428.2 206.9 429.1 207.7 430.1 208.7 431.1 210.2 432.1 212.2 433.0 214.8 434.0 218.1 435.0 222.0 435.9 226.2 436.9 229.8 437.9 232.5 438.9 233.8 439.8 233.9 440.8 233.1 441.8 232.1 442.7 231.1 443.7 230.6 444.7 230.6 445.6 231.4 446.6 232.9 447.6 235.0 448.6 237.5 449.5 240.3 450.5 243.5 451.5 247.3 452.4 251.1 453.4 254.6 454.4 258.5 455.4 262.1 456.3 263.2 457.3 262.5 458.3 261.0 459.2 259.2 460.2 256.8 461.2 253.3 462.2 249.2 463.1 244.7 464.1 240.3 465.1 235.6 466.0 230.5 467.0 225.2 468.0 219.8 469.0 214.4 469.9 208.6 470.9 202.5 471.9 197.0 472.8 193.2 473.8 190.6 474.8 188.4 475.8 186.9 476.7 186.3 477.7 186.4 478.7 186.8 479.6 187.4 480.6 188.0 481.6 188.6 482.5 189.1 483.5 189.7 484.5 190.2 485.5 190.9 486.4 191.5 487.4 192.1 488.4 192.7 489.3 193.3 490.3 193.8 491.3 194.3 492.3 194.8 493.2 195.3 494.2 195.8 495.2 196.2 496.1 196.7 497.1 197.2 498.1 197.6 499.1 198.0 500.0 198.4 501.0 198.8 502.0 199.2 502.9 199.5 503.9 199.8 504.9 200.0 505.9 200.3 506.8 200.5 507.8 200.8 508.8 201.0 509.7 201.2 510.7 201.4 511.7 201.6 512.6 201.8 513.6 201.9 514.6 202.1 515.6 202.2 516.5 202.3 517.5 202.3 518.5 202.3 519.4 202.3 520.4 202.3 521.4 202.3 522.4 202.3 523.3 202.2 524.3 202.2 525.3 202.1 526.2 202.1 527.2 202.0 528.2 201.8 529.2 201.6 530.1 201.4 531.1 201.1 532.1 200.9 533.0 200.6 534.0 200.3 535.0 200.1 536.0 199.8 536.9 199.5 537.9 199.2 538.9 198.8 539.8 198.3 540.8 197.8 541.8 197.4 542.7 196.9 543.7 196.4 544.7 196.0 545.7 195.7 546.6 195.7 547.6 196.5 548.6 197.7 549.5 199.0 550.5 200.5 551.5 202.5 552.5 204.3 553.4 205.6 554.4 205.8 555.4 204.9 556.3 203.5 557.3 201.8 558.3 200.1 559.3 198.3 560.2 196.4 561.2 194.3 562.2 192.4 563.1 190.8 564.1 189.3 565.1 187.8 566.1 186.5 567.0 185.7 568.0 185.4 569.0 185.7 569.9 186.5 570.9 187.5 571.9 188.6 572.9 189.8 573.8 190.9 574.8 192.0 575.8 193.2 576.7 194.5 577.7 195.8 578.7 197.0 579.6 198.0 580.6 198.9 581.6 199.7 582.6 200.4 583.5 201.1 584.5 201.7 585.5 202.2 586.4 202.7 587.4 203.0 588.4 203.3 589.4 203.6 590.3 203.9 591.3 204.1 592.3 204.4 593.2 204.6 594.2 204.7 595.2 204.9 596.2 205.0 597.1 205.1 598.1 205.1 599.1 205.2 600.0 205.2 601.0 205.2 602.0 205.3 603.0 205.3 603.9 205.3 604.9 205.4 605.9 205.4 606.8 205.4 607.8 205.4 608.8 205.5 609.7 205.5 610.7 205.5 611.7 205.5 612.7 205.5 613.6 205.6 614.6 205.6 615.6 205.6 616.5 205.6 617.5 205.6 618.5 205.6 619.5 205.7 620.4 205.7 621.4 205.7 622.4 205.7 623.3 205.7 624.3 205.7 625.3 205.7 626.3 205.7 627.2 205.7 628.2 205.7 629.2 205.7 630.1 205.7" stroke="#431aa3"/>
<path d="M407.8 208.9 408.8 208.9 409.7 208.9 410.7 208.9 411.7 208.9 412.6 208.9 413.6 208.9 414.6 208.9 415.5 208.9 416.5 208.9 417.5 208.9 418.5 208.9 419.4 208.9 420.4 208.9 421.4 208.9 422.3 208.9 423.3 208.9 424.3 208.9 425.3 208.9 426.2 209.0 427.2 209.4 428.2 210.1 429.1 210.9 430.1 211.9 431.1 213.4 432.1 215.4 433.0 218.1 434.0 221.4 435.0 225.4 435.9 229.6 436.9 233.4 437.9 236.1 438.9 237.4 439.8 237.6 440.8 236.9 441.8 235.9 442.7 235.0 443.7 234.5 444.7 234.6 445.6 235.5 446.6 237.1 447.6 239.3 448.6 241.8 449.5 244.7 450.5 248.1 451.5 252.0 452.4 255.9 453.4 259.6 454.4 263.6 455.4 267.4 456.3 268.5 457.3 267.8 458.3 266.3 459.2 264.4 460.2 261.9 461.2 258.3 462.2 254.0 463.1 249.3 464.1 244.7 465.1 239.9 466.0 234.6 467.0 229.0 468.0 223.4 469.0 217.8 469.9 211.8 470.9 205.4 471.9 199.7 472.8 195.7 473.8 193.1 474.8 190.8 475.8 189.2 476.7 188.6 477.7 188.7 478.7 189.2 479.6 189.8 480.6 190.4 481.6 191.0 482.5 191.5 483.5 192.1 484.5 192.7 485.5 193.3 486.4 194.0 487.4 194.6 488.4 195.2 489.3 195.8 490.3 196.4 491.3 196.9 492.3 197.4 493.2 197.9 494.2 198.4 495.2 198.9 496.1 199.4 497.1 199.9 498.1 200.4 499.1 200.8 500.0 201.2 501.0 201.6 502.0 202.0 502.9 202.3 503.9 202.6 504.9 202.9 505.9 203.1 506.8 203.4 507.8 203.6 508.8 203.9 509.7 204.1 510.7 204.3 511.7 204.5 512.6 204.7 513.6 204.9 514.6 205.0 515.6 205.1 516.5 205.2 517.5 205.3 518.5 205.3 519.4 205.3 520.4 205.2 521.4 205.2 522.4 205.2 523.3 205.1 524.3 205.1 525.3 205.0 526.2 205.0 527.2 204.9 528.2 204.7 529.2 204.5 530.1 204.3 531.1 204.0 532.1 203.7 533.0 203.5 534.0 203.2 535.0 202.9 536.0 202.6 536.9 202.4 537.9 202.0 538.9 201.6 539.8 201.1 540.8 200.7 541.8 200.2 542.7 199.8 543.7 199.2 544.7 198.8 545.7 198.5 546.6 198.6 547.6 199.4 548.6 200.5 549.5 201.8 550.5 203.3 551.5 205.3 552.5 207.2 553.4 208.4 554.4 208.6 555.4 207.8 556.3 206.4 557.3 204.6 558.3 203.0 559.3 201.2 560.2 199.2 561.2 197.2 562.2 195.2 563.1 193.6 564.1 192.2 565.1 190.7 566.1 189.4 567.0 188.6 568.0 188.3 569.0 188.7 569.9 189.4 570.9 190.4 571.9 191.6 572.9 192.8 573.8 193.9 574.8 195.0 575.8 196.2 576.7 197.5 577.7 198.7 578.7 199.9 579.6 201.0 580.6 201.9 581.6 202.6 582.6 203.4 583.5 204.0 584.5 204.6 585.5 205.2 586.4 205.6 587.4 206.0 588.4 206.3 589.4 206.6 590.3 206.9 591.3 207.1 592.3 207.4 593.2 207.6 594.2 207.8 595.2 207.9 596.2 208.0 597.1 208.1 598.1 208.1 599.1 208.2 600.0 208.2 601.0 208.3 602.0 208.3 603.0 208.3 603.9 208.4 604.9 208.4 605.9 208.4 606.8 208.4 607.8 208.5 608.8 208.5 609.7 208.5 610.7 208.5 611.7 208.6 612.7 208.6 613.6 208.6 614.6 208.6 615.6 208.6 616.5 208.6 617.5 208.7 618.5 208.7 619.5 208.7 620.4 208.7 621.4 208.7 622.4 208.7 623.3 208.7 624.3 208.7 625.3 208.8 626.3 208.8 627.2 208.8 628.2 208.8 629.2 208.8 630.1 208.8" stroke="#3d1aaa"/>
<path d="M407.8 212.0 408.8 212.0 409.7 212.0 410.7 212.0 411.7 212.0 412.6 212.0 413.6 212.0 414.6 212.0 415.5 212.0 416.5 212.0 417.5 212.0 418.5 212.0 419.4 212.0 420.4 212.0 421.4 212.0 422.3 212.0 423.3 212.0 424.3 212.0 425.3 212.0 426.2 212.1 427.2 212.5 428.2 213.2 429.1 214.0 430.1 215.1 431.1 216.6 432.1 218.7 433.0 221.4 434.0 224.8 435.0 228.8 435.9 233.1 436.9 236.9 437.9 239.6 438.9 241.0 439.8 241.2 440.8 240.6 441.8 239.6 442.7 238.8 443.7 238.3 444.7 238.5 445.6 239.4 446.6 241.1 447.6 243.4 448.6 246.0 449.5 249.0 450.5 252.5 451.5 256.5 452.4 260.6 453.4 264.4 454.4 268.6 455.4 272.4 456.3 273.6 457.3 272.8 458.3 271.3 459.2 269.3 460.2 266.7 461.2 263.0 462.2 258.6 463.1 253.8 464.1 249.0 465.1 244.0 466.0 238.5 467.0 232.8 468.0 227.0 469.0 221.2 469.9 215.0 470.9 208.4 471.9 202.5 472.8 198.4 473.8 195.7 474.8 193.3 475.8 191.6 476.7 191.0 477.7 191.1 478.7 191.6 479.6 192.2 480.6 192.8 481.6 193.4 482.5 194.0 483.5 194.6 484.5 195.2 485.5 195.9 486.4 196.6 487.4 197.2 488.4 197.9 489.3 198.5 490.3 199.1 491.3 199.6 492.3 200.1 493.2 200.6 494.2 201.2 495.2 201.7 496.1 202.2 497.1 202.7 498.1 203.1 499.1 203.6 500.0 204.0 501.0 204.4 502.0 204.8 502.9 205.2 503.9 205.5 504.9 205.8 505.9 206.0 506.8 206.3 507.8 206.5 508.8 206.8 509.7 207.0 510.7 207.2 511.7 207.4 512.6 207.6 513.6 207.8 514.6 207.9 515.6 208.1 516.5 208.1 517.5 208.2 518.5 208.2 519.4 208.2 520.4 208.2 521.4 208.2 522.4 208.1 523.3 208.1 524.3 208.0 525.3 208.0 526.2 207.9 527.2 207.8 528.2 207.6 529.2 207.4 530.1 207.2 531.1 206.9 532.1 206.6 533.0 206.3 534.0 206.1 535.0 205.8 536.0 205.5 536.9 205.2 537.9 204.9 538.9 204.5 539.8 204.0 540.8 203.5 541.8 203.1 542.7 202.6 543.7 202.1 544.7 201.6 545.7 201.4 546.6 201.4 547.6 202.2 548.6 203.4 549.5 204.6 550.5 206.2 551.5 208.2 552.5 210.0 553.4 211.3 554.4 211.5 555.4 210.7 556.3 209.2 557.3 207.5 558.3 205.8 559.3 204.1 560.2 202.1 561.2 200.1 562.2 198.1 563.1 196.6 564.1 195.1 565.1 193.6 566.1 192.4 567.0 191.5 568.0 191.2 569.0 191.6 569.9 192.3 570.9 193.3 571.9 194.5 572.9 195.7 573.8 196.8 574.8 197.9 575.8 199.2 576.7 200.4 577.7 201.7 578.7 202.9 579.6 204.0 580.6 204.9 581.6 205.6 582.6 206.3 583.5 207.0 584.5 207.6 585.5 208.2 586.4 208.6 587.4 209.0 588.4 209.3 589.4 209.6 590.3 209.9 591.3 210.1 592.3 210.4 593.2 210.6 594.2 210.8 595.2 210.9 596.2 211.0 597.1 211.1 598.1 211.1 599.1 211.2 600.0 211.2 601.0 211.3 602.0 211.3 603.0 211.3 603.9 211.4 604.9 211.4 605.9 211.4 606.8 211.5 607.8 211.5 608.8 211.5 609.7 211.5 610.7 211.6 611.7 211.6 612.7 211.6 613.6 211.6 614.6 211.6 615.6 211.6 616.5 211.7 617.5 211.7 618.5 211.7 619.5 211.7 620.4 211.7 621.4 211.7 622.4 211.8 623.3 211.8 624.3 211.8 625.3 211.8 626.3 211.8 627.2 211.8 628.2 211.8 629.2 211.8 630.1 211.8" stroke="#371ab0"/>
<path d="M407.8 215.1 408.8 215.1 409.7 215.1 410.7 215.1 411.7 215.1 412.6 215.1 413.6 215.1 414.6 215.1 415.5 215.1 416.5 215.1 417.5 215.1 418.5 215.1 419.4 215.1 420.4 215.1 421.4 215.1 422.3 215.1 423.3 215.1 424.3 215.1 425.3 215.1 426.2 215.2 427.2 215.6 428.2 216.3 429.1 217.2 430.1 218.3 431.1 219.8 432.1 221.9 433.0 224.6 434.0 228.1 435.0 232.2 435.9 236.5 436.9 240.3 437.9 243.1 438.9 244.5 439.8 244.7 440.8 244.2 441.8 243.3 442.7 242.5 443.7 242.1 444.7 242.3 445.6 243.2 446.6 245.0 447.6 247.3 448.6 250.1 449.5 253.2 450.5 256.7 451.5 260.8 452.4 265.1 453.4 269.0 454.4 273.3 455.4 277.2 456.3 278.5 457.3 277.7 458.3 276.0 459.2 274.1 460.2 271.4 461.2 267.6 462.2 263.0 463.1 258.1 464.1 253.1 465.1 248.0 466.0 242.4 467.0 236.5 468.0 230.5 469.0 224.6 469.9 218.2 470.9 211.4 471.9 205.3 472.8 201.1 473.8 198.3 474.8 195.8 475.8 194.1 476.7 193.5 477.7 193.6 478.7 194.1 479.6 194.7 480.6 195.4 481.6 196.0 482.5 196.6 483.5 197.2 484.5 197.8 485.5 198.5 486.4 199.2 487.4 199.9 488.4 200.5 489.3 201.2 490.3 201.8 491.3 202.3 492.3 202.9 493.2 203.4 494.2 203.9 495.2 204.5 496.1 205.0 497.1 205.5 498.1 206.0 499.1 206.4 500.0 206.9 501.0 207.3 502.0 207.7 502.9 208.0 503.9 208.4 504.9 208.6 505.9 208.9 506.8 209.2 507.8 209.4 508.8 209.7 509.7 209.9 510.7 210.1 511.7 210.4 512.6 210.6 513.6 210.7 514.6 210.9 515.6 211.0 516.5 211.1 517.5 211.2 518.5 211.2 519.4 211.2 520.4 211.1 521.4 211.1 522.4 211.1 523.3 211.0 524.3 211.0 525.3 210.9 526.2 210.8 527.2 210.7 528.2 210.6 529.2 210.4 530.1 210.1 531.1 209.8 532.1 209.5 533.0 209.2 534.0 209.0 535.0 208.7 536.0 208.4 536.9 208.1 537.9 207.8 538.9 207.3 539.8 206.9 540.8 206.4 541.8 206.0 542.7 205.5 543.7 205.0 544.7 204.5 545.7 204.2 546.6 204.3 547.6 205.1 548.6 206.3 549.5 207.5 550.5 209.1 551.5 211.0 552.5 212.9 553.4 214.2 554.4 214.4 555.4 213.6 556.3 212.1 557.3 210.4 558.3 208.8 559.3 207.0 560.2 205.0 561.2 203.0 562.2 201.1 563.1 199.5 564.1 198.0 565.1 196.6 566.1 195.3 567.0 194.4 568.0 194.2 569.0 194.5 569.9 195.3 570.9 196.3 571.9 197.5 572.9 198.7 573.8 199.8 574.8 200.9 575.8 202.1 576.7 203.4 577.7 204.7 578.7 205.9 579.6 206.9 580.6 207.8 581.6 208.6 582.6 209.3 583.5 210.0 584.5 210.6 585.5 211.2 586.4 211.6 587.4 212.0 588.4 212.3 589.4 212.6 590.3 212.9 591.3 213.1 592.3 213.4 593.2 213.6 594.2 213.8 595.2 213.9 596.2 214.0 597.1 214.1 598.1 214.2 599.1 214.2 600.0 214.3 601.0 214.3 602.0 214.3 603.0 214.4 603.9 214.4 604.9 214.4 605.9 214.5 606.8 214.5 607.8 214.5 608.8 214.5 609.7 214.6 610.7 214.6 611.7 214.6 612.7 214.6 613.6 214.6 614.6 214.7 615.6 214.7 616.5 214.7 617.5 214.7 618.5 214.7 619.5 214.7 620.4 214.8 621.4 214.8 622.4 214.8 623.3 214.8 624.3 214.8 625.3 214.8 626.3 214.8 627.2 214.8 628.2 214.8 629.2 214.8 630.1 214.8" stroke="#321bb6"/>
<path d="M407.8 218.2 408.8 218.2 409.7 218.2 410.7 218.2 411.7 218.2 412.6 218.2 413.6 218.2 414.6 218.2 415.5 218.2 416.5 218.2 417.5 218.2 418.5 218.2 419.4 218.2 420.4 218.2 421.4 218.2 422.3 218.2 423.3 218.2 424.3 218.2 425.3 218.2 426.2 218.2 427.2 218.7 428.2 219.4 429.1 220.3 430.1 221.4 431.1 223.0 432.1 225.1 433.0 227.9 434.0 231.3 435.0 235.5 435.9 239.8 436.9 243.7 437.9 246.5 438.9 248.0 439.8 248.2 440.8 247.7 441.8 246.8 442.7 246.1 443.7 245.7 444.7 246.0 445.6 247.0 446.6 248.8 447.6 251.2 448.6 254.0 449.5 257.1 450.5 260.8 451.5 265.0 452.4 269.3 453.4 273.4 454.4 277.7 455.4 281.8 456.3 283.1 457.3 282.2 458.3 280.6 459.2 278.6 460.2 275.8 461.2 271.9 462.2 267.2 463.1 262.2 464.1 257.1 465.1 251.8 466.0 246.1 467.0 240.0 468.0 233.9 469.0 227.9 469.9 221.3 470.9 214.3 471.9 208.1 472.8 203.8 473.8 200.9 474.8 198.4 475.8 196.7 476.7 196.0 477.7 196.2 478.7 196.6 479.6 197.3 480.6 198.0 481.6 198.6 482.5 199.2 483.5 199.8 484.5 200.5 485.5 201.2 486.4 201.9 487.4 202.6 488.4 203.2 489.3 203.9 490.3 204.5 491.3 205.1 492.3 205.6 493.2 206.2 494.2 206.7 495.2 207.3 496.1 207.8 497.1 208.3 498.1 208.8 499.1 209.3 500.0 209.8 501.0 210.2 502.0 210.6 502.9 210.9 503.9 211.3 504.9 211.6 505.9 211.8 506.8 212.1 507.8 212.4 508.8 212.6 509.7 212.9 510.7 213.1 511.7 213.3 512.6 213.5 513.6 213.7 514.6 213.8 515.6 214.0 516.5 214.1 517.5 214.1 518.5 214.1 519.4 214.1 520.4 214.1 521.4 214.1 522.4 214.0 523.3 214.0 524.3 213.9 525.3 213.9 526.2 213.8 527.2 213.7 528.2 213.5 529.2 213.3 530.1 213.1 531.1 212.8 532.1 212.5 533.0 212.2 534.0 211.9 535.0 211.6 536.0 211.3 536.9 211.0 537.9 210.7 538.9 210.2 539.8 209.8 540.8 209.3 541.8 208.9 542.7 208.4 543.7 207.9 544.7 207.4 545.7 207.1 546.6 207.2 547.6 208.0 548.6 209.2 549.5 210.4 550.5 212.0 551.5 213.9 552.5 215.8 553.4 217.1 554.4 217.3 555.4 216.5 556.3 215.1 557.3 213.3 558.3 211.7 559.3 210.0 560.2 208.0 561.2 205.9 562.2 204.0 563.1 202.4 564.1 201.0 565.1 199.5 566.1 198.2 567.0 197.4 568.0 197.1 569.0 197.5 569.9 198.2 570.9 199.3 571.9 200.4 572.9 201.6 573.8 202.8 574.8 203.9 575.8 205.1 576.7 206.4 577.7 207.7 578.7 208.9 579.6 209.9 580.6 210.8 581.6 211.6 582.6 212.3 583.5 213.0 584.5 213.6 585.5 214.2 586.4 214.6 587.4 215.0 588.4 215.3 589.4 215.6 590.3 215.9 591.3 216.1 592.3 216.4 593.2 216.6 594.2 216.8 595.2 217.0 596.2 217.1 597.1 217.1 598.1 217.2 599.1 217.2 600.0 217.3 601.0 217.3 602.0 217.4 603.0 217.4 603.9 217.4 604.9 217.5 605.9 217.5 606.8 217.5 607.8 217.6 608.8 217.6 609.7 217.6 610.7 217.6 611.7 217.6 612.7 217.7 613.6 217.7 614.6 217.7 615.6 217.7 616.5 217.7 617.5 217.7 618.5 217.8 619.5 217.8 620.4 217.8 621.4 217.8 622.4 217.8 623.3 217.8 624.3 217.8 625.3 217.8 626.3 217.9 627.2 217.9 628.2 217.9 629.2 217.9 630.1 217.9" stroke="#2d1bbc"/>
<path d="M407.8 221.3 408.8 221.3 409.7 221.3 410.7 221.3 411.7 221.3 412.6 221.3 413.6 221.3 414.6 221.3 415.5 221.3 416.5 221.3 417.5 221.3 418.5 221.3 419.4 221.3 420.4 221.3 421.4 221.3 422.3 221.3 423.3 221.3 424.3 221.3 425.3 221.3 426.2 221.3 427.2 221.8 428.2 222.5 429.1 223.4 430.1 224.6 431.1 226.2 432.1 228.3 433.0 231.1 434.0 234.6 435.0 238.8 435.9 243.1 436.9 247.0 437.9 249.9 438.9 251.4 439.8 251.7 440.8 251.2 441.8 250.3 442.7 249.6 443.7 249.3 444.7 249.6 445.6 250.6 446.6 252.5 447.6 254.9 448.6 257.8 449.5 261.0 450.5 264.7 451.5 269.0 452.4 273.4 453.4 277.5 454.4 282.0 455.4 286.1 456.3 287.4 457.3 286.6 458.3 284.9 459.2 282.8 460.2 280.0 461.2 276.0 462.2 271.3 463.1 266.1 464.1 261.0 465.1 255.6 466.0 249.7 467.0 243.6 468.0 237.3 469.0 231.1 469.9 224.5 470.9 217.3 471.9 211.0 472.8 206.6 473.8 203.7 474.8 201.1 475.8 199.3 476.7 198.6 477.7 198.8 478.7 199.3 479.6 199.9 480.6 200.6 481.6 201.3 482.5 201.9 483.5 202.5 484.5 203.2 485.5 203.9 486.4 204.6 487.4 205.3 488.4 206.0 489.3 206.7 490.3 207.3 491.3 207.9 492.3 208.5 493.2 209.0 494.2 209.6 495.2 210.1 496.1 210.7 497.1 211.2 498.1 211.7 499.1 212.2 500.0 212.7 501.0 213.1 502.0 213.5 502.9 213.9 503.9 214.2 504.9 214.5 505.9 214.8 506.8 215.0 507.8 215.3 508.8 215.6 509.7 215.8 510.7 216.1 511.7 216.3 512.6 216.5 513.6 216.7 514.6 216.8 515.6 217.0 516.5 217.0 517.5 217.1 518.5 217.1 519.4 217.1 520.4 217.1 521.4 217.1 522.4 217.0 523.3 217.0 524.3 216.9 525.3 216.8 526.2 216.8 527.2 216.7 528.2 216.5 529.2 216.3 530.1 216.0 531.1 215.7 532.1 215.4 533.0 215.1 534.0 214.8 535.0 214.5 536.0 214.2 536.9 213.9 537.9 213.6 538.9 213.2 539.8 212.7 540.8 212.2 541.8 211.8 542.7 211.3 543.7 210.8 544.7 210.4 545.7 210.1 546.6 210.1 547.6 210.9 548.6 212.1 549.5 213.3 550.5 214.9 551.5 216.9 552.5 218.8 553.4 220.0 554.4 220.2 555.4 219.4 556.3 218.0 557.3 216.3 558.3 214.6 559.3 212.9 560.2 210.9 561.2 208.9 562.2 207.0 563.1 205.4 564.1 203.9 565.1 202.5 566.1 201.2 567.0 200.3 568.0 200.1 569.0 200.5 569.9 201.2 570.9 202.2 571.9 203.4 572.9 204.6 573.8 205.7 574.8 206.9 575.8 208.1 576.7 209.4 577.7 210.6 578.7 211.9 579.6 212.9 580.6 213.8 581.6 214.6 582.6 215.3 583.5 216.0 584.5 216.6 585.5 217.2 586.4 217.6 587.4 218.0 588.4 218.3 589.4 218.6 590.3 218.9 591.3 219.2 592.3 219.4 593.2 219.6 594.2 219.8 595.2 220.0 596.2 220.1 597.1 220.2 598.1 220.2 599.1 220.3 600.0 220.3 601.0 220.3 602.0 220.4 603.0 220.4 603.9 220.5 604.9 220.5 605.9 220.5 606.8 220.6 607.8 220.6 608.8 220.6 609.7 220.6 610.7 220.7 611.7 220.7 612.7 220.7 613.6 220.7 614.6 220.7 615.6 220.7 616.5 220.8 617.5 220.8 618.5 220.8 619.5 220.8 620.4 220.8 621.4 220.8 622.4 220.8 623.3 220.9 624.3 220.9 625.3 220.9 626.3 220.9 627.2 220.9 628.2 220.9 629.2 220.9 630.1 220.9" stroke="#281bc2"/>
<path d="M407.8 224.4 408.8 224.4 409.7 224.4 410.7 224.4 411.7 224.4 412.6 224.4 413.6 224.4 414.6 224.4 415.5 224.4 416.5 224.4 417.5 224.4 418.5 224.4 419.4 224.4 420.4 224.4 421.4 224.4 422.3 224.4 423.3 224.4 424.3 224.4 425.3 224.4 426.2 224.4 427.2 224.9 428.2 225.6 429.1 226.5 430.1 227.7 431.1 229.3 432.1 231.5 433.0 234.3 434.0 237.8 435.0 242.0 435.9 246.4 436.9 250.3 437.9 253.2 438.9 254.7 439.8 255.0 440.8 254.6 441.8 253.8 442.7 253.1 443.7 252.8 444.7 253.1 445.6 254.2 446.6 256.0 447.6 258.5 448.6 261.5 449.5 264.7 450.5 268.5 451.5 272.9 452.4 277.3 453.4 281.5 454.4 286.0 455.4 290.2 456.3 291.6 457.3 290.7 458.3 289.0 459.2 286.9 460.2 284.0 461.2 280.0 462.2 275.1 463.1 269.9 464.1 264.7 465.1 259.2 466.0 253.3 467.0 247.0 468.0 240.6 469.0 234.4 469.9 227.6 470.9 220.4 471.9 213.9 472.8 209.5 473.8 206.5 474.8 203.9 475.8 202.1 476.7 201.4 477.7 201.6 478.7 202.0 479.6 202.7 480.6 203.4 481.6 204.0 482.5 204.7 483.5 205.3 484.5 206.0 485.5 206.7 486.4 207.4 487.4 208.2 488.4 208.9 489.3 209.5 490.3 210.2 491.3 210.8 492.3 211.3 493.2 211.9 494.2 212.5 495.2 213.0 496.1 213.6 497.1 214.1 498.1 214.6 499.1 215.1 500.0 215.6 501.0 216.0 502.0 216.5 502.9 216.8 503.9 217.2 504.9 217.5 505.9 217.7 506.8 218.0 507.8 218.3 508.8 218.5 509.7 218.8 510.7 219.0 511.7 219.3 512.6 219.5 513.6 219.7 514.6 219.8 515.6 220.0 516.5 220.0 517.5 220.1 518.5 220.1 519.4 220.1 520.4 220.1 521.4 220.1 522.4 220.0 523.3 220.0 524.3 219.9 525.3 219.8 526.2 219.8 527.2 219.7 528.2 219.5 529.2 219.3 530.1 219.0 531.1 218.7 532.1 218.4 533.0 218.1 534.0 217.8 535.0 217.5 536.0 217.2 536.9 216.9 537.9 216.5 538.9 216.1 539.8 215.7 540.8 215.2 541.8 214.7 542.7 214.3 543.7 213.8 544.7 213.3 545.7 213.0 546.6 213.1 547.6 213.9 548.6 215.0 549.5 216.3 550.5 217.8 551.5 219.8 552.5 221.7 553.4 223.0 554.4 223.2 555.4 222.4 556.3 221.0 557.3 219.3 558.3 217.6 559.3 215.9 560.2 213.9 561.2 211.9 562.2 209.9 563.1 208.4 564.1 206.9 565.1 205.5 566.1 204.2 567.0 203.3 568.0 203.1 569.0 203.5 569.9 204.2 570.9 205.2 571.9 206.4 572.9 207.6 573.8 208.7 574.8 209.9 575.8 211.1 576.7 212.4 577.7 213.7 578.7 214.9 579.6 215.9 580.6 216.8 581.6 217.6 582.6 218.3 583.5 219.0 584.5 219.6 585.5 220.2 586.4 220.7 587.4 221.0 588.4 221.3 589.4 221.6 590.3 221.9 591.3 222.2 592.3 222.4 593.2 222.7 594.2 222.8 595.2 223.0 596.2 223.1 597.1 223.2 598.1 223.2 599.1 223.3 600.0 223.3 601.0 223.4 602.0 223.4 603.0 223.5 603.9 223.5 604.9 223.5 605.9 223.6 606.8 223.6 607.8 223.6 608.8 223.6 609.7 223.7 610.7 223.7 611.7 223.7 612.7 223.7 613.6 223.7 614.6 223.8 615.6 223.8 616.5 223.8 617.5 223.8 618.5 223.8 619.5 223.8 620.4 223.9 621.4 223.9 622.4 223.9 623.3 223.9 624.3 223.9 625.3 223.9 626.3 223.9 627.2 223.9 628.2 223.9 629.2 223.9 630.1 223.9" stroke="#231cc8"/>
<path d="M407.8 227.5 408.8 227.5 409.7 227.5 410.7 227.5 411.7 227.5 412.6 227.5 413.6 227.5 414.6 227.5 415.5 227.5 416.5 227.5 417.5 227.5 418.5 227.5 419.4 227.5 420.4 227.5 421.4 227.5 422.3 227.5 423.3 227.5 424.3 227.5 425.3 227.5 426.2 227.5 427.2 228.0 428.2 228.7 429.1 229.7 430.1 230.8 431.1 232.4 432.1 234.6 433.0 237.4 434.0 241.0 435.0 245.2 435.9 249.6 436.9 253.6 437.9 256.5 438.9 258.0 439.8 258.3 440.8 257.9 441.8 257.1 442.7 256.5 443.7 256.2 444.7 256.5 445.6 257.6 446.6 259.5 447.6 262.0 448.6 265.0 449.5 268.3 450.5 272.1 451.5 276.5 452.4 281.1 453.4 285.3 454.4 289.9 455.4 294.1 456.3 295.5 457.3 294.6 458.3 292.8 459.2 290.7 460.2 287.8 461.2 283.7 462.2 278.8 463.1 273.5 464.1 268.2 465.1 262.7 466.0 256.7 467.0 250.3 468.0 243.9 469.0 237.6 469.9 230.7 470.9 223.4 471.9 216.9 472.8 212.4 473.8 209.3 474.8 206.7 475.8 204.9 476.7 204.2 477.7 204.4 478.7 204.8 479.6 205.5 480.6 206.2 481.6 206.9 482.5 207.5 483.5 208.2 484.5 208.9 485.5 209.6 486.4 210.3 487.4 211.0 488.4 211.7 489.3 212.4 490.3 213.1 491.3 213.7 492.3 214.2 493.2 214.8 494.2 215.4 495.2 216.0 496.1 216.5 497.1 217.1 498.1 217.6 499.1 218.1 500.0 218.6 501.0 219.0 502.0 219.4 502.9 219.8 503.9 220.1 504.9 220.4 505.9 220.7 506.8 221.0 507.8 221.3 508.8 221.5 509.7 221.8 510.7 222.1 511.7 222.3 512.6 222.5 513.6 222.7 514.6 222.8 515.6 223.0 516.5 223.1 517.5 223.1 518.5 223.1 519.4 223.1 520.4 223.1 521.4 223.1 522.4 223.0 523.3 223.0 524.3 222.9 525.3 222.9 526.2 222.8 527.2 222.7 528.2 222.5 529.2 222.3 530.1 222.0 531.1 221.7 532.1 221.4 533.0 221.1 534.0 220.8 535.0 220.5 536.0 220.2 536.9 219.9 537.9 219.5 538.9 219.1 539.8 218.6 540.8 218.2 541.8 217.7 542.7 217.3 543.7 216.7 544.7 216.3 545.7 216.0 546.6 216.1 547.6 216.8 548.6 218.0 549.5 219.3 550.5 220.8 551.5 222.8 552.5 224.7 553.4 226.0 554.4 226.2 555.4 225.4 556.3 224.0 557.3 222.2 558.3 220.6 559.3 218.9 560.2 216.9 561.2 214.8 562.2 212.9 563.1 211.4 564.1 209.9 565.1 208.5 566.1 207.2 567.0 206.3 568.0 206.1 569.0 206.5 569.9 207.2 570.9 208.2 571.9 209.4 572.9 210.6 573.8 211.8 574.8 212.9 575.8 214.1 576.7 215.4 577.7 216.7 578.7 217.9 579.6 219.0 580.6 219.8 581.6 220.6 582.6 221.3 583.5 222.0 584.5 222.7 585.5 223.2 586.4 223.7 587.4 224.0 588.4 224.3 589.4 224.6 590.3 224.9 591.3 225.2 592.3 225.5 593.2 225.7 594.2 225.9 595.2 226.0 596.2 226.1 597.1 226.2 598.1 226.3 599.1 226.3 600.0 226.4 601.0 226.4 602.0 226.4 603.0 226.5 603.9 226.5 604.9 226.6 605.9 226.6 606.8 226.6 607.8 226.6 608.8 226.7 609.7 226.7 610.7 226.7 611.7 226.7 612.7 226.8 613.6 226.8 614.6 226.8 615.6 226.8 616.5 226.8 617.5 226.8 618.5 226.9 619.5 226.9 620.4 226.9 621.4 226.9 622.4 226.9 623.3 226.9 624.3 226.9 625.3 226.9 626.3 226.9 627.2 227.0 628.2 227.0 629.2 227.0 630.1 227.0" stroke="#1e1cce"/>
</g>
<g fill="none" stroke="#000"><path d="M58.00 10.90V299.60M280.00 10.90V299.60" stroke-width="1.0"/>
<path d="M57.50 11.4H280.50M57.50 299.2H280.50" stroke-width="1.2"/><path d="M58.00 94.5H280.00" stroke-width="1.0"/></g>
<g fill="none" stroke="#000"><path d="M408.00 10.90V299.60M630.00 10.90V299.60" stroke-width="1.0"/>
<path d="M407.50 11.4H630.50M407.50 299.2H630.50" stroke-width="1.2"/><path d="M408.00 94.5H630.00" stroke-width="1.0"/></g>
<text x="69.6" y="34.2" font-family='"Liberation Sans", sans-serif' font-size="18.3" font-weight="bold">a</text>
<text x="69.9" y="115.6" font-family='"Liberation Sans", sans-serif' font-size="18.3" font-weight="bold">c</text>
<rect x="212.3" y="9.2" width="71.0" height="19.0" fill="#fff" stroke="#000" stroke-width="1.1"/>
<text x="247.8" y="23.2" font-family='"Liberation Sans", sans-serif' font-size="12.7" text-anchor="middle">LSMO/STO</text>
<text x="126.3" y="47.8" font-family='"Liberation Sans", sans-serif' font-size="14.5">Mn L<tspan font-size="11" dy="3">2,3</tspan><tspan dy="-3"> XAS (</tspan><tspan font-style="italic">θ</tspan><tspan font-size="10.5" dy="3" font-weight="bold" font-style="italic">H</tspan><tspan dy="-3"> = 45°)</tspan></text>
<text x="85.0" y="26.0" font-family='"Liberation Sans", sans-serif' font-size="13.5" fill="#6464e0">σ–</text>
<text x="103.0" y="61.6" font-family='"Liberation Sans", sans-serif' font-size="13.5" fill="#e46460">σ+</text>
<text x="124.2" y="26.1" font-family='"Liberation Sans", sans-serif' font-size="12.2" fill="#34aa34">average</text>
<line x1="94.7" y1="27.8" x2="98.0" y2="38.3" stroke="#7b7be6" stroke-width="0.6"/>
<line x1="110.6" y1="39.6" x2="110.6" y2="46.3" stroke="#e98a84" stroke-width="0.6"/>
<line x1="114.8" y1="25.5" x2="123.5" y2="22.4" stroke="#3aaa3a" stroke-width="0.7" stroke-dasharray="1.5 1"/>
<text x="139.2" y="245.2" font-family='"Liberation Sans", sans-serif' font-size="14.4">Mn L<tspan font-size="10.5" dy="3">2,3</tspan><tspan dy="-3"> XMCD</tspan></text>
<text x="146.3" y="266.0" font-family='"Liberation Sans", sans-serif' font-size="14.2"><tspan font-style="italic">μ</tspan><tspan font-size="10" dy="3">0</tspan><tspan dy="-3" font-style="italic">H</tspan> = 0.7 <tspan dx="1.2">T</tspan></text>
<text x="148.3" y="284.2" font-family='"Liberation Sans", sans-serif' font-size="14"><tspan font-style="italic">T</tspan> = 270 K</text>
<text x="306.6" y="141.7" font-family='"Liberation Sans", sans-serif' font-size="14"><tspan font-family="'Liberation Serif', serif" font-style="italic" font-size="15">θ</tspan><tspan font-size="10" dy="3" font-weight="bold" font-style="italic">H</tspan></text>
<path d="M288.0 156.8h9" stroke="#e01e2a" stroke-width="1.4" fill="none"/><path d="M284.4 156.8l5.5 -3v6z" fill="#e01e2a"/>
<text x="301.4" y="162.0" font-family='"Liberation Sans", sans-serif' font-size="14.5" fill="#e01e2a">– 75°</text>
<path d="M288.0 176.0h9" stroke="#a01e52" stroke-width="1.4" fill="none"/><path d="M284.4 176.0l5.5 -3v6z" fill="#a01e52"/>
<text x="301.4" y="181.2" font-family='"Liberation Sans", sans-serif' font-size="14.5" fill="#a01e52">– 20°</text>
<path d="M288.0 195.5h9" stroke="#5e26a6" stroke-width="1.4" fill="none"/><path d="M284.4 195.5l5.5 -3v6z" fill="#5e26a6"/>
<text x="301.4" y="200.7" font-family='"Liberation Sans", sans-serif' font-size="14.5" fill="#5e26a6">0°</text>
<path d="M288.0 213.5h9" stroke="#3a26c2" stroke-width="1.4" fill="none"/><path d="M284.4 213.5l5.5 -3v6z" fill="#3a26c2"/>
<text x="301.4" y="218.7" font-family='"Liberation Sans", sans-serif' font-size="14.5" fill="#3a26c2">45°</text>
<path d="M288.0 225.5h9" stroke="#2a2ed2" stroke-width="1.4" fill="none"/><path d="M284.4 225.5l5.5 -3v6z" fill="#2a2ed2"/>
<text x="301.4" y="230.7" font-family='"Liberation Sans", sans-serif' font-size="14.5" fill="#2a2ed2">70°</text>
<text x="175.9" y="334.2" font-family='"Liberation Sans", sans-serif' font-size="14.5" text-anchor="middle">Photon energy (eV)</text>
<text transform="translate(10.7,49.5) rotate(-90)" font-family='"Liberation Sans", sans-serif' font-size="14.5" text-anchor="middle">XAS (arb. units)</text>
<text transform="translate(10.7,206.9) rotate(-90)" font-family='"Liberation Sans", sans-serif' font-size="14.5" text-anchor="middle">XMCD Intensity (arb. units)</text>
<text x="419.0" y="33.4" font-family='"Liberation Sans", sans-serif' font-size="18.3" font-weight="bold">b</text>
<text x="416.4" y="115.3" font-family='"Liberation Sans", sans-serif' font-size="18.3" font-weight="bold">d</text>
<rect x="562.3" y="9.2" width="71.0" height="19.0" fill="#fff" stroke="#000" stroke-width="1.1"/>
<text x="597.8" y="23.2" font-family='"Liberation Sans", sans-serif' font-size="12.7" text-anchor="middle">LSMO/LAO</text>
<text x="476.3" y="47.8" font-family='"Liberation Sans", sans-serif' font-size="14.5">Mn L<tspan font-size="11" dy="3">2,3</tspan><tspan dy="-3"> XAS (</tspan><tspan font-style="italic">θ</tspan><tspan font-size="10.5" dy="3" font-weight="bold" font-style="italic">H</tspan><tspan dy="-3"> = 45°)</tspan></text>
<text x="433.8" y="25.8" font-family='"Liberation Sans", sans-serif' font-size="13.5" fill="#6464e0">σ–</text>
<text x="448.0" y="68.2" font-family='"Liberation Sans", sans-serif' font-size="13.5" fill="#e46460">σ+</text>
<text x="475.3" y="26.1" font-family='"Liberation Sans", sans-serif' font-size="12.2" fill="#34aa34">average</text>
<line x1="443.1" y1="28.9" x2="446.6" y2="36.9" stroke="#7b7be6" stroke-width="0.6"/>
<line x1="455.5" y1="44.9" x2="457.3" y2="52.9" stroke="#e98a84" stroke-width="0.6"/>
<line x1="462.6" y1="26.2" x2="473.3" y2="22.7" stroke="#3aaa3a" stroke-width="0.7" stroke-dasharray="1.5 1"/>
<text x="491.5" y="244.2" font-family='"Liberation Sans", sans-serif' font-size="14.4">Mn L<tspan font-size="10.5" dy="3">2,3</tspan><tspan dy="-3"> XMCD</tspan></text>
<text x="500.0" y="263.5" font-family='"Liberation Sans", sans-serif' font-size="14.2"><tspan font-style="italic">μ</tspan><tspan font-size="10" dy="3">0</tspan><tspan dy="-3" font-style="italic">H</tspan> = 0.5 <tspan dx="1.2">T</tspan></text>
<text x="500.6" y="282.7" font-family='"Liberation Sans", sans-serif' font-size="14"><tspan font-style="italic">T</tspan> = 30 K</text>
<text x="659.1" y="144.9" font-family='"Liberation Sans", sans-serif' font-size="14"><tspan font-family="'Liberation Serif', serif" font-style="italic" font-size="15">θ</tspan><tspan font-size="10" dy="3" font-weight="bold" font-style="italic">H</tspan></text>
<path d="M638.0 161.0h9" stroke="#e01e2a" stroke-width="1.4" fill="none"/><path d="M634.4 161.0l5.5 -3v6z" fill="#e01e2a"/>
<text x="651.4" y="166.2" font-family='"Liberation Sans", sans-serif' font-size="14.5" fill="#e01e2a">– 80°</text>
<path d="M638.0 173.5h9" stroke="#cc2238" stroke-width="1.4" fill="none"/><path d="M634.4 173.5l5.5 -3v6z" fill="#cc2238"/>
<text x="651.4" y="178.7" font-family='"Liberation Sans", sans-serif' font-size="14.5" fill="#cc2238">– 50°</text>
<path d="M638.0 192.5h9" stroke="#6a2296" stroke-width="1.4" fill="none"/><path d="M634.4 192.5l5.5 -3v6z" fill="#6a2296"/>
<text x="651.4" y="197.7" font-family='"Liberation Sans", sans-serif' font-size="14.5" fill="#6a2296">0°</text>
<path d="M638.0 207.5h9" stroke="#4a26b4" stroke-width="1.4" fill="none"/><path d="M634.4 207.5l5.5 -3v6z" fill="#4a26b4"/>
<text x="651.4" y="212.7" font-family='"Liberation Sans", sans-serif' font-size="14.5" fill="#4a26b4">45°</text>
<path d="M638.0 225.5h9" stroke="#2a2ed2" stroke-width="1.4" fill="none"/><path d="M634.4 225.5l5.5 -3v6z" fill="#2a2ed2"/>
<text x="651.4" y="230.7" font-family='"Liberation Sans", sans-serif' font-size="14.5" fill="#2a2ed2">85°</text>
<text x="525.9" y="334.2" font-family='"Liberation Sans", sans-serif' font-size="14.5" text-anchor="middle">Photon energy (eV)</text>
<text transform="translate(360.7,49.5) rotate(-90)" font-family='"Liberation Sans", sans-serif' font-size="14.5" text-anchor="middle">XAS (arb. units)</text>
<text transform="translate(360.7,206.9) rotate(-90)" font-family='"Liberation Sans", sans-serif' font-size="14.5" text-anchor="middle">XMCD Intensity (arb. units)</text>
</svg></body></html>
